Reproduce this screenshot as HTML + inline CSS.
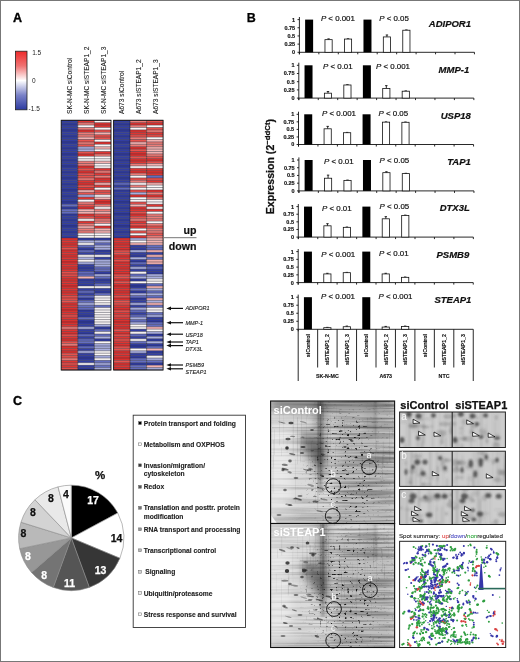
<!DOCTYPE html>
<html><head><meta charset="utf-8"><title>Figure</title>
<style>html,body{margin:0;padding:0;background:#fff;}svg{display:block;}</style></head>
<body><svg width="520" height="662" viewBox="0 0 520 662"><defs><filter id="blur4" x="-5%" y="-5%" width="110%" height="110%"><feGaussianBlur stdDeviation="0.4"/></filter><filter id="blur5" x="-5%" y="-5%" width="110%" height="110%"><feGaussianBlur stdDeviation="0.5"/></filter><filter id="blurBig" x="-20%" y="-20%" width="140%" height="140%"><feGaussianBlur stdDeviation="5"/></filter><filter id="blur7" x="-5%" y="-5%" width="110%" height="110%"><feGaussianBlur stdDeviation="0.7"/></filter><filter id="tex11" x="0" y="0" width="100%" height="100%"><feTurbulence type="fractalNoise" baseFrequency="0.03 0.5" numOctaves="2" seed="4"/><feColorMatrix type="matrix" values="0 0 0 0 0 0 0 0 0 0 0 0 0 0 0 -2.5 0 0 0 1.4"/></filter><filter id="tex23" x="0" y="0" width="100%" height="100%"><feTurbulence type="fractalNoise" baseFrequency="0.03 0.5" numOctaves="2" seed="9"/><feColorMatrix type="matrix" values="0 0 0 0 0 0 0 0 0 0 0 0 0 0 0 -2.5 0 0 0 1.4"/></filter><filter id="blur10" x="-5%" y="-5%" width="110%" height="110%"><feGaussianBlur stdDeviation="1.0"/></filter></defs>
<g><rect x="61.20" y="120.30" width="16.60" height="2.45" fill="#323ea2"/><rect x="77.80" y="120.30" width="16.60" height="2.45" fill="#e03430"/><rect x="94.40" y="120.30" width="16.60" height="2.45" fill="#faf6f6"/><rect x="113.60" y="120.30" width="16.50" height="2.45" fill="#323ea2"/><rect x="130.10" y="120.30" width="16.50" height="2.45" fill="#ec7d78"/><rect x="146.60" y="120.30" width="16.50" height="2.45" fill="#e8524c"/><rect x="61.20" y="122.70" width="16.60" height="2.45" fill="#323ea2"/><rect x="77.80" y="122.70" width="16.60" height="2.45" fill="#ec7d78"/><rect x="94.40" y="122.70" width="16.60" height="2.45" fill="#e03430"/><rect x="113.60" y="122.70" width="16.50" height="2.45" fill="#323ea2"/><rect x="130.10" y="122.70" width="16.50" height="2.45" fill="#e03430"/><rect x="146.60" y="122.70" width="16.50" height="2.45" fill="#e03430"/><rect x="61.20" y="125.10" width="16.60" height="2.45" fill="#323ea2"/><rect x="77.80" y="125.10" width="16.60" height="2.45" fill="#faf6f6"/><rect x="94.40" y="125.10" width="16.60" height="2.45" fill="#e03430"/><rect x="113.60" y="125.10" width="16.50" height="2.45" fill="#323ea2"/><rect x="130.10" y="125.10" width="16.50" height="2.45" fill="#ec7d78"/><rect x="146.60" y="125.10" width="16.50" height="2.45" fill="#faf6f6"/><rect x="61.20" y="127.50" width="16.60" height="2.45" fill="#323ea2"/><rect x="77.80" y="127.50" width="16.60" height="2.45" fill="#ec7d78"/><rect x="94.40" y="127.50" width="16.60" height="2.45" fill="#faf6f6"/><rect x="113.60" y="127.50" width="16.50" height="2.45" fill="#323ea2"/><rect x="130.10" y="127.50" width="16.50" height="2.45" fill="#faf6f6"/><rect x="146.60" y="127.50" width="16.50" height="2.45" fill="#e8524c"/><rect x="61.20" y="129.90" width="16.60" height="2.45" fill="#323ea2"/><rect x="77.80" y="129.90" width="16.60" height="2.45" fill="#e03430"/><rect x="94.40" y="129.90" width="16.60" height="2.45" fill="#e8524c"/><rect x="113.60" y="129.90" width="16.50" height="2.45" fill="#323ea2"/><rect x="130.10" y="129.90" width="16.50" height="2.45" fill="#e03430"/><rect x="146.60" y="129.90" width="16.50" height="2.45" fill="#ec7d78"/><rect x="61.20" y="132.30" width="16.60" height="2.45" fill="#323ea2"/><rect x="77.80" y="132.30" width="16.60" height="2.45" fill="#ec7d78"/><rect x="94.40" y="132.30" width="16.60" height="2.45" fill="#f4b2b0"/><rect x="113.60" y="132.30" width="16.50" height="2.45" fill="#323ea2"/><rect x="130.10" y="132.30" width="16.50" height="2.45" fill="#e03430"/><rect x="146.60" y="132.30" width="16.50" height="2.45" fill="#e03430"/><rect x="61.20" y="134.71" width="16.60" height="2.45" fill="#323ea2"/><rect x="77.80" y="134.71" width="16.60" height="2.45" fill="#ec7d78"/><rect x="94.40" y="134.71" width="16.60" height="2.45" fill="#e8524c"/><rect x="113.60" y="134.71" width="16.50" height="2.45" fill="#323ea2"/><rect x="130.10" y="134.71" width="16.50" height="2.45" fill="#e8524c"/><rect x="146.60" y="134.71" width="16.50" height="2.45" fill="#e8524c"/><rect x="61.20" y="137.11" width="16.60" height="2.45" fill="#323ea2"/><rect x="77.80" y="137.11" width="16.60" height="2.45" fill="#f4b2b0"/><rect x="94.40" y="137.11" width="16.60" height="2.45" fill="#e8524c"/><rect x="113.60" y="137.11" width="16.50" height="2.45" fill="#323ea2"/><rect x="130.10" y="137.11" width="16.50" height="2.45" fill="#ec7d78"/><rect x="146.60" y="137.11" width="16.50" height="2.45" fill="#faf6f6"/><rect x="61.20" y="139.51" width="16.60" height="2.45" fill="#323ea2"/><rect x="77.80" y="139.51" width="16.60" height="2.45" fill="#e8524c"/><rect x="94.40" y="139.51" width="16.60" height="2.45" fill="#faf6f6"/><rect x="113.60" y="139.51" width="16.50" height="2.45" fill="#323ea2"/><rect x="130.10" y="139.51" width="16.50" height="2.45" fill="#e8524c"/><rect x="146.60" y="139.51" width="16.50" height="2.45" fill="#f4b2b0"/><rect x="61.20" y="141.91" width="16.60" height="2.45" fill="#323ea2"/><rect x="77.80" y="141.91" width="16.60" height="2.45" fill="#ec7d78"/><rect x="94.40" y="141.91" width="16.60" height="2.45" fill="#e03430"/><rect x="113.60" y="141.91" width="16.50" height="2.45" fill="#323ea2"/><rect x="130.10" y="141.91" width="16.50" height="2.45" fill="#f4b2b0"/><rect x="146.60" y="141.91" width="16.50" height="2.45" fill="#ec7d78"/><rect x="61.20" y="144.31" width="16.60" height="2.45" fill="#323ea2"/><rect x="77.80" y="144.31" width="16.60" height="2.45" fill="#e8524c"/><rect x="94.40" y="144.31" width="16.60" height="2.45" fill="#faf6f6"/><rect x="113.60" y="144.31" width="16.50" height="2.45" fill="#323ea2"/><rect x="130.10" y="144.31" width="16.50" height="2.45" fill="#ec7d78"/><rect x="146.60" y="144.31" width="16.50" height="2.45" fill="#ec7d78"/><rect x="61.20" y="146.71" width="16.60" height="2.45" fill="#323ea2"/><rect x="77.80" y="146.71" width="16.60" height="2.45" fill="#a8aede"/><rect x="94.40" y="146.71" width="16.60" height="2.45" fill="#f4b2b0"/><rect x="113.60" y="146.71" width="16.50" height="2.45" fill="#323ea2"/><rect x="130.10" y="146.71" width="16.50" height="2.45" fill="#e03430"/><rect x="146.60" y="146.71" width="16.50" height="2.45" fill="#f4b2b0"/><rect x="61.20" y="149.11" width="16.60" height="2.45" fill="#323ea2"/><rect x="77.80" y="149.11" width="16.60" height="2.45" fill="#a8aede"/><rect x="94.40" y="149.11" width="16.60" height="2.45" fill="#faf6f6"/><rect x="113.60" y="149.11" width="16.50" height="2.45" fill="#323ea2"/><rect x="130.10" y="149.11" width="16.50" height="2.45" fill="#e8524c"/><rect x="146.60" y="149.11" width="16.50" height="2.45" fill="#f4b2b0"/><rect x="61.20" y="151.51" width="16.60" height="2.45" fill="#323ea2"/><rect x="77.80" y="151.51" width="16.60" height="2.45" fill="#e8524c"/><rect x="94.40" y="151.51" width="16.60" height="2.45" fill="#e03430"/><rect x="113.60" y="151.51" width="16.50" height="2.45" fill="#323ea2"/><rect x="130.10" y="151.51" width="16.50" height="2.45" fill="#e03430"/><rect x="146.60" y="151.51" width="16.50" height="2.45" fill="#f4b2b0"/><rect x="61.20" y="153.91" width="16.60" height="2.45" fill="#323ea2"/><rect x="77.80" y="153.91" width="16.60" height="2.45" fill="#e03430"/><rect x="94.40" y="153.91" width="16.60" height="2.45" fill="#ec7d78"/><rect x="113.60" y="153.91" width="16.50" height="2.45" fill="#323ea2"/><rect x="130.10" y="153.91" width="16.50" height="2.45" fill="#e03430"/><rect x="146.60" y="153.91" width="16.50" height="2.45" fill="#ec7d78"/><rect x="61.20" y="156.31" width="16.60" height="2.45" fill="#323ea2"/><rect x="77.80" y="156.31" width="16.60" height="2.45" fill="#faf6f6"/><rect x="94.40" y="156.31" width="16.60" height="2.45" fill="#faf6f6"/><rect x="113.60" y="156.31" width="16.50" height="2.45" fill="#323ea2"/><rect x="130.10" y="156.31" width="16.50" height="2.45" fill="#e8524c"/><rect x="146.60" y="156.31" width="16.50" height="2.45" fill="#e8524c"/><rect x="61.20" y="158.72" width="16.60" height="2.45" fill="#323ea2"/><rect x="77.80" y="158.72" width="16.60" height="2.45" fill="#faf6f6"/><rect x="94.40" y="158.72" width="16.60" height="2.45" fill="#faf6f6"/><rect x="113.60" y="158.72" width="16.50" height="2.45" fill="#323ea2"/><rect x="130.10" y="158.72" width="16.50" height="2.45" fill="#e03430"/><rect x="146.60" y="158.72" width="16.50" height="2.45" fill="#e03430"/><rect x="61.20" y="161.12" width="16.60" height="2.45" fill="#323ea2"/><rect x="77.80" y="161.12" width="16.60" height="2.45" fill="#ec7d78"/><rect x="94.40" y="161.12" width="16.60" height="2.45" fill="#f4b2b0"/><rect x="113.60" y="161.12" width="16.50" height="2.45" fill="#323ea2"/><rect x="130.10" y="161.12" width="16.50" height="2.45" fill="#e03430"/><rect x="146.60" y="161.12" width="16.50" height="2.45" fill="#e8524c"/><rect x="61.20" y="163.52" width="16.60" height="2.45" fill="#323ea2"/><rect x="77.80" y="163.52" width="16.60" height="2.45" fill="#ec7d78"/><rect x="94.40" y="163.52" width="16.60" height="2.45" fill="#faf6f6"/><rect x="113.60" y="163.52" width="16.50" height="2.45" fill="#323ea2"/><rect x="130.10" y="163.52" width="16.50" height="2.45" fill="#ec7d78"/><rect x="146.60" y="163.52" width="16.50" height="2.45" fill="#f4b2b0"/><rect x="61.20" y="165.92" width="16.60" height="2.45" fill="#323ea2"/><rect x="77.80" y="165.92" width="16.60" height="2.45" fill="#e03430"/><rect x="94.40" y="165.92" width="16.60" height="2.45" fill="#faf6f6"/><rect x="113.60" y="165.92" width="16.50" height="2.45" fill="#323ea2"/><rect x="130.10" y="165.92" width="16.50" height="2.45" fill="#faf6f6"/><rect x="146.60" y="165.92" width="16.50" height="2.45" fill="#faf6f6"/><rect x="61.20" y="168.32" width="16.60" height="2.45" fill="#323ea2"/><rect x="77.80" y="168.32" width="16.60" height="2.45" fill="#e8524c"/><rect x="94.40" y="168.32" width="16.60" height="2.45" fill="#e03430"/><rect x="113.60" y="168.32" width="16.50" height="2.45" fill="#323ea2"/><rect x="130.10" y="168.32" width="16.50" height="2.45" fill="#e03430"/><rect x="146.60" y="168.32" width="16.50" height="2.45" fill="#e03430"/><rect x="61.20" y="170.72" width="16.60" height="2.45" fill="#323ea2"/><rect x="77.80" y="170.72" width="16.60" height="2.45" fill="#e03430"/><rect x="94.40" y="170.72" width="16.60" height="2.45" fill="#ec7d78"/><rect x="113.60" y="170.72" width="16.50" height="2.45" fill="#323ea2"/><rect x="130.10" y="170.72" width="16.50" height="2.45" fill="#e03430"/><rect x="146.60" y="170.72" width="16.50" height="2.45" fill="#e03430"/><rect x="61.20" y="173.12" width="16.60" height="2.45" fill="#323ea2"/><rect x="77.80" y="173.12" width="16.60" height="2.45" fill="#e8524c"/><rect x="94.40" y="173.12" width="16.60" height="2.45" fill="#e03430"/><rect x="113.60" y="173.12" width="16.50" height="2.45" fill="#323ea2"/><rect x="130.10" y="173.12" width="16.50" height="2.45" fill="#ec7d78"/><rect x="146.60" y="173.12" width="16.50" height="2.45" fill="#e03430"/><rect x="61.20" y="175.52" width="16.60" height="2.45" fill="#323ea2"/><rect x="77.80" y="175.52" width="16.60" height="2.45" fill="#e8524c"/><rect x="94.40" y="175.52" width="16.60" height="2.45" fill="#ec7d78"/><rect x="113.60" y="175.52" width="16.50" height="2.45" fill="#323ea2"/><rect x="130.10" y="175.52" width="16.50" height="2.45" fill="#faf6f6"/><rect x="146.60" y="175.52" width="16.50" height="2.45" fill="#646ec0"/><rect x="61.20" y="177.92" width="16.60" height="2.45" fill="#323ea2"/><rect x="77.80" y="177.92" width="16.60" height="2.45" fill="#ec7d78"/><rect x="94.40" y="177.92" width="16.60" height="2.45" fill="#e03430"/><rect x="113.60" y="177.92" width="16.50" height="2.45" fill="#323ea2"/><rect x="130.10" y="177.92" width="16.50" height="2.45" fill="#e8524c"/><rect x="146.60" y="177.92" width="16.50" height="2.45" fill="#e8524c"/><rect x="61.20" y="180.32" width="16.60" height="2.45" fill="#323ea2"/><rect x="77.80" y="180.32" width="16.60" height="2.45" fill="#e03430"/><rect x="94.40" y="180.32" width="16.60" height="2.45" fill="#e03430"/><rect x="113.60" y="180.32" width="16.50" height="2.45" fill="#323ea2"/><rect x="130.10" y="180.32" width="16.50" height="2.45" fill="#ec7d78"/><rect x="146.60" y="180.32" width="16.50" height="2.45" fill="#e03430"/><rect x="61.20" y="182.72" width="16.60" height="2.45" fill="#323ea2"/><rect x="77.80" y="182.72" width="16.60" height="2.45" fill="#e03430"/><rect x="94.40" y="182.72" width="16.60" height="2.45" fill="#f4b2b0"/><rect x="113.60" y="182.72" width="16.50" height="2.45" fill="#646ec0"/><rect x="130.10" y="182.72" width="16.50" height="2.45" fill="#faf6f6"/><rect x="146.60" y="182.72" width="16.50" height="2.45" fill="#f4b2b0"/><rect x="61.20" y="185.13" width="16.60" height="2.45" fill="#323ea2"/><rect x="77.80" y="185.13" width="16.60" height="2.45" fill="#e8524c"/><rect x="94.40" y="185.13" width="16.60" height="2.45" fill="#e03430"/><rect x="113.60" y="185.13" width="16.50" height="2.45" fill="#323ea2"/><rect x="130.10" y="185.13" width="16.50" height="2.45" fill="#ec7d78"/><rect x="146.60" y="185.13" width="16.50" height="2.45" fill="#faf6f6"/><rect x="61.20" y="187.53" width="16.60" height="2.45" fill="#323ea2"/><rect x="77.80" y="187.53" width="16.60" height="2.45" fill="#e03430"/><rect x="94.40" y="187.53" width="16.60" height="2.45" fill="#faf6f6"/><rect x="113.60" y="187.53" width="16.50" height="2.45" fill="#646ec0"/><rect x="130.10" y="187.53" width="16.50" height="2.45" fill="#faf6f6"/><rect x="146.60" y="187.53" width="16.50" height="2.45" fill="#faf6f6"/><rect x="61.20" y="189.93" width="16.60" height="2.45" fill="#323ea2"/><rect x="77.80" y="189.93" width="16.60" height="2.45" fill="#f4b2b0"/><rect x="94.40" y="189.93" width="16.60" height="2.45" fill="#e8524c"/><rect x="113.60" y="189.93" width="16.50" height="2.45" fill="#323ea2"/><rect x="130.10" y="189.93" width="16.50" height="2.45" fill="#e8524c"/><rect x="146.60" y="189.93" width="16.50" height="2.45" fill="#e03430"/><rect x="61.20" y="192.33" width="16.60" height="2.45" fill="#323ea2"/><rect x="77.80" y="192.33" width="16.60" height="2.45" fill="#e8524c"/><rect x="94.40" y="192.33" width="16.60" height="2.45" fill="#e8524c"/><rect x="113.60" y="192.33" width="16.50" height="2.45" fill="#323ea2"/><rect x="130.10" y="192.33" width="16.50" height="2.45" fill="#a8aede"/><rect x="146.60" y="192.33" width="16.50" height="2.45" fill="#ec7d78"/><rect x="61.20" y="194.73" width="16.60" height="2.45" fill="#323ea2"/><rect x="77.80" y="194.73" width="16.60" height="2.45" fill="#a8aede"/><rect x="94.40" y="194.73" width="16.60" height="2.45" fill="#faf6f6"/><rect x="113.60" y="194.73" width="16.50" height="2.45" fill="#323ea2"/><rect x="130.10" y="194.73" width="16.50" height="2.45" fill="#e03430"/><rect x="146.60" y="194.73" width="16.50" height="2.45" fill="#e03430"/><rect x="61.20" y="197.13" width="16.60" height="2.45" fill="#323ea2"/><rect x="77.80" y="197.13" width="16.60" height="2.45" fill="#e03430"/><rect x="94.40" y="197.13" width="16.60" height="2.45" fill="#f4b2b0"/><rect x="113.60" y="197.13" width="16.50" height="2.45" fill="#323ea2"/><rect x="130.10" y="197.13" width="16.50" height="2.45" fill="#faf6f6"/><rect x="146.60" y="197.13" width="16.50" height="2.45" fill="#ec7d78"/><rect x="61.20" y="199.53" width="16.60" height="2.45" fill="#323ea2"/><rect x="77.80" y="199.53" width="16.60" height="2.45" fill="#faf6f6"/><rect x="94.40" y="199.53" width="16.60" height="2.45" fill="#e03430"/><rect x="113.60" y="199.53" width="16.50" height="2.45" fill="#323ea2"/><rect x="130.10" y="199.53" width="16.50" height="2.45" fill="#faf6f6"/><rect x="146.60" y="199.53" width="16.50" height="2.45" fill="#faf6f6"/><rect x="61.20" y="201.93" width="16.60" height="2.45" fill="#323ea2"/><rect x="77.80" y="201.93" width="16.60" height="2.45" fill="#ec7d78"/><rect x="94.40" y="201.93" width="16.60" height="2.45" fill="#e03430"/><rect x="113.60" y="201.93" width="16.50" height="2.45" fill="#323ea2"/><rect x="130.10" y="201.93" width="16.50" height="2.45" fill="#e8524c"/><rect x="146.60" y="201.93" width="16.50" height="2.45" fill="#faf6f6"/><rect x="61.20" y="204.33" width="16.60" height="2.45" fill="#646ec0"/><rect x="77.80" y="204.33" width="16.60" height="2.45" fill="#e8524c"/><rect x="94.40" y="204.33" width="16.60" height="2.45" fill="#ec7d78"/><rect x="113.60" y="204.33" width="16.50" height="2.45" fill="#323ea2"/><rect x="130.10" y="204.33" width="16.50" height="2.45" fill="#f4b2b0"/><rect x="146.60" y="204.33" width="16.50" height="2.45" fill="#e03430"/><rect x="61.20" y="206.73" width="16.60" height="2.45" fill="#323ea2"/><rect x="77.80" y="206.73" width="16.60" height="2.45" fill="#e03430"/><rect x="94.40" y="206.73" width="16.60" height="2.45" fill="#faf6f6"/><rect x="113.60" y="206.73" width="16.50" height="2.45" fill="#323ea2"/><rect x="130.10" y="206.73" width="16.50" height="2.45" fill="#e03430"/><rect x="146.60" y="206.73" width="16.50" height="2.45" fill="#faf6f6"/><rect x="61.20" y="209.14" width="16.60" height="2.45" fill="#646ec0"/><rect x="77.80" y="209.14" width="16.60" height="2.45" fill="#f4b2b0"/><rect x="94.40" y="209.14" width="16.60" height="2.45" fill="#ec7d78"/><rect x="113.60" y="209.14" width="16.50" height="2.45" fill="#323ea2"/><rect x="130.10" y="209.14" width="16.50" height="2.45" fill="#e03430"/><rect x="146.60" y="209.14" width="16.50" height="2.45" fill="#e03430"/><rect x="61.20" y="211.54" width="16.60" height="2.45" fill="#646ec0"/><rect x="77.80" y="211.54" width="16.60" height="2.45" fill="#f4b2b0"/><rect x="94.40" y="211.54" width="16.60" height="2.45" fill="#f4b2b0"/><rect x="113.60" y="211.54" width="16.50" height="2.45" fill="#323ea2"/><rect x="130.10" y="211.54" width="16.50" height="2.45" fill="#e8524c"/><rect x="146.60" y="211.54" width="16.50" height="2.45" fill="#faf6f6"/><rect x="61.20" y="213.94" width="16.60" height="2.45" fill="#323ea2"/><rect x="77.80" y="213.94" width="16.60" height="2.45" fill="#e03430"/><rect x="94.40" y="213.94" width="16.60" height="2.45" fill="#e8524c"/><rect x="113.60" y="213.94" width="16.50" height="2.45" fill="#323ea2"/><rect x="130.10" y="213.94" width="16.50" height="2.45" fill="#e03430"/><rect x="146.60" y="213.94" width="16.50" height="2.45" fill="#ec7d78"/><rect x="61.20" y="216.34" width="16.60" height="2.45" fill="#323ea2"/><rect x="77.80" y="216.34" width="16.60" height="2.45" fill="#e8524c"/><rect x="94.40" y="216.34" width="16.60" height="2.45" fill="#e03430"/><rect x="113.60" y="216.34" width="16.50" height="2.45" fill="#323ea2"/><rect x="130.10" y="216.34" width="16.50" height="2.45" fill="#e8524c"/><rect x="146.60" y="216.34" width="16.50" height="2.45" fill="#ec7d78"/><rect x="61.20" y="218.74" width="16.60" height="2.45" fill="#323ea2"/><rect x="77.80" y="218.74" width="16.60" height="2.45" fill="#faf6f6"/><rect x="94.40" y="218.74" width="16.60" height="2.45" fill="#ec7d78"/><rect x="113.60" y="218.74" width="16.50" height="2.45" fill="#323ea2"/><rect x="130.10" y="218.74" width="16.50" height="2.45" fill="#ec7d78"/><rect x="146.60" y="218.74" width="16.50" height="2.45" fill="#ec7d78"/><rect x="61.20" y="221.14" width="16.60" height="2.45" fill="#323ea2"/><rect x="77.80" y="221.14" width="16.60" height="2.45" fill="#e03430"/><rect x="94.40" y="221.14" width="16.60" height="2.45" fill="#ec7d78"/><rect x="113.60" y="221.14" width="16.50" height="2.45" fill="#323ea2"/><rect x="130.10" y="221.14" width="16.50" height="2.45" fill="#e03430"/><rect x="146.60" y="221.14" width="16.50" height="2.45" fill="#faf6f6"/><rect x="61.20" y="223.54" width="16.60" height="2.45" fill="#323ea2"/><rect x="77.80" y="223.54" width="16.60" height="2.45" fill="#ec7d78"/><rect x="94.40" y="223.54" width="16.60" height="2.45" fill="#faf6f6"/><rect x="113.60" y="223.54" width="16.50" height="2.45" fill="#323ea2"/><rect x="130.10" y="223.54" width="16.50" height="2.45" fill="#e8524c"/><rect x="146.60" y="223.54" width="16.50" height="2.45" fill="#ec7d78"/><rect x="61.20" y="225.94" width="16.60" height="2.45" fill="#323ea2"/><rect x="77.80" y="225.94" width="16.60" height="2.45" fill="#f4b2b0"/><rect x="94.40" y="225.94" width="16.60" height="2.45" fill="#e03430"/><rect x="113.60" y="225.94" width="16.50" height="2.45" fill="#323ea2"/><rect x="130.10" y="225.94" width="16.50" height="2.45" fill="#e03430"/><rect x="146.60" y="225.94" width="16.50" height="2.45" fill="#e8524c"/><rect x="61.20" y="228.34" width="16.60" height="2.45" fill="#323ea2"/><rect x="77.80" y="228.34" width="16.60" height="2.45" fill="#ec7d78"/><rect x="94.40" y="228.34" width="16.60" height="2.45" fill="#f4b2b0"/><rect x="113.60" y="228.34" width="16.50" height="2.45" fill="#323ea2"/><rect x="130.10" y="228.34" width="16.50" height="2.45" fill="#faf6f6"/><rect x="146.60" y="228.34" width="16.50" height="2.45" fill="#ec7d78"/><rect x="61.20" y="230.74" width="16.60" height="2.45" fill="#323ea2"/><rect x="77.80" y="230.74" width="16.60" height="2.45" fill="#ec7d78"/><rect x="94.40" y="230.74" width="16.60" height="2.45" fill="#f4b2b0"/><rect x="113.60" y="230.74" width="16.50" height="2.45" fill="#323ea2"/><rect x="130.10" y="230.74" width="16.50" height="2.45" fill="#e8524c"/><rect x="146.60" y="230.74" width="16.50" height="2.45" fill="#ec7d78"/><rect x="61.20" y="233.15" width="16.60" height="2.45" fill="#323ea2"/><rect x="77.80" y="233.15" width="16.60" height="2.45" fill="#faf6f6"/><rect x="94.40" y="233.15" width="16.60" height="2.45" fill="#faf6f6"/><rect x="113.60" y="233.15" width="16.50" height="2.45" fill="#323ea2"/><rect x="130.10" y="233.15" width="16.50" height="2.45" fill="#faf6f6"/><rect x="146.60" y="233.15" width="16.50" height="2.45" fill="#e8524c"/><rect x="61.20" y="235.55" width="16.60" height="2.45" fill="#323ea2"/><rect x="77.80" y="235.55" width="16.60" height="2.45" fill="#faf6f6"/><rect x="94.40" y="235.55" width="16.60" height="2.45" fill="#faf6f6"/><rect x="113.60" y="235.55" width="16.50" height="2.45" fill="#323ea2"/><rect x="130.10" y="235.55" width="16.50" height="2.45" fill="#e03430"/><rect x="146.60" y="235.55" width="16.50" height="2.45" fill="#ec7d78"/><rect x="61.20" y="237.95" width="16.60" height="2.45" fill="#e03430"/><rect x="77.80" y="237.95" width="16.60" height="2.45" fill="#323ea2"/><rect x="94.40" y="237.95" width="16.60" height="2.45" fill="#323ea2"/><rect x="113.60" y="237.95" width="16.50" height="2.45" fill="#e03430"/><rect x="130.10" y="237.95" width="16.50" height="2.45" fill="#a8aede"/><rect x="146.60" y="237.95" width="16.50" height="2.45" fill="#f4b2b0"/><rect x="61.20" y="240.35" width="16.60" height="2.45" fill="#e03430"/><rect x="77.80" y="240.35" width="16.60" height="2.45" fill="#a8aede"/><rect x="94.40" y="240.35" width="16.60" height="2.45" fill="#a8aede"/><rect x="113.60" y="240.35" width="16.50" height="2.45" fill="#e03430"/><rect x="130.10" y="240.35" width="16.50" height="2.45" fill="#faf6f6"/><rect x="146.60" y="240.35" width="16.50" height="2.45" fill="#f4b2b0"/><rect x="61.20" y="242.75" width="16.60" height="2.45" fill="#e03430"/><rect x="77.80" y="242.75" width="16.60" height="2.45" fill="#faf6f6"/><rect x="94.40" y="242.75" width="16.60" height="2.45" fill="#646ec0"/><rect x="113.60" y="242.75" width="16.50" height="2.45" fill="#e03430"/><rect x="130.10" y="242.75" width="16.50" height="2.45" fill="#f4b2b0"/><rect x="146.60" y="242.75" width="16.50" height="2.45" fill="#f4b2b0"/><rect x="61.20" y="245.15" width="16.60" height="2.45" fill="#e03430"/><rect x="77.80" y="245.15" width="16.60" height="2.45" fill="#646ec0"/><rect x="94.40" y="245.15" width="16.60" height="2.45" fill="#a8aede"/><rect x="113.60" y="245.15" width="16.50" height="2.45" fill="#e03430"/><rect x="130.10" y="245.15" width="16.50" height="2.45" fill="#323ea2"/><rect x="146.60" y="245.15" width="16.50" height="2.45" fill="#646ec0"/><rect x="61.20" y="247.55" width="16.60" height="2.45" fill="#e8524c"/><rect x="77.80" y="247.55" width="16.60" height="2.45" fill="#323ea2"/><rect x="94.40" y="247.55" width="16.60" height="2.45" fill="#a8aede"/><rect x="113.60" y="247.55" width="16.50" height="2.45" fill="#e03430"/><rect x="130.10" y="247.55" width="16.50" height="2.45" fill="#323ea2"/><rect x="146.60" y="247.55" width="16.50" height="2.45" fill="#646ec0"/><rect x="61.20" y="249.95" width="16.60" height="2.45" fill="#e03430"/><rect x="77.80" y="249.95" width="16.60" height="2.45" fill="#646ec0"/><rect x="94.40" y="249.95" width="16.60" height="2.45" fill="#323ea2"/><rect x="113.60" y="249.95" width="16.50" height="2.45" fill="#e8524c"/><rect x="130.10" y="249.95" width="16.50" height="2.45" fill="#a8aede"/><rect x="146.60" y="249.95" width="16.50" height="2.45" fill="#f4b2b0"/><rect x="61.20" y="252.35" width="16.60" height="2.45" fill="#e03430"/><rect x="77.80" y="252.35" width="16.60" height="2.45" fill="#323ea2"/><rect x="94.40" y="252.35" width="16.60" height="2.45" fill="#323ea2"/><rect x="113.60" y="252.35" width="16.50" height="2.45" fill="#e8524c"/><rect x="130.10" y="252.35" width="16.50" height="2.45" fill="#323ea2"/><rect x="146.60" y="252.35" width="16.50" height="2.45" fill="#323ea2"/><rect x="61.20" y="254.75" width="16.60" height="2.45" fill="#e03430"/><rect x="77.80" y="254.75" width="16.60" height="2.45" fill="#faf6f6"/><rect x="94.40" y="254.75" width="16.60" height="2.45" fill="#faf6f6"/><rect x="113.60" y="254.75" width="16.50" height="2.45" fill="#e03430"/><rect x="130.10" y="254.75" width="16.50" height="2.45" fill="#323ea2"/><rect x="146.60" y="254.75" width="16.50" height="2.45" fill="#f4b2b0"/><rect x="61.20" y="257.15" width="16.60" height="2.45" fill="#e03430"/><rect x="77.80" y="257.15" width="16.60" height="2.45" fill="#a8aede"/><rect x="94.40" y="257.15" width="16.60" height="2.45" fill="#323ea2"/><rect x="113.60" y="257.15" width="16.50" height="2.45" fill="#e03430"/><rect x="130.10" y="257.15" width="16.50" height="2.45" fill="#a8aede"/><rect x="146.60" y="257.15" width="16.50" height="2.45" fill="#646ec0"/><rect x="61.20" y="259.56" width="16.60" height="2.45" fill="#e03430"/><rect x="77.80" y="259.56" width="16.60" height="2.45" fill="#faf6f6"/><rect x="94.40" y="259.56" width="16.60" height="2.45" fill="#a8aede"/><rect x="113.60" y="259.56" width="16.50" height="2.45" fill="#e8524c"/><rect x="130.10" y="259.56" width="16.50" height="2.45" fill="#323ea2"/><rect x="146.60" y="259.56" width="16.50" height="2.45" fill="#f4b2b0"/><rect x="61.20" y="261.96" width="16.60" height="2.45" fill="#e03430"/><rect x="77.80" y="261.96" width="16.60" height="2.45" fill="#a8aede"/><rect x="94.40" y="261.96" width="16.60" height="2.45" fill="#a8aede"/><rect x="113.60" y="261.96" width="16.50" height="2.45" fill="#e03430"/><rect x="130.10" y="261.96" width="16.50" height="2.45" fill="#646ec0"/><rect x="146.60" y="261.96" width="16.50" height="2.45" fill="#f4b2b0"/><rect x="61.20" y="264.36" width="16.60" height="2.45" fill="#e03430"/><rect x="77.80" y="264.36" width="16.60" height="2.45" fill="#323ea2"/><rect x="94.40" y="264.36" width="16.60" height="2.45" fill="#a8aede"/><rect x="113.60" y="264.36" width="16.50" height="2.45" fill="#e03430"/><rect x="130.10" y="264.36" width="16.50" height="2.45" fill="#323ea2"/><rect x="146.60" y="264.36" width="16.50" height="2.45" fill="#323ea2"/><rect x="61.20" y="266.76" width="16.60" height="2.45" fill="#e03430"/><rect x="77.80" y="266.76" width="16.60" height="2.45" fill="#323ea2"/><rect x="94.40" y="266.76" width="16.60" height="2.45" fill="#646ec0"/><rect x="113.60" y="266.76" width="16.50" height="2.45" fill="#e03430"/><rect x="130.10" y="266.76" width="16.50" height="2.45" fill="#a8aede"/><rect x="146.60" y="266.76" width="16.50" height="2.45" fill="#646ec0"/><rect x="61.20" y="269.16" width="16.60" height="2.45" fill="#e03430"/><rect x="77.80" y="269.16" width="16.60" height="2.45" fill="#323ea2"/><rect x="94.40" y="269.16" width="16.60" height="2.45" fill="#646ec0"/><rect x="113.60" y="269.16" width="16.50" height="2.45" fill="#e03430"/><rect x="130.10" y="269.16" width="16.50" height="2.45" fill="#323ea2"/><rect x="146.60" y="269.16" width="16.50" height="2.45" fill="#323ea2"/><rect x="61.20" y="271.56" width="16.60" height="2.45" fill="#e8524c"/><rect x="77.80" y="271.56" width="16.60" height="2.45" fill="#646ec0"/><rect x="94.40" y="271.56" width="16.60" height="2.45" fill="#323ea2"/><rect x="113.60" y="271.56" width="16.50" height="2.45" fill="#e03430"/><rect x="130.10" y="271.56" width="16.50" height="2.45" fill="#faf6f6"/><rect x="146.60" y="271.56" width="16.50" height="2.45" fill="#323ea2"/><rect x="61.20" y="273.96" width="16.60" height="2.45" fill="#e8524c"/><rect x="77.80" y="273.96" width="16.60" height="2.45" fill="#646ec0"/><rect x="94.40" y="273.96" width="16.60" height="2.45" fill="#a8aede"/><rect x="113.60" y="273.96" width="16.50" height="2.45" fill="#e8524c"/><rect x="130.10" y="273.96" width="16.50" height="2.45" fill="#646ec0"/><rect x="146.60" y="273.96" width="16.50" height="2.45" fill="#a8aede"/><rect x="61.20" y="276.36" width="16.60" height="2.45" fill="#e03430"/><rect x="77.80" y="276.36" width="16.60" height="2.45" fill="#f4b2b0"/><rect x="94.40" y="276.36" width="16.60" height="2.45" fill="#646ec0"/><rect x="113.60" y="276.36" width="16.50" height="2.45" fill="#e8524c"/><rect x="130.10" y="276.36" width="16.50" height="2.45" fill="#a8aede"/><rect x="146.60" y="276.36" width="16.50" height="2.45" fill="#a8aede"/><rect x="61.20" y="278.76" width="16.60" height="2.45" fill="#e03430"/><rect x="77.80" y="278.76" width="16.60" height="2.45" fill="#323ea2"/><rect x="94.40" y="278.76" width="16.60" height="2.45" fill="#323ea2"/><rect x="113.60" y="278.76" width="16.50" height="2.45" fill="#e03430"/><rect x="130.10" y="278.76" width="16.50" height="2.45" fill="#323ea2"/><rect x="146.60" y="278.76" width="16.50" height="2.45" fill="#faf6f6"/><rect x="61.20" y="281.16" width="16.60" height="2.45" fill="#e03430"/><rect x="77.80" y="281.16" width="16.60" height="2.45" fill="#323ea2"/><rect x="94.40" y="281.16" width="16.60" height="2.45" fill="#323ea2"/><rect x="113.60" y="281.16" width="16.50" height="2.45" fill="#e8524c"/><rect x="130.10" y="281.16" width="16.50" height="2.45" fill="#faf6f6"/><rect x="146.60" y="281.16" width="16.50" height="2.45" fill="#faf6f6"/><rect x="61.20" y="283.57" width="16.60" height="2.45" fill="#e03430"/><rect x="77.80" y="283.57" width="16.60" height="2.45" fill="#323ea2"/><rect x="94.40" y="283.57" width="16.60" height="2.45" fill="#646ec0"/><rect x="113.60" y="283.57" width="16.50" height="2.45" fill="#e03430"/><rect x="130.10" y="283.57" width="16.50" height="2.45" fill="#323ea2"/><rect x="146.60" y="283.57" width="16.50" height="2.45" fill="#646ec0"/><rect x="61.20" y="285.97" width="16.60" height="2.45" fill="#e03430"/><rect x="77.80" y="285.97" width="16.60" height="2.45" fill="#faf6f6"/><rect x="94.40" y="285.97" width="16.60" height="2.45" fill="#faf6f6"/><rect x="113.60" y="285.97" width="16.50" height="2.45" fill="#e03430"/><rect x="130.10" y="285.97" width="16.50" height="2.45" fill="#323ea2"/><rect x="146.60" y="285.97" width="16.50" height="2.45" fill="#f4b2b0"/><rect x="61.20" y="288.37" width="16.60" height="2.45" fill="#e03430"/><rect x="77.80" y="288.37" width="16.60" height="2.45" fill="#323ea2"/><rect x="94.40" y="288.37" width="16.60" height="2.45" fill="#323ea2"/><rect x="113.60" y="288.37" width="16.50" height="2.45" fill="#e03430"/><rect x="130.10" y="288.37" width="16.50" height="2.45" fill="#646ec0"/><rect x="146.60" y="288.37" width="16.50" height="2.45" fill="#a8aede"/><rect x="61.20" y="290.77" width="16.60" height="2.45" fill="#e03430"/><rect x="77.80" y="290.77" width="16.60" height="2.45" fill="#646ec0"/><rect x="94.40" y="290.77" width="16.60" height="2.45" fill="#323ea2"/><rect x="113.60" y="290.77" width="16.50" height="2.45" fill="#e03430"/><rect x="130.10" y="290.77" width="16.50" height="2.45" fill="#323ea2"/><rect x="146.60" y="290.77" width="16.50" height="2.45" fill="#646ec0"/><rect x="61.20" y="293.17" width="16.60" height="2.45" fill="#e03430"/><rect x="77.80" y="293.17" width="16.60" height="2.45" fill="#323ea2"/><rect x="94.40" y="293.17" width="16.60" height="2.45" fill="#646ec0"/><rect x="113.60" y="293.17" width="16.50" height="2.45" fill="#e03430"/><rect x="130.10" y="293.17" width="16.50" height="2.45" fill="#a8aede"/><rect x="146.60" y="293.17" width="16.50" height="2.45" fill="#a8aede"/><rect x="61.20" y="295.57" width="16.60" height="2.45" fill="#e8524c"/><rect x="77.80" y="295.57" width="16.60" height="2.45" fill="#646ec0"/><rect x="94.40" y="295.57" width="16.60" height="2.45" fill="#faf6f6"/><rect x="113.60" y="295.57" width="16.50" height="2.45" fill="#e8524c"/><rect x="130.10" y="295.57" width="16.50" height="2.45" fill="#646ec0"/><rect x="146.60" y="295.57" width="16.50" height="2.45" fill="#646ec0"/><rect x="61.20" y="297.97" width="16.60" height="2.45" fill="#e8524c"/><rect x="77.80" y="297.97" width="16.60" height="2.45" fill="#323ea2"/><rect x="94.40" y="297.97" width="16.60" height="2.45" fill="#faf6f6"/><rect x="113.60" y="297.97" width="16.50" height="2.45" fill="#e03430"/><rect x="130.10" y="297.97" width="16.50" height="2.45" fill="#323ea2"/><rect x="146.60" y="297.97" width="16.50" height="2.45" fill="#f4b2b0"/><rect x="61.20" y="300.37" width="16.60" height="2.45" fill="#e8524c"/><rect x="77.80" y="300.37" width="16.60" height="2.45" fill="#646ec0"/><rect x="94.40" y="300.37" width="16.60" height="2.45" fill="#faf6f6"/><rect x="113.60" y="300.37" width="16.50" height="2.45" fill="#e8524c"/><rect x="130.10" y="300.37" width="16.50" height="2.45" fill="#323ea2"/><rect x="146.60" y="300.37" width="16.50" height="2.45" fill="#a8aede"/><rect x="61.20" y="302.77" width="16.60" height="2.45" fill="#e03430"/><rect x="77.80" y="302.77" width="16.60" height="2.45" fill="#a8aede"/><rect x="94.40" y="302.77" width="16.60" height="2.45" fill="#faf6f6"/><rect x="113.60" y="302.77" width="16.50" height="2.45" fill="#e8524c"/><rect x="130.10" y="302.77" width="16.50" height="2.45" fill="#a8aede"/><rect x="146.60" y="302.77" width="16.50" height="2.45" fill="#f4b2b0"/><rect x="61.20" y="305.17" width="16.60" height="2.45" fill="#e03430"/><rect x="77.80" y="305.17" width="16.60" height="2.45" fill="#646ec0"/><rect x="94.40" y="305.17" width="16.60" height="2.45" fill="#646ec0"/><rect x="113.60" y="305.17" width="16.50" height="2.45" fill="#e03430"/><rect x="130.10" y="305.17" width="16.50" height="2.45" fill="#323ea2"/><rect x="146.60" y="305.17" width="16.50" height="2.45" fill="#646ec0"/><rect x="61.20" y="307.57" width="16.60" height="2.45" fill="#e03430"/><rect x="77.80" y="307.57" width="16.60" height="2.45" fill="#646ec0"/><rect x="94.40" y="307.57" width="16.60" height="2.45" fill="#faf6f6"/><rect x="113.60" y="307.57" width="16.50" height="2.45" fill="#e03430"/><rect x="130.10" y="307.57" width="16.50" height="2.45" fill="#a8aede"/><rect x="146.60" y="307.57" width="16.50" height="2.45" fill="#faf6f6"/><rect x="61.20" y="309.98" width="16.60" height="2.45" fill="#e03430"/><rect x="77.80" y="309.98" width="16.60" height="2.45" fill="#323ea2"/><rect x="94.40" y="309.98" width="16.60" height="2.45" fill="#faf6f6"/><rect x="113.60" y="309.98" width="16.50" height="2.45" fill="#e8524c"/><rect x="130.10" y="309.98" width="16.50" height="2.45" fill="#646ec0"/><rect x="146.60" y="309.98" width="16.50" height="2.45" fill="#faf6f6"/><rect x="61.20" y="312.38" width="16.60" height="2.45" fill="#e03430"/><rect x="77.80" y="312.38" width="16.60" height="2.45" fill="#323ea2"/><rect x="94.40" y="312.38" width="16.60" height="2.45" fill="#faf6f6"/><rect x="113.60" y="312.38" width="16.50" height="2.45" fill="#e03430"/><rect x="130.10" y="312.38" width="16.50" height="2.45" fill="#323ea2"/><rect x="146.60" y="312.38" width="16.50" height="2.45" fill="#646ec0"/><rect x="61.20" y="314.78" width="16.60" height="2.45" fill="#e8524c"/><rect x="77.80" y="314.78" width="16.60" height="2.45" fill="#323ea2"/><rect x="94.40" y="314.78" width="16.60" height="2.45" fill="#faf6f6"/><rect x="113.60" y="314.78" width="16.50" height="2.45" fill="#e8524c"/><rect x="130.10" y="314.78" width="16.50" height="2.45" fill="#646ec0"/><rect x="146.60" y="314.78" width="16.50" height="2.45" fill="#a8aede"/><rect x="61.20" y="317.18" width="16.60" height="2.45" fill="#e03430"/><rect x="77.80" y="317.18" width="16.60" height="2.45" fill="#646ec0"/><rect x="94.40" y="317.18" width="16.60" height="2.45" fill="#faf6f6"/><rect x="113.60" y="317.18" width="16.50" height="2.45" fill="#e03430"/><rect x="130.10" y="317.18" width="16.50" height="2.45" fill="#a8aede"/><rect x="146.60" y="317.18" width="16.50" height="2.45" fill="#323ea2"/><rect x="61.20" y="319.58" width="16.60" height="2.45" fill="#e03430"/><rect x="77.80" y="319.58" width="16.60" height="2.45" fill="#323ea2"/><rect x="94.40" y="319.58" width="16.60" height="2.45" fill="#faf6f6"/><rect x="113.60" y="319.58" width="16.50" height="2.45" fill="#e03430"/><rect x="130.10" y="319.58" width="16.50" height="2.45" fill="#646ec0"/><rect x="146.60" y="319.58" width="16.50" height="2.45" fill="#323ea2"/><rect x="61.20" y="321.98" width="16.60" height="2.45" fill="#e03430"/><rect x="77.80" y="321.98" width="16.60" height="2.45" fill="#323ea2"/><rect x="94.40" y="321.98" width="16.60" height="2.45" fill="#faf6f6"/><rect x="113.60" y="321.98" width="16.50" height="2.45" fill="#e03430"/><rect x="130.10" y="321.98" width="16.50" height="2.45" fill="#a8aede"/><rect x="146.60" y="321.98" width="16.50" height="2.45" fill="#646ec0"/><rect x="61.20" y="324.38" width="16.60" height="2.45" fill="#e03430"/><rect x="77.80" y="324.38" width="16.60" height="2.45" fill="#323ea2"/><rect x="94.40" y="324.38" width="16.60" height="2.45" fill="#a8aede"/><rect x="113.60" y="324.38" width="16.50" height="2.45" fill="#e03430"/><rect x="130.10" y="324.38" width="16.50" height="2.45" fill="#faf6f6"/><rect x="146.60" y="324.38" width="16.50" height="2.45" fill="#646ec0"/><rect x="61.20" y="326.78" width="16.60" height="2.45" fill="#ec7d78"/><rect x="77.80" y="326.78" width="16.60" height="2.45" fill="#a8aede"/><rect x="94.40" y="326.78" width="16.60" height="2.45" fill="#323ea2"/><rect x="113.60" y="326.78" width="16.50" height="2.45" fill="#e03430"/><rect x="130.10" y="326.78" width="16.50" height="2.45" fill="#faf6f6"/><rect x="146.60" y="326.78" width="16.50" height="2.45" fill="#f4b2b0"/><rect x="61.20" y="329.18" width="16.60" height="2.45" fill="#e03430"/><rect x="77.80" y="329.18" width="16.60" height="2.45" fill="#323ea2"/><rect x="94.40" y="329.18" width="16.60" height="2.45" fill="#646ec0"/><rect x="113.60" y="329.18" width="16.50" height="2.45" fill="#e8524c"/><rect x="130.10" y="329.18" width="16.50" height="2.45" fill="#323ea2"/><rect x="146.60" y="329.18" width="16.50" height="2.45" fill="#faf6f6"/><rect x="61.20" y="331.58" width="16.60" height="2.45" fill="#e03430"/><rect x="77.80" y="331.58" width="16.60" height="2.45" fill="#323ea2"/><rect x="94.40" y="331.58" width="16.60" height="2.45" fill="#faf6f6"/><rect x="113.60" y="331.58" width="16.50" height="2.45" fill="#e03430"/><rect x="130.10" y="331.58" width="16.50" height="2.45" fill="#faf6f6"/><rect x="146.60" y="331.58" width="16.50" height="2.45" fill="#a8aede"/><rect x="61.20" y="333.99" width="16.60" height="2.45" fill="#e8524c"/><rect x="77.80" y="333.99" width="16.60" height="2.45" fill="#646ec0"/><rect x="94.40" y="333.99" width="16.60" height="2.45" fill="#646ec0"/><rect x="113.60" y="333.99" width="16.50" height="2.45" fill="#e8524c"/><rect x="130.10" y="333.99" width="16.50" height="2.45" fill="#646ec0"/><rect x="146.60" y="333.99" width="16.50" height="2.45" fill="#323ea2"/><rect x="61.20" y="336.39" width="16.60" height="2.45" fill="#e03430"/><rect x="77.80" y="336.39" width="16.60" height="2.45" fill="#323ea2"/><rect x="94.40" y="336.39" width="16.60" height="2.45" fill="#a8aede"/><rect x="113.60" y="336.39" width="16.50" height="2.45" fill="#e03430"/><rect x="130.10" y="336.39" width="16.50" height="2.45" fill="#323ea2"/><rect x="146.60" y="336.39" width="16.50" height="2.45" fill="#a8aede"/><rect x="61.20" y="338.79" width="16.60" height="2.45" fill="#e03430"/><rect x="77.80" y="338.79" width="16.60" height="2.45" fill="#646ec0"/><rect x="94.40" y="338.79" width="16.60" height="2.45" fill="#323ea2"/><rect x="113.60" y="338.79" width="16.50" height="2.45" fill="#e8524c"/><rect x="130.10" y="338.79" width="16.50" height="2.45" fill="#faf6f6"/><rect x="146.60" y="338.79" width="16.50" height="2.45" fill="#323ea2"/><rect x="61.20" y="341.19" width="16.60" height="2.45" fill="#e8524c"/><rect x="77.80" y="341.19" width="16.60" height="2.45" fill="#646ec0"/><rect x="94.40" y="341.19" width="16.60" height="2.45" fill="#faf6f6"/><rect x="113.60" y="341.19" width="16.50" height="2.45" fill="#e03430"/><rect x="130.10" y="341.19" width="16.50" height="2.45" fill="#646ec0"/><rect x="146.60" y="341.19" width="16.50" height="2.45" fill="#a8aede"/><rect x="61.20" y="343.59" width="16.60" height="2.45" fill="#ec7d78"/><rect x="77.80" y="343.59" width="16.60" height="2.45" fill="#323ea2"/><rect x="94.40" y="343.59" width="16.60" height="2.45" fill="#a8aede"/><rect x="113.60" y="343.59" width="16.50" height="2.45" fill="#e03430"/><rect x="130.10" y="343.59" width="16.50" height="2.45" fill="#323ea2"/><rect x="146.60" y="343.59" width="16.50" height="2.45" fill="#323ea2"/><rect x="61.20" y="345.99" width="16.60" height="2.45" fill="#e03430"/><rect x="77.80" y="345.99" width="16.60" height="2.45" fill="#646ec0"/><rect x="94.40" y="345.99" width="16.60" height="2.45" fill="#a8aede"/><rect x="113.60" y="345.99" width="16.50" height="2.45" fill="#e8524c"/><rect x="130.10" y="345.99" width="16.50" height="2.45" fill="#323ea2"/><rect x="146.60" y="345.99" width="16.50" height="2.45" fill="#646ec0"/><rect x="61.20" y="348.39" width="16.60" height="2.45" fill="#e03430"/><rect x="77.80" y="348.39" width="16.60" height="2.45" fill="#323ea2"/><rect x="94.40" y="348.39" width="16.60" height="2.45" fill="#a8aede"/><rect x="113.60" y="348.39" width="16.50" height="2.45" fill="#e8524c"/><rect x="130.10" y="348.39" width="16.50" height="2.45" fill="#faf6f6"/><rect x="146.60" y="348.39" width="16.50" height="2.45" fill="#f4b2b0"/><rect x="61.20" y="350.79" width="16.60" height="2.45" fill="#e03430"/><rect x="77.80" y="350.79" width="16.60" height="2.45" fill="#a8aede"/><rect x="94.40" y="350.79" width="16.60" height="2.45" fill="#faf6f6"/><rect x="113.60" y="350.79" width="16.50" height="2.45" fill="#e03430"/><rect x="130.10" y="350.79" width="16.50" height="2.45" fill="#a8aede"/><rect x="146.60" y="350.79" width="16.50" height="2.45" fill="#323ea2"/><rect x="61.20" y="353.19" width="16.60" height="2.45" fill="#e8524c"/><rect x="77.80" y="353.19" width="16.60" height="2.45" fill="#323ea2"/><rect x="94.40" y="353.19" width="16.60" height="2.45" fill="#faf6f6"/><rect x="113.60" y="353.19" width="16.50" height="2.45" fill="#e03430"/><rect x="130.10" y="353.19" width="16.50" height="2.45" fill="#323ea2"/><rect x="146.60" y="353.19" width="16.50" height="2.45" fill="#323ea2"/><rect x="61.20" y="355.59" width="16.60" height="2.45" fill="#e8524c"/><rect x="77.80" y="355.59" width="16.60" height="2.45" fill="#323ea2"/><rect x="94.40" y="355.59" width="16.60" height="2.45" fill="#a8aede"/><rect x="113.60" y="355.59" width="16.50" height="2.45" fill="#e03430"/><rect x="130.10" y="355.59" width="16.50" height="2.45" fill="#323ea2"/><rect x="146.60" y="355.59" width="16.50" height="2.45" fill="#faf6f6"/><rect x="61.20" y="358.00" width="16.60" height="2.45" fill="#ec7d78"/><rect x="77.80" y="358.00" width="16.60" height="2.45" fill="#323ea2"/><rect x="94.40" y="358.00" width="16.60" height="2.45" fill="#faf6f6"/><rect x="113.60" y="358.00" width="16.50" height="2.45" fill="#e03430"/><rect x="130.10" y="358.00" width="16.50" height="2.45" fill="#646ec0"/><rect x="146.60" y="358.00" width="16.50" height="2.45" fill="#a8aede"/><rect x="61.20" y="360.40" width="16.60" height="2.45" fill="#e03430"/><rect x="77.80" y="360.40" width="16.60" height="2.45" fill="#323ea2"/><rect x="94.40" y="360.40" width="16.60" height="2.45" fill="#646ec0"/><rect x="113.60" y="360.40" width="16.50" height="2.45" fill="#e8524c"/><rect x="130.10" y="360.40" width="16.50" height="2.45" fill="#646ec0"/><rect x="146.60" y="360.40" width="16.50" height="2.45" fill="#646ec0"/><rect x="61.20" y="362.80" width="16.60" height="2.45" fill="#e8524c"/><rect x="77.80" y="362.80" width="16.60" height="2.45" fill="#faf6f6"/><rect x="94.40" y="362.80" width="16.60" height="2.45" fill="#a8aede"/><rect x="113.60" y="362.80" width="16.50" height="2.45" fill="#e03430"/><rect x="130.10" y="362.80" width="16.50" height="2.45" fill="#323ea2"/><rect x="146.60" y="362.80" width="16.50" height="2.45" fill="#323ea2"/><rect x="61.20" y="365.20" width="16.60" height="2.45" fill="#e03430"/><rect x="77.80" y="365.20" width="16.60" height="2.45" fill="#323ea2"/><rect x="94.40" y="365.20" width="16.60" height="2.45" fill="#646ec0"/><rect x="113.60" y="365.20" width="16.50" height="2.45" fill="#e03430"/><rect x="130.10" y="365.20" width="16.50" height="2.45" fill="#646ec0"/><rect x="146.60" y="365.20" width="16.50" height="2.45" fill="#f4b2b0"/><rect x="61.20" y="367.60" width="16.60" height="2.45" fill="#e8524c"/><rect x="77.80" y="367.60" width="16.60" height="2.45" fill="#323ea2"/><rect x="94.40" y="367.60" width="16.60" height="2.45" fill="#a8aede"/><rect x="113.60" y="367.60" width="16.50" height="2.45" fill="#e03430"/><rect x="130.10" y="367.60" width="16.50" height="2.45" fill="#646ec0"/><rect x="146.60" y="367.60" width="16.50" height="2.45" fill="#a8aede"/><path d="M61.2 120.30H111M113.6 120.30H163.1M61.2 122.70H111M113.6 122.70H163.1M61.2 125.10H111M113.6 125.10H163.1M61.2 127.50H111M113.6 127.50H163.1M61.2 129.90H111M113.6 129.90H163.1M61.2 132.30H111M113.6 132.30H163.1M61.2 134.71H111M113.6 134.71H163.1M61.2 137.11H111M113.6 137.11H163.1M61.2 139.51H111M113.6 139.51H163.1M61.2 141.91H111M113.6 141.91H163.1M61.2 144.31H111M113.6 144.31H163.1M61.2 146.71H111M113.6 146.71H163.1M61.2 149.11H111M113.6 149.11H163.1M61.2 151.51H111M113.6 151.51H163.1M61.2 153.91H111M113.6 153.91H163.1M61.2 156.31H111M113.6 156.31H163.1M61.2 158.72H111M113.6 158.72H163.1M61.2 161.12H111M113.6 161.12H163.1M61.2 163.52H111M113.6 163.52H163.1M61.2 165.92H111M113.6 165.92H163.1M61.2 168.32H111M113.6 168.32H163.1M61.2 170.72H111M113.6 170.72H163.1M61.2 173.12H111M113.6 173.12H163.1M61.2 175.52H111M113.6 175.52H163.1M61.2 177.92H111M113.6 177.92H163.1M61.2 180.32H111M113.6 180.32H163.1M61.2 182.72H111M113.6 182.72H163.1M61.2 185.13H111M113.6 185.13H163.1M61.2 187.53H111M113.6 187.53H163.1M61.2 189.93H111M113.6 189.93H163.1M61.2 192.33H111M113.6 192.33H163.1M61.2 194.73H111M113.6 194.73H163.1M61.2 197.13H111M113.6 197.13H163.1M61.2 199.53H111M113.6 199.53H163.1M61.2 201.93H111M113.6 201.93H163.1M61.2 204.33H111M113.6 204.33H163.1M61.2 206.73H111M113.6 206.73H163.1M61.2 209.14H111M113.6 209.14H163.1M61.2 211.54H111M113.6 211.54H163.1M61.2 213.94H111M113.6 213.94H163.1M61.2 216.34H111M113.6 216.34H163.1M61.2 218.74H111M113.6 218.74H163.1M61.2 221.14H111M113.6 221.14H163.1M61.2 223.54H111M113.6 223.54H163.1M61.2 225.94H111M113.6 225.94H163.1M61.2 228.34H111M113.6 228.34H163.1M61.2 230.74H111M113.6 230.74H163.1M61.2 233.15H111M113.6 233.15H163.1M61.2 235.55H111M113.6 235.55H163.1M61.2 237.95H111M113.6 237.95H163.1M61.2 240.35H111M113.6 240.35H163.1M61.2 242.75H111M113.6 242.75H163.1M61.2 245.15H111M113.6 245.15H163.1M61.2 247.55H111M113.6 247.55H163.1M61.2 249.95H111M113.6 249.95H163.1M61.2 252.35H111M113.6 252.35H163.1M61.2 254.75H111M113.6 254.75H163.1M61.2 257.15H111M113.6 257.15H163.1M61.2 259.56H111M113.6 259.56H163.1M61.2 261.96H111M113.6 261.96H163.1M61.2 264.36H111M113.6 264.36H163.1M61.2 266.76H111M113.6 266.76H163.1M61.2 269.16H111M113.6 269.16H163.1M61.2 271.56H111M113.6 271.56H163.1M61.2 273.96H111M113.6 273.96H163.1M61.2 276.36H111M113.6 276.36H163.1M61.2 278.76H111M113.6 278.76H163.1M61.2 281.16H111M113.6 281.16H163.1M61.2 283.57H111M113.6 283.57H163.1M61.2 285.97H111M113.6 285.97H163.1M61.2 288.37H111M113.6 288.37H163.1M61.2 290.77H111M113.6 290.77H163.1M61.2 293.17H111M113.6 293.17H163.1M61.2 295.57H111M113.6 295.57H163.1M61.2 297.97H111M113.6 297.97H163.1M61.2 300.37H111M113.6 300.37H163.1M61.2 302.77H111M113.6 302.77H163.1M61.2 305.17H111M113.6 305.17H163.1M61.2 307.57H111M113.6 307.57H163.1M61.2 309.98H111M113.6 309.98H163.1M61.2 312.38H111M113.6 312.38H163.1M61.2 314.78H111M113.6 314.78H163.1M61.2 317.18H111M113.6 317.18H163.1M61.2 319.58H111M113.6 319.58H163.1M61.2 321.98H111M113.6 321.98H163.1M61.2 324.38H111M113.6 324.38H163.1M61.2 326.78H111M113.6 326.78H163.1M61.2 329.18H111M113.6 329.18H163.1M61.2 331.58H111M113.6 331.58H163.1M61.2 333.99H111M113.6 333.99H163.1M61.2 336.39H111M113.6 336.39H163.1M61.2 338.79H111M113.6 338.79H163.1M61.2 341.19H111M113.6 341.19H163.1M61.2 343.59H111M113.6 343.59H163.1M61.2 345.99H111M113.6 345.99H163.1M61.2 348.39H111M113.6 348.39H163.1M61.2 350.79H111M113.6 350.79H163.1M61.2 353.19H111M113.6 353.19H163.1M61.2 355.59H111M113.6 355.59H163.1M61.2 358.00H111M113.6 358.00H163.1M61.2 360.40H111M113.6 360.40H163.1M61.2 362.80H111M113.6 362.80H163.1M61.2 365.20H111M113.6 365.20H163.1M61.2 367.60H111M113.6 367.60H163.1M61.2 370.00H111M113.6 370.00H163.1" stroke="#1c1c2c" stroke-opacity="0.8" stroke-width="0.55" fill="none"/><path d="M77.80 120.3V370.0M94.40 120.3V370.0M130.10 120.3V370.0M146.60 120.3V370.0" stroke="#111" stroke-opacity="0.7" stroke-width="0.6" fill="none"/><rect x="61.2" y="120.3" width="49.8" height="249.70" fill="none" stroke="#111" stroke-width="0.9"/><rect x="113.6" y="120.3" width="49.5" height="249.70" fill="none" stroke="#111" stroke-width="0.9"/></g>
<defs><linearGradient id="lg" x1="0" y1="0" x2="0" y2="1">
<stop offset="0" stop-color="#ee2a2a"/><stop offset="0.25" stop-color="#f07272"/><stop offset="0.5" stop-color="#ffffff"/>
<stop offset="0.75" stop-color="#7a82c8"/><stop offset="1" stop-color="#2c3aa0"/></linearGradient></defs>
<rect x="15.4" y="51.2" width="11.6" height="58.6" fill="url(#lg)" stroke="#222" stroke-width="0.8"/>
<g font-family="'Liberation Sans', Arial, Helvetica, sans-serif" font-size="6.5" fill="#222"><text x="32.2" y="55">1.5</text><text x="32" y="83.4">0</text><text x="28.6" y="110.6">-1.5</text></g>
<g font-family="'Liberation Sans', Arial, Helvetica, sans-serif" font-size="6.6" fill="#222" stroke="#222" stroke-width="0.1"><text transform="translate(72.1,114) rotate(-90)">SK-N-MC siControl</text><text transform="translate(88.8,114) rotate(-90)">SK-N-MC siSTEAP1_2</text><text transform="translate(106.3,114) rotate(-90)">SK-N-MC siSTEAP1_3</text><text transform="translate(124.1,114) rotate(-90)">A673 siControl</text><text transform="translate(140.8,114) rotate(-90)">A673 siSTEAP1_2</text><text transform="translate(158.0,114) rotate(-90)">A673 siSTEAP1_3</text></g>
<path d="M163.5 237.7H196.5" stroke="#777" stroke-width="1"/>
<g font-family="'Liberation Sans', Arial, Helvetica, sans-serif" font-weight="bold" font-size="10.6" fill="#111" stroke="#111" stroke-width="0.2"><text x="196.5" y="233.6" text-anchor="end">up</text><text x="196.5" y="250" text-anchor="end">down</text></g>
<g><path d="M170 308.4H183" stroke="#111" stroke-width="1.2"/><path d="M166.4 308.4L171 306.59999999999997L171 310.2Z" fill="#111"/><path d="M170 322.7H183" stroke="#111" stroke-width="1.2"/><path d="M166.4 322.7L171 320.9L171 324.5Z" fill="#111"/><path d="M170 334.2H183" stroke="#111" stroke-width="1.2"/><path d="M166.4 334.2L171 332.4L171 336.0Z" fill="#111"/><path d="M170 342.0H183" stroke="#111" stroke-width="1.2"/><path d="M166.4 342.0L171 340.2L171 343.8Z" fill="#111"/><path d="M170 345.6H183" stroke="#111" stroke-width="1.2"/><path d="M166.4 345.6L171 343.8L171 347.40000000000003Z" fill="#111"/><path d="M170 365.0H183" stroke="#111" stroke-width="1.2"/><path d="M166.4 365.0L171 363.2L171 366.8Z" fill="#111"/><path d="M170 368.8H183" stroke="#111" stroke-width="1.2"/><path d="M166.4 368.8L171 367.0L171 370.6Z" fill="#111"/></g>
<g font-family="'Liberation Sans', Arial, Helvetica, sans-serif" font-style="italic" font-size="5.5" fill="#222" stroke="#222" stroke-width="0.12"><text x="185.4" y="309.9">ADIPOR1</text><text x="185.4" y="325.0">MMP-1</text><text x="185.4" y="336.5">USP18</text><text x="185.4" y="344.4">TAP1</text><text x="185.4" y="350.6">DTX3L</text><text x="185.4" y="367.4">PSMB9</text><text x="185.4" y="373.6">STEAP1</text></g>
<text x="13.1" y="22.3" font-family="'Liberation Sans', Arial, Helvetica, sans-serif" font-weight="bold" font-size="12.5" fill="#000" stroke="#000" stroke-width="0.35">A</text>
<path d="M299.4 17.00V54.30M297.5 52.30H299.4M297.5 44.12H299.4M297.5 35.95H299.4M297.5 27.77H299.4M297.5 19.60H299.4M299.4 52.3H474.44999999999993M299.40 52.3V54.30M318.85 52.3V54.30M338.30 52.3V54.30M357.75 52.3V54.30M377.20 52.3V54.30M396.65 52.3V54.30M416.10 52.3V54.30M435.55 52.3V54.30M455.00 52.3V54.30M474.45 52.3V54.30M328.57 39.65V38.89M327.38 38.89H329.77M346.82 38.76H349.22M386.92 36.93V34.97M385.72 34.97H388.12M405.18 29.93H407.57M298.8 62.70V100.10M296.90000000000003 98.10H298.8M296.90000000000003 89.90H298.8M296.90000000000003 81.70H298.8M296.90000000000003 73.50H298.8M296.90000000000003 65.30H298.8M298.8 98.1H473.85M298.80 98.1V100.10M318.25 98.1V100.10M337.70 98.1V100.10M357.15 98.1V100.10M376.60 98.1V100.10M396.05 98.1V100.10M415.50 98.1V100.10M434.95 98.1V100.10M454.40 98.1V100.10M473.85 98.1V100.10M327.98 93.18V91.54M326.78 91.54H329.18M346.23 84.68H348.62M386.32 88.59V85.64M385.12 85.64H387.52M404.57 90.91H406.97M298.5 111.70V146.50M296.6 144.50H298.5M296.6 136.95H298.5M296.6 129.40H298.5M296.6 121.85H298.5M296.6 114.30H298.5M298.5 144.5H473.54999999999995M298.50 144.5V146.50M317.95 144.5V146.50M337.40 144.5V146.50M356.85 144.5V146.50M376.30 144.5V146.50M395.75 144.5V146.50M415.20 144.5V146.50M434.65 144.5V146.50M454.10 144.5V146.50M473.55 144.5V146.50M327.68 128.80V126.38M326.48 126.38H328.88M345.93 132.42H348.32M384.82 121.85H387.22M404.28 122.00H406.68M298.9 157.40V192.90M297.0 190.90H298.9M297.0 183.18H298.9M297.0 175.45H298.9M297.0 167.72H298.9M297.0 160.00H298.9M298.9 190.9H473.94999999999993M298.90 190.9V192.90M318.35 190.9V192.90M337.80 190.9V192.90M357.25 190.9V192.90M376.70 190.9V192.90M396.15 190.9V192.90M415.60 190.9V192.90M435.05 190.9V192.90M454.50 190.9V192.90M473.95 190.9V192.90M328.07 178.23V175.14M326.88 175.14H329.27M346.32 180.09H348.72M386.42 172.67V171.74M385.22 171.74H387.62M404.68 173.30H407.07M298.3 204.00V239.10M296.40000000000003 237.10H298.3M296.40000000000003 229.47H298.3M296.40000000000003 221.85H298.3M296.40000000000003 214.22H298.3M296.40000000000003 206.60H298.3M298.3 237.1H473.35M298.30 237.1V239.10M317.75 237.1V239.10M337.20 237.1V239.10M356.65 237.1V239.10M376.10 237.1V239.10M395.55 237.1V239.10M415.00 237.1V239.10M434.45 237.1V239.10M453.90 237.1V239.10M473.35 237.1V239.10M327.48 225.81V223.68M326.28 223.68H328.68M345.73 227.04H348.12M385.82 218.80V216.66M384.62 216.66H387.02M404.07 215.14H406.47M298.2 249.00V284.60M296.3 282.60H298.2M296.3 274.85H298.2M296.3 267.10H298.2M296.3 259.35H298.2M296.3 251.60H298.2M298.2 282.6H473.25M298.20 282.6V284.60M317.65 282.6V284.60M337.10 282.6V284.60M356.55 282.6V284.60M376.00 282.6V284.60M395.45 282.6V284.60M414.90 282.6V284.60M434.35 282.6V284.60M453.80 282.6V284.60M473.25 282.6V284.60M327.38 273.92V273.30M326.18 273.30H328.57M345.62 272.38H348.02M385.72 273.92V273.30M384.52 273.30H386.92M403.97 277.03H406.37M298.2 294.60V331.30M296.3 329.30H298.2M296.3 321.27H298.2M296.3 313.25H298.2M296.3 305.23H298.2M296.3 297.20H298.2M298.2 329.3H473.25M327.38 327.69V327.37M326.18 327.37H328.57M346.82 326.73V326.09M345.62 326.09H348.02M385.72 327.05V326.41M384.52 326.41H386.92M405.17 326.41V326.09M403.97 326.09H406.37M298.20 329.3V381.0M317.65 329.3V367.5M337.10 329.3V367.5M356.55 329.3V381.0M376.00 329.3V367.5M395.45 329.3V367.5M414.90 329.3V381.0M434.35 329.3V367.5M453.80 329.3V367.5M473.25 329.3V381.0" stroke="#111" stroke-width="0.9" fill="none"/>
<rect x="305.12" y="19.60" width="8.0" height="32.70" fill="#000"/>
<rect x="363.47" y="19.60" width="8.0" height="32.70" fill="#000"/>
<rect x="324.97" y="39.65" width="7.20" height="12.65" fill="#fff" stroke="#111" stroke-width="0.8"/>
<rect x="344.42" y="39.06" width="7.20" height="13.24" fill="#fff" stroke="#111" stroke-width="0.8"/>
<rect x="383.32" y="36.93" width="7.20" height="15.37" fill="#fff" stroke="#111" stroke-width="0.8"/>
<rect x="402.77" y="30.23" width="7.20" height="22.07" fill="#fff" stroke="#111" stroke-width="0.8"/>
<rect x="304.53" y="65.30" width="8.0" height="32.80" fill="#000"/>
<rect x="362.88" y="65.30" width="8.0" height="32.80" fill="#000"/>
<rect x="324.38" y="93.18" width="7.20" height="4.92" fill="#fff" stroke="#111" stroke-width="0.8"/>
<rect x="343.82" y="84.98" width="7.20" height="13.12" fill="#fff" stroke="#111" stroke-width="0.8"/>
<rect x="382.72" y="88.59" width="7.20" height="9.51" fill="#fff" stroke="#111" stroke-width="0.8"/>
<rect x="402.17" y="91.21" width="7.20" height="6.89" fill="#fff" stroke="#111" stroke-width="0.8"/>
<rect x="304.23" y="114.30" width="8.0" height="30.20" fill="#000"/>
<rect x="362.57" y="114.30" width="8.0" height="30.20" fill="#000"/>
<rect x="324.07" y="128.80" width="7.20" height="15.70" fill="#fff" stroke="#111" stroke-width="0.8"/>
<rect x="343.52" y="132.72" width="7.20" height="11.78" fill="#fff" stroke="#111" stroke-width="0.8"/>
<rect x="382.42" y="122.15" width="7.20" height="22.35" fill="#fff" stroke="#111" stroke-width="0.8"/>
<rect x="401.88" y="122.30" width="7.20" height="22.20" fill="#fff" stroke="#111" stroke-width="0.8"/>
<rect x="304.62" y="160.00" width="8.0" height="30.90" fill="#000"/>
<rect x="362.97" y="160.00" width="8.0" height="30.90" fill="#000"/>
<rect x="324.47" y="178.23" width="7.20" height="12.67" fill="#fff" stroke="#111" stroke-width="0.8"/>
<rect x="343.92" y="180.39" width="7.20" height="10.51" fill="#fff" stroke="#111" stroke-width="0.8"/>
<rect x="382.82" y="172.67" width="7.20" height="18.23" fill="#fff" stroke="#111" stroke-width="0.8"/>
<rect x="402.27" y="173.60" width="7.20" height="17.30" fill="#fff" stroke="#111" stroke-width="0.8"/>
<rect x="304.03" y="206.60" width="8.0" height="30.50" fill="#000"/>
<rect x="362.38" y="206.60" width="8.0" height="30.50" fill="#000"/>
<rect x="323.88" y="225.81" width="7.20" height="11.29" fill="#fff" stroke="#111" stroke-width="0.8"/>
<rect x="343.32" y="227.34" width="7.20" height="9.76" fill="#fff" stroke="#111" stroke-width="0.8"/>
<rect x="382.22" y="218.80" width="7.20" height="18.30" fill="#fff" stroke="#111" stroke-width="0.8"/>
<rect x="401.67" y="215.44" width="7.20" height="21.65" fill="#fff" stroke="#111" stroke-width="0.8"/>
<rect x="303.93" y="251.60" width="8.0" height="31.00" fill="#000"/>
<rect x="362.27" y="251.60" width="8.0" height="31.00" fill="#000"/>
<rect x="323.77" y="273.92" width="7.20" height="8.68" fill="#fff" stroke="#111" stroke-width="0.8"/>
<rect x="343.22" y="272.68" width="7.20" height="9.92" fill="#fff" stroke="#111" stroke-width="0.8"/>
<rect x="382.12" y="273.92" width="7.20" height="8.68" fill="#fff" stroke="#111" stroke-width="0.8"/>
<rect x="401.57" y="277.33" width="7.20" height="5.27" fill="#fff" stroke="#111" stroke-width="0.8"/>
<rect x="303.93" y="297.20" width="8.0" height="32.10" fill="#000"/>
<rect x="362.27" y="297.20" width="8.0" height="32.10" fill="#000"/>
<rect x="323.77" y="327.69" width="7.20" height="1.61" fill="#fff" stroke="#111" stroke-width="0.8"/>
<rect x="343.22" y="326.73" width="7.20" height="2.57" fill="#fff" stroke="#111" stroke-width="0.8"/>
<rect x="382.12" y="327.05" width="7.20" height="2.25" fill="#fff" stroke="#111" stroke-width="0.8"/>
<rect x="401.57" y="326.41" width="7.20" height="2.89" fill="#fff" stroke="#111" stroke-width="0.8"/>
<g font-family="'Liberation Sans', Arial, Helvetica, sans-serif" fill="#111"><text x="295.1" y="54.20" text-anchor="end" font-weight="bold" font-size="5.5" stroke="#111" stroke-width="0.15">0</text><text x="295.1" y="46.02" text-anchor="end" font-weight="bold" font-size="5.5" stroke="#111" stroke-width="0.15">0.25</text><text x="295.1" y="37.85" text-anchor="end" font-weight="bold" font-size="5.5" stroke="#111" stroke-width="0.15">0.5</text><text x="295.1" y="29.67" text-anchor="end" font-weight="bold" font-size="5.5" stroke="#111" stroke-width="0.15">0.75</text><text x="295.1" y="21.50" text-anchor="end" font-weight="bold" font-size="5.5" stroke="#111" stroke-width="0.15">1</text><text x="320.9" y="21.3" font-size="7.9" stroke="#111" stroke-width="0.2"><tspan font-style="italic">P</tspan> < 0.001</text><text x="379.2" y="21.3" font-size="7.9" stroke="#111" stroke-width="0.2"><tspan font-style="italic">P</tspan> < 0.05</text><text x="471.0" y="27.20" text-anchor="end" font-weight="bold" font-style="italic" font-size="9.5" stroke="#111" stroke-width="0.2">ADIPOR1</text><text x="294.5" y="100.00" text-anchor="end" font-weight="bold" font-size="5.5" stroke="#111" stroke-width="0.15">0</text><text x="294.5" y="91.80" text-anchor="end" font-weight="bold" font-size="5.5" stroke="#111" stroke-width="0.15">0.25</text><text x="294.5" y="83.60" text-anchor="end" font-weight="bold" font-size="5.5" stroke="#111" stroke-width="0.15">0.5</text><text x="294.5" y="75.40" text-anchor="end" font-weight="bold" font-size="5.5" stroke="#111" stroke-width="0.15">0.75</text><text x="294.5" y="67.20" text-anchor="end" font-weight="bold" font-size="5.5" stroke="#111" stroke-width="0.15">1</text><text x="323.0" y="69.3" font-size="7.9" stroke="#111" stroke-width="0.2"><tspan font-style="italic">P</tspan> < 0.01</text><text x="376.0" y="69.3" font-size="7.9" stroke="#111" stroke-width="0.2"><tspan font-style="italic">P</tspan> < 0.001</text><text x="469.2" y="72.90" text-anchor="end" font-weight="bold" font-style="italic" font-size="9.5" stroke="#111" stroke-width="0.2">MMP-1</text><text x="294.2" y="146.40" text-anchor="end" font-weight="bold" font-size="5.5" stroke="#111" stroke-width="0.15">0</text><text x="294.2" y="138.85" text-anchor="end" font-weight="bold" font-size="5.5" stroke="#111" stroke-width="0.15">0.25</text><text x="294.2" y="131.30" text-anchor="end" font-weight="bold" font-size="5.5" stroke="#111" stroke-width="0.15">0.5</text><text x="294.2" y="123.75" text-anchor="end" font-weight="bold" font-size="5.5" stroke="#111" stroke-width="0.15">0.75</text><text x="294.2" y="116.20" text-anchor="end" font-weight="bold" font-size="5.5" stroke="#111" stroke-width="0.15">1</text><text x="322.0" y="116.3" font-size="7.9" stroke="#111" stroke-width="0.2"><tspan font-style="italic">P</tspan> < 0.001</text><text x="378.5" y="116.3" font-size="7.9" stroke="#111" stroke-width="0.2"><tspan font-style="italic">P</tspan> < 0.05</text><text x="470.8" y="118.60" text-anchor="end" font-weight="bold" font-style="italic" font-size="9.5" stroke="#111" stroke-width="0.2">USP18</text><text x="294.6" y="192.80" text-anchor="end" font-weight="bold" font-size="5.5" stroke="#111" stroke-width="0.15">0</text><text x="294.6" y="185.08" text-anchor="end" font-weight="bold" font-size="5.5" stroke="#111" stroke-width="0.15">0.25</text><text x="294.6" y="177.35" text-anchor="end" font-weight="bold" font-size="5.5" stroke="#111" stroke-width="0.15">0.5</text><text x="294.6" y="169.62" text-anchor="end" font-weight="bold" font-size="5.5" stroke="#111" stroke-width="0.15">0.75</text><text x="294.6" y="161.90" text-anchor="end" font-weight="bold" font-size="5.5" stroke="#111" stroke-width="0.15">1</text><text x="324.0" y="164.3" font-size="7.9" stroke="#111" stroke-width="0.2"><tspan font-style="italic">P</tspan> < 0.01</text><text x="379.6" y="163.2" font-size="7.9" stroke="#111" stroke-width="0.2"><tspan font-style="italic">P</tspan> < 0.05</text><text x="470.8" y="165.30" text-anchor="end" font-weight="bold" font-style="italic" font-size="9.5" stroke="#111" stroke-width="0.2">TAP1</text><text x="294.0" y="239.00" text-anchor="end" font-weight="bold" font-size="5.5" stroke="#111" stroke-width="0.15">0</text><text x="294.0" y="231.38" text-anchor="end" font-weight="bold" font-size="5.5" stroke="#111" stroke-width="0.15">0.25</text><text x="294.0" y="223.75" text-anchor="end" font-weight="bold" font-size="5.5" stroke="#111" stroke-width="0.15">0.5</text><text x="294.0" y="216.12" text-anchor="end" font-weight="bold" font-size="5.5" stroke="#111" stroke-width="0.15">0.75</text><text x="294.0" y="208.50" text-anchor="end" font-weight="bold" font-size="5.5" stroke="#111" stroke-width="0.15">1</text><text x="322.0" y="210.5" font-size="7.9" stroke="#111" stroke-width="0.2"><tspan font-style="italic">P</tspan> < 0.01</text><text x="379.6" y="208.6" font-size="7.9" stroke="#111" stroke-width="0.2"><tspan font-style="italic">P</tspan> < 0.05</text><text x="469.8" y="211.40" text-anchor="end" font-weight="bold" font-style="italic" font-size="9.5" stroke="#111" stroke-width="0.2">DTX3L</text><text x="293.9" y="284.50" text-anchor="end" font-weight="bold" font-size="5.5" stroke="#111" stroke-width="0.15">0</text><text x="293.9" y="276.75" text-anchor="end" font-weight="bold" font-size="5.5" stroke="#111" stroke-width="0.15">0.25</text><text x="293.9" y="269.00" text-anchor="end" font-weight="bold" font-size="5.5" stroke="#111" stroke-width="0.15">0.5</text><text x="293.9" y="261.25" text-anchor="end" font-weight="bold" font-size="5.5" stroke="#111" stroke-width="0.15">0.75</text><text x="293.9" y="253.50" text-anchor="end" font-weight="bold" font-size="5.5" stroke="#111" stroke-width="0.15">1</text><text x="321.2" y="257.1" font-size="7.9" stroke="#111" stroke-width="0.2"><tspan font-style="italic">P</tspan> < 0.001</text><text x="379.0" y="256.2" font-size="7.9" stroke="#111" stroke-width="0.2"><tspan font-style="italic">P</tspan> < 0.01</text><text x="469.2" y="258.00" text-anchor="end" font-weight="bold" font-style="italic" font-size="9.5" stroke="#111" stroke-width="0.2">PSMB9</text><text x="293.9" y="331.20" text-anchor="end" font-weight="bold" font-size="5.5" stroke="#111" stroke-width="0.15">0</text><text x="293.9" y="323.17" text-anchor="end" font-weight="bold" font-size="5.5" stroke="#111" stroke-width="0.15">0.25</text><text x="293.9" y="315.15" text-anchor="end" font-weight="bold" font-size="5.5" stroke="#111" stroke-width="0.15">0.5</text><text x="293.9" y="307.12" text-anchor="end" font-weight="bold" font-size="5.5" stroke="#111" stroke-width="0.15">0.75</text><text x="293.9" y="299.10" text-anchor="end" font-weight="bold" font-size="5.5" stroke="#111" stroke-width="0.15">1</text><text x="321.0" y="299.3" font-size="7.9" stroke="#111" stroke-width="0.2"><tspan font-style="italic">P</tspan> < 0.001</text><text x="378.5" y="299.3" font-size="7.9" stroke="#111" stroke-width="0.2"><tspan font-style="italic">P</tspan> < 0.001</text><text x="471.4" y="303.40" text-anchor="end" font-weight="bold" font-style="italic" font-size="9.5" stroke="#111" stroke-width="0.2">STEAP1</text><text transform="translate(309.82,334) rotate(-90)" text-anchor="end" font-weight="bold" font-size="5.3" stroke="#111" stroke-width="0.12">siControl</text><text transform="translate(329.27,334) rotate(-90)" text-anchor="end" font-weight="bold" font-size="5.3" stroke="#111" stroke-width="0.12">siSTEAP1_2</text><text transform="translate(348.72,334) rotate(-90)" text-anchor="end" font-weight="bold" font-size="5.3" stroke="#111" stroke-width="0.12">siSTEAP1_3</text><text transform="translate(368.17,334) rotate(-90)" text-anchor="end" font-weight="bold" font-size="5.3" stroke="#111" stroke-width="0.12">siControl</text><text transform="translate(387.62,334) rotate(-90)" text-anchor="end" font-weight="bold" font-size="5.3" stroke="#111" stroke-width="0.12">siSTEAP1_2</text><text transform="translate(407.07,334) rotate(-90)" text-anchor="end" font-weight="bold" font-size="5.3" stroke="#111" stroke-width="0.12">siSTEAP1_3</text><text transform="translate(426.52,334) rotate(-90)" text-anchor="end" font-weight="bold" font-size="5.3" stroke="#111" stroke-width="0.12">siControl</text><text transform="translate(445.97,334) rotate(-90)" text-anchor="end" font-weight="bold" font-size="5.3" stroke="#111" stroke-width="0.12">siSTEAP1_2</text><text transform="translate(465.42,334) rotate(-90)" text-anchor="end" font-weight="bold" font-size="5.3" stroke="#111" stroke-width="0.12">siSTEAP1_3</text><text x="327.38" y="378.3" text-anchor="middle" font-weight="bold" font-size="5.3" stroke="#111" stroke-width="0.12">SK-N-MC</text><text x="385.72" y="378.3" text-anchor="middle" font-weight="bold" font-size="5.3" stroke="#111" stroke-width="0.12">A673</text><text x="444.07" y="378.3" text-anchor="middle" font-weight="bold" font-size="5.3" stroke="#111" stroke-width="0.12">NTC</text></g>
<text transform="translate(274.3,214.2) rotate(-90)" font-family="'Liberation Sans', Arial, Helvetica, sans-serif" font-weight="bold" font-size="10.6" fill="#111" stroke="#111" stroke-width="0.25">Expression (2<tspan font-size="7.8" dy="-4.2">−ddCt</tspan><tspan dy="4.2">)</tspan></text>
<text x="246.7" y="22.3" font-family="'Liberation Sans', Arial, Helvetica, sans-serif" font-weight="bold" font-size="12.5" fill="#000" stroke="#000" stroke-width="0.25">B</text>
<path d="M71.3 537.9L71.30 485.20A52.7 52.7 0 0 1 117.75 513.01Z" fill="#000000" stroke="#8a8a8a" stroke-width="0.6"/>
<path d="M71.3 537.9L117.75 513.01A52.7 52.7 0 0 1 119.91 558.26Z" fill="#ffffff" stroke="#8a8a8a" stroke-width="0.6"/>
<path d="M71.3 537.9L119.91 558.26A52.7 52.7 0 0 1 89.32 587.42Z" fill="#363636" stroke="#8a8a8a" stroke-width="0.6"/>
<path d="M71.3 537.9L89.32 587.42A52.7 52.7 0 0 1 53.28 587.42Z" fill="#555555" stroke="#8a8a8a" stroke-width="0.6"/>
<path d="M71.3 537.9L53.28 587.42A52.7 52.7 0 0 1 31.47 572.41Z" fill="#747474" stroke="#8a8a8a" stroke-width="0.6"/>
<path d="M71.3 537.9L31.47 572.41A52.7 52.7 0 0 1 19.72 548.69Z" fill="#979797" stroke="#8a8a8a" stroke-width="0.6"/>
<path d="M71.3 537.9L19.72 548.69A52.7 52.7 0 0 1 20.98 522.25Z" fill="#b9b9b9" stroke="#8a8a8a" stroke-width="0.6"/>
<path d="M71.3 537.9L20.98 522.25A52.7 52.7 0 0 1 34.93 499.76Z" fill="#d3d3d3" stroke="#8a8a8a" stroke-width="0.6"/>
<path d="M71.3 537.9L34.93 499.76A52.7 52.7 0 0 1 58.06 486.89Z" fill="#e9e9e9" stroke="#8a8a8a" stroke-width="0.6"/>
<path d="M71.3 537.9L58.06 486.89A52.7 52.7 0 0 1 71.30 485.20Z" fill="#fbfbfb" stroke="#8a8a8a" stroke-width="0.6"/>
<g font-family="'Liberation Sans', Arial, Helvetica, sans-serif" font-weight="bold" font-size="10.5" text-anchor="middle" stroke-width="0.25"><text x="93.0" y="503.8" fill="#fff" stroke="#fff">17</text><text x="116.6" y="541.6" fill="#111" stroke="#111">14</text><text x="100.5" y="573.8" fill="#fff" stroke="#fff">13</text><text x="69.5" y="586.8" fill="#fff" stroke="#fff">11</text><text x="44.2" y="578.5" fill="#fff" stroke="#fff">8</text><text x="28.0" y="560.0" fill="#fff" stroke="#fff">8</text><text x="23.4" y="536.5" fill="#111" stroke="#111">8</text><text x="33.0" y="515.8" fill="#111" stroke="#111">8</text><text x="51.0" y="501.8" fill="#111" stroke="#111">8</text><text x="65.8" y="497.8" fill="#111" stroke="#111">4</text></g>
<text x="100.2" y="479.4" font-family="'Liberation Sans', Arial, Helvetica, sans-serif" font-weight="bold" font-size="11.5" text-anchor="middle" fill="#111" stroke="#111" stroke-width="0.25">%</text>
<text x="13.1" y="404.5" font-family="'Liberation Sans', Arial, Helvetica, sans-serif" font-weight="bold" font-size="12.5" fill="#000" stroke="#000" stroke-width="0.35">C</text>
<rect x="133.2" y="415.2" width="112.3" height="212.3" fill="#fff" stroke="#333" stroke-width="0.9"/>
<rect x="138.6" y="421.7" width="2.8" height="2.8" fill="#000" stroke="#666" stroke-width="0.5"/>
<rect x="138.6" y="442.9" width="2.8" height="2.8" fill="#fff" stroke="#666" stroke-width="0.5"/>
<rect x="138.6" y="463.9" width="2.8" height="2.8" fill="#363636" stroke="#666" stroke-width="0.5"/>
<rect x="138.6" y="485.4" width="2.8" height="2.8" fill="#555" stroke="#666" stroke-width="0.5"/>
<rect x="138.6" y="506.4" width="2.8" height="2.8" fill="#747474" stroke="#666" stroke-width="0.5"/>
<rect x="138.6" y="527.9" width="2.8" height="2.8" fill="#979797" stroke="#666" stroke-width="0.5"/>
<rect x="138.6" y="548.9" width="2.8" height="2.8" fill="#b9b9b9" stroke="#666" stroke-width="0.5"/>
<rect x="138.6" y="570.4" width="2.8" height="2.8" fill="#d3d3d3" stroke="#666" stroke-width="0.5"/>
<rect x="138.6" y="591.7" width="2.8" height="2.8" fill="#e9e9e9" stroke="#666" stroke-width="0.5"/>
<rect x="138.6" y="612.9" width="2.8" height="2.8" fill="#fbfbfb" stroke="#666" stroke-width="0.5"/>
<g font-family="'Liberation Sans', Arial, Helvetica, sans-serif" font-weight="bold" font-size="6.7" fill="#222" stroke="#222" stroke-width="0.12"><text x="143.7" y="425.7">Protein transport and folding</text><text x="143.7" y="446.9">Metabolism and OXPHOS</text><text x="143.7" y="467.9">Invasion/migration/</text><text x="143.7" y="476.2">cytoskeleton</text><text x="143.7" y="489.4">Redox</text><text x="143.7" y="510.4">Translation and posttr. protein</text><text x="143.7" y="518.7">modification</text><text x="143.7" y="531.9">RNA transport and processing</text><text x="143.7" y="552.9">Transcriptional control</text><text x="145.2" y="574.4">Signaling</text><text x="143.7" y="595.7">Ubiquitin/proteasome</text><text x="143.7" y="616.9">Stress response and survival</text></g>
<filter id="spg11" x="0" y="0" width="100%" height="100%"><feTurbulence type="fractalNoise" baseFrequency="0.36 0.46" numOctaves="1" seed="11"/><feColorMatrix type="matrix" values="0 0 0 0 0  0 0 0 0 0  0 0 0 0 0  10 0 0 0 -6.35"/><feGaussianBlur stdDeviation="0.4"/></filter>
<filter id="stg11" x="0" y="0" width="100%" height="100%"><feTurbulence type="fractalNoise" baseFrequency="0.012 0.45" numOctaves="2" seed="12"/><feColorMatrix type="matrix" values="0 0 0 0 0  0 0 0 0 0  0 0 0 0 0  -3 0 0 0 1.75"/></filter>
<clipPath id="cg11"><rect x="270.6" y="401.0" width="124.0" height="122.5"/></clipPath>
<g clip-path="url(#cg11)">
<rect x="270.6" y="401.0" width="124.0" height="122.5" fill="#dadada"/>
<g filter="url(#blurBig)"><rect x="270.6" y="397.0" width="124.0" height="14" fill="#000" opacity="0.35"/><rect x="315.2" y="401.0" width="11" height="76.0" fill="#000" opacity="0.3"/><ellipse cx="314.2" cy="452.4" rx="9" ry="16" fill="#000" opacity="0.2" transform="rotate(-35 314.2 452.4)"/><rect x="335.1" y="413.2" width="59.5" height="104.1" fill="#000" opacity="0.12"/><rect x="367.3" y="401.0" width="5" height="36.8" fill="#000" opacity="0.15"/><rect x="270.6" y="514.5" width="124.0" height="12" fill="#000" opacity="0.13"/><rect x="266.6" y="425.5" width="24.8" height="85.8" fill="#fff" opacity="0.4"/><ellipse cx="312" cy="447" rx="8" ry="20" fill="#000" opacity="0.3" transform="rotate(-30 312 447)"/></g>
<g filter="url(#blur7)"><rect x="272" y="427" width="120" height="1.3" fill="#222" opacity="0.18"/><rect x="360" y="452" width="35" height="1.3" fill="#222" opacity="0.3"/><rect x="355" y="458" width="40" height="1.3" fill="#222" opacity="0.25"/><rect x="365" y="473" width="30" height="1.3" fill="#222" opacity="0.25"/><rect x="350" y="503" width="45" height="1.3" fill="#222" opacity="0.2"/><rect x="300" y="437" width="60" height="1.3" fill="#222" opacity="0.15"/></g>
<g filter="url(#blur10)"><rect x="318.2" y="401.0" width="4.5" height="91.9" fill="#000" opacity="0.22"/><rect x="373.5" y="401.0" width="3.5" height="34.3" fill="#000" opacity="0.12"/></g>
<rect x="320.4" y="401.0" width="0.6" height="83.3" fill="#111" opacity="0.12"/><rect x="320.5" y="401.0" width="0.6" height="80.1" fill="#111" opacity="0.10"/><rect x="318.5" y="401.0" width="0.6" height="80.4" fill="#111" opacity="0.10"/><rect x="322.8" y="401.0" width="0.6" height="54.8" fill="#111" opacity="0.07"/><rect x="317.8" y="401.0" width="0.6" height="98.6" fill="#111" opacity="0.11"/><rect x="317.5" y="401.0" width="0.6" height="109.2" fill="#111" opacity="0.13"/>
<linearGradient id="mg11g" x1="0" y1="0" x2="1" y2="0"><stop offset="0" stop-color="#fff" stop-opacity="0.2"/><stop offset="0.3" stop-color="#fff" stop-opacity="0.55"/><stop offset="0.6" stop-color="#fff" stop-opacity="1"/></linearGradient>
<mask id="mg11"><rect x="270.6" y="401.0" width="124.0" height="122.5" fill="url(#mg11g)"/></mask>
<rect x="270.6" y="401.0" width="124.0" height="122.5" filter="url(#stg11)" opacity="0.32" mask="url(#mg11)"/>
<mask id="dg11"><g filter="url(#blurBig)"><rect x="315.2" y="401.0" width="79.4" height="122.5" fill="#fff" opacity="0.16"/><ellipse cx="347.5" cy="474.5" rx="27.3" ry="49.0" fill="#fff"/><ellipse cx="345.0" cy="431.6" rx="24.8" ry="14.7" fill="#fff" opacity="0.8"/><ellipse cx="315.2" cy="474.5" rx="9.9" ry="30.6" fill="#fff" opacity="0.5"/></g></mask>
<rect x="270.6" y="401.0" width="124.0" height="122.5" filter="url(#spg11)" opacity="0.85" mask="url(#dg11)"/>
<g filter="url(#blur4)"><rect x="351.7" y="438.7" width="0.5" height="14.3" fill="#222" opacity="0.04"/><rect x="336.1" y="404.6" width="0.5" height="15.6" fill="#222" opacity="0.06"/><rect x="274.3" y="429.4" width="0.5" height="25.6" fill="#222" opacity="0.12"/><rect x="335.0" y="440.2" width="0.5" height="28.0" fill="#222" opacity="0.11"/><rect x="327.3" y="418.0" width="0.5" height="47.9" fill="#222" opacity="0.14"/><rect x="374.8" y="444.4" width="0.5" height="20.6" fill="#222" opacity="0.06"/><rect x="306.4" y="405.3" width="0.5" height="38.7" fill="#222" opacity="0.08"/><rect x="375.6" y="424.7" width="0.5" height="46.3" fill="#222" opacity="0.12"/><rect x="270.7" y="413.8" width="0.5" height="44.4" fill="#222" opacity="0.09"/><rect x="392.2" y="425.3" width="0.5" height="10.9" fill="#222" opacity="0.10"/><rect x="367.1" y="417.5" width="0.5" height="11.5" fill="#222" opacity="0.07"/><rect x="390.1" y="447.4" width="0.5" height="12.7" fill="#222" opacity="0.06"/><rect x="283.1" y="404.7" width="0.5" height="39.9" fill="#222" opacity="0.06"/><rect x="340.0" y="428.4" width="0.5" height="15.6" fill="#222" opacity="0.11"/><rect x="286.8" y="440.4" width="0.5" height="12.7" fill="#222" opacity="0.08"/><rect x="297.0" y="417.5" width="0.5" height="46.8" fill="#222" opacity="0.12"/><rect x="308.3" y="455.2" width="0.5" height="16.4" fill="#222" opacity="0.08"/><rect x="376.5" y="440.3" width="0.5" height="12.0" fill="#222" opacity="0.14"/><rect x="297.0" y="416.8" width="0.5" height="38.9" fill="#222" opacity="0.07"/><rect x="307.3" y="405.5" width="0.5" height="11.6" fill="#222" opacity="0.10"/><rect x="300.7" y="437.8" width="0.5" height="22.9" fill="#222" opacity="0.09"/><rect x="389.5" y="430.6" width="0.5" height="31.0" fill="#222" opacity="0.13"/><rect x="293.3" y="410.4" width="0.5" height="44.3" fill="#222" opacity="0.12"/><rect x="301.5" y="412.6" width="0.5" height="37.6" fill="#222" opacity="0.13"/><rect x="295.0" y="459.2" width="0.5" height="43.3" fill="#222" opacity="0.10"/><rect x="322.9" y="407.4" width="0.5" height="9.5" fill="#222" opacity="0.14"/><rect x="300.2" y="444.2" width="0.5" height="18.3" fill="#222" opacity="0.12"/><rect x="344.6" y="419.0" width="0.5" height="15.0" fill="#222" opacity="0.11"/><rect x="279.1" y="415.0" width="0.5" height="30.4" fill="#222" opacity="0.13"/><rect x="346.8" y="418.2" width="0.5" height="44.7" fill="#222" opacity="0.06"/><rect x="272.7" y="417.5" width="0.5" height="25.8" fill="#222" opacity="0.05"/><rect x="292.5" y="423.6" width="0.5" height="30.9" fill="#222" opacity="0.05"/><rect x="315.5" y="455.6" width="0.5" height="47.2" fill="#222" opacity="0.11"/><rect x="356.3" y="436.8" width="0.5" height="13.6" fill="#222" opacity="0.04"/><rect x="272.8" y="456.8" width="0.5" height="36.0" fill="#222" opacity="0.14"/><rect x="273.2" y="440.0" width="0.5" height="27.3" fill="#222" opacity="0.11"/><rect x="310.1" y="462.2" width="0.5" height="11.0" fill="#222" opacity="0.09"/><rect x="362.0" y="456.1" width="0.5" height="37.5" fill="#222" opacity="0.11"/><rect x="369.0" y="457.0" width="0.5" height="22.1" fill="#222" opacity="0.11"/><rect x="382.3" y="454.4" width="0.5" height="24.7" fill="#222" opacity="0.12"/><rect x="377.7" y="436.1" width="0.5" height="33.0" fill="#222" opacity="0.08"/><rect x="342.9" y="438.3" width="0.5" height="11.2" fill="#222" opacity="0.10"/><rect x="393.8" y="454.9" width="0.5" height="37.1" fill="#222" opacity="0.08"/><rect x="361.7" y="436.6" width="0.5" height="25.6" fill="#222" opacity="0.12"/><rect x="281.0" y="447.0" width="0.5" height="9.2" fill="#222" opacity="0.10"/><rect x="330.2" y="415.1" width="0.5" height="35.9" fill="#222" opacity="0.09"/><rect x="346.8" y="457.4" width="0.5" height="18.2" fill="#222" opacity="0.04"/><rect x="307.9" y="442.5" width="0.5" height="16.1" fill="#222" opacity="0.06"/><rect x="382.9" y="441.4" width="0.5" height="25.7" fill="#222" opacity="0.13"/><rect x="311.1" y="441.8" width="0.5" height="15.9" fill="#222" opacity="0.08"/></g>
<g filter="url(#blur7)"><ellipse cx="320.0" cy="511.2" rx="3.7" ry="0.8" fill="#1a1a1a" opacity="0.41" transform="rotate(12 320.0 511.2)"/><ellipse cx="285.1" cy="469.2" rx="3.6" ry="1.0" fill="#1a1a1a" opacity="0.63" transform="rotate(14 285.1 469.2)"/><ellipse cx="292.5" cy="436.4" rx="2.7" ry="0.7" fill="#1a1a1a" opacity="0.44" transform="rotate(4 292.5 436.4)"/><ellipse cx="310.6" cy="469.0" rx="2.4" ry="1.0" fill="#1a1a1a" opacity="0.46" transform="rotate(20 310.6 469.0)"/><ellipse cx="281.9" cy="422.5" rx="3.7" ry="0.6" fill="#1a1a1a" opacity="0.50" transform="rotate(14 281.9 422.5)"/><ellipse cx="294.1" cy="498.9" rx="1.6" ry="0.7" fill="#1a1a1a" opacity="0.31" transform="rotate(9 294.1 498.9)"/><ellipse cx="321.2" cy="443.2" rx="1.9" ry="0.6" fill="#1a1a1a" opacity="0.46" transform="rotate(13 321.2 443.2)"/><ellipse cx="310.8" cy="485.2" rx="3.5" ry="1.1" fill="#1a1a1a" opacity="0.37" transform="rotate(14 310.8 485.2)"/><ellipse cx="302.8" cy="437.3" rx="1.6" ry="0.8" fill="#1a1a1a" opacity="0.36" transform="rotate(14 302.8 437.3)"/><ellipse cx="292.2" cy="454.1" rx="3.3" ry="0.9" fill="#1a1a1a" opacity="0.56" transform="rotate(12 292.2 454.1)"/><ellipse cx="298.5" cy="498.9" rx="3.8" ry="0.6" fill="#1a1a1a" opacity="0.55" transform="rotate(19 298.5 498.9)"/><ellipse cx="284.8" cy="464.9" rx="3.1" ry="1.1" fill="#1a1a1a" opacity="0.50" transform="rotate(8 284.8 464.9)"/><ellipse cx="323.8" cy="499.4" rx="3.9" ry="0.8" fill="#1a1a1a" opacity="0.37" transform="rotate(13 323.8 499.4)"/><ellipse cx="315.6" cy="501.6" rx="3.1" ry="1.0" fill="#1a1a1a" opacity="0.61" transform="rotate(4 315.6 501.6)"/><ellipse cx="329.1" cy="517.6" rx="2.9" ry="1.0" fill="#1a1a1a" opacity="0.62" transform="rotate(6 329.1 517.6)"/><ellipse cx="322.6" cy="454.4" rx="1.8" ry="0.8" fill="#1a1a1a" opacity="0.57" transform="rotate(11 322.6 454.4)"/><ellipse cx="303.4" cy="422.2" rx="3.5" ry="0.6" fill="#1a1a1a" opacity="0.36" transform="rotate(16 303.4 422.2)"/><ellipse cx="295.5" cy="498.5" rx="1.9" ry="0.7" fill="#1a1a1a" opacity="0.55" transform="rotate(10 295.5 498.5)"/><ellipse cx="321.8" cy="488.6" rx="3.9" ry="0.8" fill="#1a1a1a" opacity="0.33" transform="rotate(19 321.8 488.6)"/><ellipse cx="289.6" cy="472.3" rx="2.3" ry="1.0" fill="#1a1a1a" opacity="0.48" transform="rotate(13 289.6 472.3)"/><ellipse cx="322.0" cy="475.6" rx="2.3" ry="0.8" fill="#1a1a1a" opacity="0.62" transform="rotate(17 322.0 475.6)"/><ellipse cx="288.9" cy="504.8" rx="3.9" ry="0.9" fill="#1a1a1a" opacity="0.37" transform="rotate(11 288.9 504.8)"/><ellipse cx="305.9" cy="469.9" rx="3.1" ry="0.6" fill="#1a1a1a" opacity="0.48" transform="rotate(19 305.9 469.9)"/><ellipse cx="298.9" cy="499.8" rx="3.0" ry="0.8" fill="#1a1a1a" opacity="0.32" transform="rotate(14 298.9 499.8)"/><ellipse cx="291" cy="423" rx="2.6" ry="1.3" fill="#141414" opacity="0.7"/><ellipse cx="312" cy="430" rx="1.8" ry="1.0" fill="#141414" opacity="0.6"/><ellipse cx="288" cy="439" rx="2.6" ry="1.3" fill="#141414" opacity="0.65"/><ellipse cx="287" cy="448" rx="1.8" ry="1.8" fill="#141414" opacity="0.8"/><ellipse cx="303" cy="447" rx="2.6" ry="1.1" fill="#141414" opacity="0.7"/><ellipse cx="302" cy="453" rx="2.2" ry="1.0" fill="#141414" opacity="0.6"/><ellipse cx="290" cy="461" rx="1.8" ry="1.4" fill="#141414" opacity="0.6"/><ellipse cx="283" cy="470" rx="1.6" ry="1.2" fill="#141414" opacity="0.6"/><ellipse cx="296" cy="478" rx="2.4" ry="1.0" fill="#141414" opacity="0.55"/><ellipse cx="285" cy="490" rx="1.8" ry="1.2" fill="#141414" opacity="0.55"/><ellipse cx="300" cy="496" rx="2.5" ry="1.0" fill="#141414" opacity="0.5"/><ellipse cx="290" cy="505" rx="2.0" ry="1.0" fill="#141414" opacity="0.5"/><ellipse cx="279" cy="515" rx="2.5" ry="1.0" fill="#141414" opacity="0.5"/><ellipse cx="309" cy="470" rx="2.2" ry="1.0" fill="#141414" opacity="0.5"/><ellipse cx="341" cy="431" rx="1.6" ry="1.0" fill="#141414" opacity="0.6"/><ellipse cx="352" cy="441" rx="1.5" ry="1.0" fill="#141414" opacity="0.6"/><ellipse cx="345" cy="447" rx="1.5" ry="1.0" fill="#141414" opacity="0.65"/></g>
<path d="M270.6 514.5L277.1 523.5L270.6 523.5Z" fill="#f4f4f4"/>
</g>
<rect x="270.6" y="401.0" width="124.0" height="122.5" fill="none" stroke="#111" stroke-width="1.1"/>
<text x="273.6" y="413.6" font-family="'Liberation Sans', Arial, Helvetica, sans-serif" font-weight="bold" font-size="11" fill="#fff">siControl</text>
<circle cx="369.0" cy="467.3" r="7.4" fill="none" stroke="#111" stroke-width="0.9"/>
<text x="369.0" y="457.8" text-anchor="middle" font-family="'Liberation Sans', Arial, Helvetica, sans-serif" font-size="9" fill="#fff">a</text>
<circle cx="333.2" cy="486.1" r="7.4" fill="none" stroke="#111" stroke-width="0.9"/>
<text x="333.2" y="476.6" text-anchor="middle" font-family="'Liberation Sans', Arial, Helvetica, sans-serif" font-size="9" fill="#fff">b</text>
<circle cx="332.7" cy="516.0" r="7.4" fill="none" stroke="#111" stroke-width="0.9"/>
<text x="332.7" y="506.5" text-anchor="middle" font-family="'Liberation Sans', Arial, Helvetica, sans-serif" font-size="9" fill="#fff">c</text>
<filter id="spg23" x="0" y="0" width="100%" height="100%"><feTurbulence type="fractalNoise" baseFrequency="0.36 0.46" numOctaves="1" seed="23"/><feColorMatrix type="matrix" values="0 0 0 0 0  0 0 0 0 0  0 0 0 0 0  10 0 0 0 -6.35"/><feGaussianBlur stdDeviation="0.4"/></filter>
<filter id="stg23" x="0" y="0" width="100%" height="100%"><feTurbulence type="fractalNoise" baseFrequency="0.012 0.45" numOctaves="2" seed="24"/><feColorMatrix type="matrix" values="0 0 0 0 0  0 0 0 0 0  0 0 0 0 0  -3 0 0 0 1.75"/></filter>
<clipPath id="cg23"><rect x="270.6" y="523.5" width="124.0" height="124.0"/></clipPath>
<g clip-path="url(#cg23)">
<rect x="270.6" y="523.5" width="124.0" height="124.0" fill="#dadada"/>
<g filter="url(#blurBig)"><rect x="270.6" y="519.5" width="124.0" height="14" fill="#000" opacity="0.0"/><rect x="317.7" y="523.5" width="11" height="76.9" fill="#000" opacity="0.3"/><ellipse cx="316.7" cy="575.6" rx="9" ry="16" fill="#000" opacity="0.2" transform="rotate(-35 316.7 575.6)"/><rect x="335.1" y="535.9" width="59.5" height="105.4" fill="#000" opacity="0.12"/><rect x="367.3" y="523.5" width="5" height="37.2" fill="#000" opacity="0.15"/><rect x="270.6" y="638.5" width="124.0" height="12" fill="#000" opacity="0.13"/><rect x="266.6" y="548.3" width="24.8" height="86.8" fill="#fff" opacity="0.4"/><ellipse cx="314" cy="578" rx="8" ry="20" fill="#000" opacity="0.3" transform="rotate(-30 314 578)"/></g>
<g filter="url(#blur7)"><rect x="340" y="556" width="55" height="1.3" fill="#222" opacity="0.22"/><rect x="360" y="592" width="35" height="1.3" fill="#222" opacity="0.28"/><rect x="355" y="598" width="40" height="1.3" fill="#222" opacity="0.22"/><rect x="345" y="620" width="50" height="1.3" fill="#222" opacity="0.2"/><rect x="300" y="560" width="40" height="1.3" fill="#222" opacity="0.15"/></g>
<g filter="url(#blur10)"><rect x="320.7" y="523.5" width="4.5" height="93.0" fill="#000" opacity="0.22"/><rect x="373.5" y="523.5" width="3.5" height="34.7" fill="#000" opacity="0.12"/></g>
<rect x="326.2" y="523.5" width="0.6" height="108.4" fill="#111" opacity="0.12"/><rect x="320.3" y="523.5" width="0.6" height="86.3" fill="#111" opacity="0.08"/><rect x="323.4" y="523.5" width="0.6" height="57.7" fill="#111" opacity="0.07"/><rect x="322.8" y="523.5" width="0.6" height="63.3" fill="#111" opacity="0.09"/><rect x="319.9" y="523.5" width="0.6" height="54.9" fill="#111" opacity="0.11"/><rect x="322.6" y="523.5" width="0.6" height="81.4" fill="#111" opacity="0.11"/>
<linearGradient id="mg23g" x1="0" y1="0" x2="1" y2="0"><stop offset="0" stop-color="#fff" stop-opacity="0.2"/><stop offset="0.3" stop-color="#fff" stop-opacity="0.55"/><stop offset="0.6" stop-color="#fff" stop-opacity="1"/></linearGradient>
<mask id="mg23"><rect x="270.6" y="523.5" width="124.0" height="124.0" fill="url(#mg23g)"/></mask>
<rect x="270.6" y="523.5" width="124.0" height="124.0" filter="url(#stg23)" opacity="0.32" mask="url(#mg23)"/>
<mask id="dg23"><g filter="url(#blurBig)"><rect x="315.2" y="523.5" width="79.4" height="124.0" fill="#fff" opacity="0.16"/><ellipse cx="347.5" cy="597.9" rx="27.3" ry="49.6" fill="#fff"/><ellipse cx="345.0" cy="554.5" rx="24.8" ry="14.9" fill="#fff" opacity="0.8"/><ellipse cx="315.2" cy="597.9" rx="9.9" ry="31.0" fill="#fff" opacity="0.5"/></g></mask>
<rect x="270.6" y="523.5" width="124.0" height="124.0" filter="url(#spg23)" opacity="0.85" mask="url(#dg23)"/>
<g filter="url(#blur4)"><rect x="315.1" y="527.1" width="0.5" height="39.3" fill="#222" opacity="0.10"/><rect x="352.2" y="562.0" width="0.5" height="46.8" fill="#222" opacity="0.08"/><rect x="364.8" y="546.4" width="0.5" height="30.9" fill="#222" opacity="0.11"/><rect x="309.6" y="528.8" width="0.5" height="27.0" fill="#222" opacity="0.11"/><rect x="343.8" y="551.2" width="0.5" height="33.7" fill="#222" opacity="0.06"/><rect x="292.7" y="543.6" width="0.5" height="40.6" fill="#222" opacity="0.06"/><rect x="284.8" y="529.6" width="0.5" height="9.6" fill="#222" opacity="0.07"/><rect x="341.6" y="574.4" width="0.5" height="21.2" fill="#222" opacity="0.08"/><rect x="306.4" y="542.4" width="0.5" height="39.1" fill="#222" opacity="0.09"/><rect x="302.6" y="530.1" width="0.5" height="39.4" fill="#222" opacity="0.11"/><rect x="373.3" y="538.3" width="0.5" height="29.8" fill="#222" opacity="0.13"/><rect x="344.1" y="582.1" width="0.5" height="14.7" fill="#222" opacity="0.14"/><rect x="277.5" y="549.3" width="0.5" height="8.9" fill="#222" opacity="0.12"/><rect x="355.8" y="583.9" width="0.5" height="40.2" fill="#222" opacity="0.13"/><rect x="337.4" y="584.8" width="0.5" height="38.0" fill="#222" opacity="0.07"/><rect x="391.4" y="546.9" width="0.5" height="15.7" fill="#222" opacity="0.05"/><rect x="328.4" y="535.7" width="0.5" height="45.3" fill="#222" opacity="0.14"/><rect x="297.4" y="529.9" width="0.5" height="29.2" fill="#222" opacity="0.06"/><rect x="338.0" y="573.9" width="0.5" height="18.1" fill="#222" opacity="0.08"/><rect x="382.3" y="551.1" width="0.5" height="21.7" fill="#222" opacity="0.13"/><rect x="371.5" y="579.0" width="0.5" height="35.5" fill="#222" opacity="0.08"/><rect x="356.5" y="574.9" width="0.5" height="33.6" fill="#222" opacity="0.06"/><rect x="307.2" y="548.9" width="0.5" height="38.9" fill="#222" opacity="0.10"/><rect x="338.8" y="574.7" width="0.5" height="12.3" fill="#222" opacity="0.10"/><rect x="311.8" y="558.2" width="0.5" height="41.4" fill="#222" opacity="0.06"/><rect x="388.6" y="528.4" width="0.5" height="30.5" fill="#222" opacity="0.09"/><rect x="299.7" y="558.3" width="0.5" height="26.8" fill="#222" opacity="0.08"/><rect x="359.7" y="523.7" width="0.5" height="23.1" fill="#222" opacity="0.12"/><rect x="288.2" y="577.3" width="0.5" height="16.1" fill="#222" opacity="0.11"/><rect x="292.1" y="551.4" width="0.5" height="24.9" fill="#222" opacity="0.05"/><rect x="357.4" y="553.3" width="0.5" height="35.6" fill="#222" opacity="0.09"/><rect x="339.5" y="556.1" width="0.5" height="19.9" fill="#222" opacity="0.13"/><rect x="281.3" y="577.9" width="0.5" height="42.5" fill="#222" opacity="0.09"/><rect x="366.9" y="565.2" width="0.5" height="32.2" fill="#222" opacity="0.07"/><rect x="310.2" y="545.2" width="0.5" height="20.1" fill="#222" opacity="0.14"/><rect x="312.9" y="547.5" width="0.5" height="24.8" fill="#222" opacity="0.12"/><rect x="329.8" y="557.8" width="0.5" height="18.2" fill="#222" opacity="0.07"/><rect x="281.6" y="537.0" width="0.5" height="18.6" fill="#222" opacity="0.13"/><rect x="332.9" y="530.3" width="0.5" height="26.5" fill="#222" opacity="0.05"/><rect x="340.8" y="550.9" width="0.5" height="42.3" fill="#222" opacity="0.07"/><rect x="376.1" y="538.9" width="0.5" height="47.3" fill="#222" opacity="0.10"/><rect x="275.9" y="573.5" width="0.5" height="19.0" fill="#222" opacity="0.08"/><rect x="288.8" y="575.4" width="0.5" height="11.6" fill="#222" opacity="0.11"/><rect x="319.7" y="565.6" width="0.5" height="19.7" fill="#222" opacity="0.05"/><rect x="384.1" y="564.1" width="0.5" height="14.8" fill="#222" opacity="0.14"/><rect x="383.7" y="534.8" width="0.5" height="8.8" fill="#222" opacity="0.10"/><rect x="287.9" y="568.9" width="0.5" height="26.8" fill="#222" opacity="0.11"/><rect x="341.3" y="571.3" width="0.5" height="40.9" fill="#222" opacity="0.10"/><rect x="343.9" y="543.8" width="0.5" height="13.4" fill="#222" opacity="0.05"/><rect x="376.9" y="536.3" width="0.5" height="25.1" fill="#222" opacity="0.07"/></g>
<g filter="url(#blur7)"><ellipse cx="310.3" cy="596.3" rx="3.7" ry="0.8" fill="#1a1a1a" opacity="0.53" transform="rotate(7 310.3 596.3)"/><ellipse cx="316.8" cy="636.2" rx="2.3" ry="1.0" fill="#1a1a1a" opacity="0.64" transform="rotate(20 316.8 636.2)"/><ellipse cx="284.8" cy="580.7" rx="3.5" ry="1.0" fill="#1a1a1a" opacity="0.44" transform="rotate(1 284.8 580.7)"/><ellipse cx="315.8" cy="619.2" rx="2.9" ry="0.7" fill="#1a1a1a" opacity="0.32" transform="rotate(8 315.8 619.2)"/><ellipse cx="294.5" cy="585.6" rx="3.6" ry="0.9" fill="#1a1a1a" opacity="0.39" transform="rotate(8 294.5 585.6)"/><ellipse cx="294.5" cy="610.3" rx="2.7" ry="0.7" fill="#1a1a1a" opacity="0.50" transform="rotate(16 294.5 610.3)"/><ellipse cx="328.4" cy="596.6" rx="3.1" ry="0.8" fill="#1a1a1a" opacity="0.62" transform="rotate(12 328.4 596.6)"/><ellipse cx="329.1" cy="609.3" rx="2.6" ry="0.6" fill="#1a1a1a" opacity="0.44" transform="rotate(17 329.1 609.3)"/><ellipse cx="298.0" cy="547.9" rx="1.7" ry="0.8" fill="#1a1a1a" opacity="0.56" transform="rotate(19 298.0 547.9)"/><ellipse cx="315.0" cy="610.1" rx="2.3" ry="0.7" fill="#1a1a1a" opacity="0.32" transform="rotate(12 315.0 610.1)"/><ellipse cx="308.7" cy="594.4" rx="2.9" ry="0.7" fill="#1a1a1a" opacity="0.47" transform="rotate(1 308.7 594.4)"/><ellipse cx="285.6" cy="607.3" rx="2.3" ry="0.9" fill="#1a1a1a" opacity="0.51" transform="rotate(15 285.6 607.3)"/><ellipse cx="305.7" cy="562.2" rx="2.4" ry="1.1" fill="#1a1a1a" opacity="0.40" transform="rotate(5 305.7 562.2)"/><ellipse cx="303.7" cy="597.6" rx="3.5" ry="0.7" fill="#1a1a1a" opacity="0.31" transform="rotate(19 303.7 597.6)"/><ellipse cx="319.2" cy="600.0" rx="3.8" ry="0.7" fill="#1a1a1a" opacity="0.63" transform="rotate(14 319.2 600.0)"/><ellipse cx="312.8" cy="553.5" rx="3.8" ry="1.1" fill="#1a1a1a" opacity="0.59" transform="rotate(2 312.8 553.5)"/><ellipse cx="282.2" cy="550.4" rx="3.5" ry="1.0" fill="#1a1a1a" opacity="0.52" transform="rotate(19 282.2 550.4)"/><ellipse cx="304.7" cy="569.8" rx="3.0" ry="1.1" fill="#1a1a1a" opacity="0.61" transform="rotate(13 304.7 569.8)"/><ellipse cx="288.3" cy="616.8" rx="3.4" ry="0.6" fill="#1a1a1a" opacity="0.36" transform="rotate(16 288.3 616.8)"/><ellipse cx="289.4" cy="548.3" rx="3.2" ry="0.7" fill="#1a1a1a" opacity="0.30" transform="rotate(20 289.4 548.3)"/><ellipse cx="320.2" cy="619.3" rx="3.0" ry="0.9" fill="#1a1a1a" opacity="0.52" transform="rotate(16 320.2 619.3)"/><ellipse cx="285.3" cy="623.1" rx="2.4" ry="0.9" fill="#1a1a1a" opacity="0.62" transform="rotate(10 285.3 623.1)"/><ellipse cx="299.6" cy="628.9" rx="1.8" ry="0.8" fill="#1a1a1a" opacity="0.51" transform="rotate(13 299.6 628.9)"/><ellipse cx="321.4" cy="563.2" rx="3.5" ry="1.0" fill="#1a1a1a" opacity="0.35" transform="rotate(3 321.4 563.2)"/><ellipse cx="307.5" cy="543" rx="1.8" ry="1.6" fill="#141414" opacity="0.7"/><ellipse cx="292" cy="547.5" rx="1.8" ry="1.2" fill="#141414" opacity="0.6"/><ellipse cx="313" cy="555" rx="1.8" ry="1.5" fill="#141414" opacity="0.65"/><ellipse cx="287.5" cy="563" rx="2.2" ry="1.8" fill="#141414" opacity="0.75"/><ellipse cx="287" cy="571" rx="2.2" ry="2.0" fill="#141414" opacity="0.8"/><ellipse cx="304" cy="571" rx="2.2" ry="1.4" fill="#141414" opacity="0.7"/><ellipse cx="302" cy="577" rx="1.8" ry="1.2" fill="#141414" opacity="0.6"/><ellipse cx="290" cy="584" rx="1.8" ry="1.2" fill="#141414" opacity="0.55"/><ellipse cx="296" cy="595" rx="2.4" ry="1.0" fill="#141414" opacity="0.55"/><ellipse cx="284" cy="606" rx="1.8" ry="1.2" fill="#141414" opacity="0.55"/><ellipse cx="300" cy="615" rx="2.5" ry="1.0" fill="#141414" opacity="0.5"/><ellipse cx="291" cy="626" rx="2.0" ry="1.0" fill="#141414" opacity="0.5"/><ellipse cx="283" cy="636" rx="2.5" ry="1.0" fill="#141414" opacity="0.5"/><ellipse cx="310" cy="600" rx="2.2" ry="1.0" fill="#141414" opacity="0.5"/></g>
</g>
<rect x="270.6" y="523.5" width="124.0" height="124.0" fill="none" stroke="#111" stroke-width="1.1"/>
<text x="273.6" y="536.1" font-family="'Liberation Sans', Arial, Helvetica, sans-serif" font-weight="bold" font-size="11" fill="#fff">siSTEAP1</text>
<circle cx="369.9" cy="590.2" r="7.4" fill="none" stroke="#111" stroke-width="0.9"/>
<text x="369.9" y="580.7" text-anchor="middle" font-family="'Liberation Sans', Arial, Helvetica, sans-serif" font-size="9" fill="#fff">a</text>
<circle cx="334.0" cy="609.0" r="7.4" fill="none" stroke="#111" stroke-width="0.9"/>
<text x="334.0" y="599.5" text-anchor="middle" font-family="'Liberation Sans', Arial, Helvetica, sans-serif" font-size="9" fill="#fff">b</text>
<circle cx="333.2" cy="640.6" r="7.4" fill="none" stroke="#111" stroke-width="0.9"/>
<text x="333.2" y="631.1" text-anchor="middle" font-family="'Liberation Sans', Arial, Helvetica, sans-serif" font-size="9" fill="#fff">c</text>
<clipPath id="cza0"><rect x="399.6" y="412.0" width="52.6" height="35.5"/></clipPath>
<g clip-path="url(#cza0)"><rect x="399.6" y="412.0" width="52.6" height="35.5" fill="#cdcdcd"/>
<g filter="url(#blur10)"><ellipse cx="420.8" cy="419.1" rx="2.2" ry="1.6" fill="#444" opacity="0.23"/><ellipse cx="412.8" cy="425.6" rx="4.2" ry="2.3" fill="#444" opacity="0.27"/><ellipse cx="425.3" cy="427.0" rx="4.0" ry="1.5" fill="#444" opacity="0.26"/><ellipse cx="419.3" cy="425.8" rx="4.2" ry="1.4" fill="#444" opacity="0.21"/><ellipse cx="444.3" cy="424.0" rx="5.3" ry="2.3" fill="#444" opacity="0.23"/><ellipse cx="424.3" cy="426.3" rx="2.6" ry="1.0" fill="#444" opacity="0.12"/><ellipse cx="451.7" cy="431.0" rx="3.3" ry="3.3" fill="#444" opacity="0.20"/><ellipse cx="451.0" cy="424.7" rx="2.4" ry="3.3" fill="#444" opacity="0.11"/><ellipse cx="441.3" cy="433.1" rx="5.4" ry="3.4" fill="#444" opacity="0.21"/><ellipse cx="401.5" cy="412.8" rx="3.4" ry="3.0" fill="#444" opacity="0.10"/><ellipse cx="422.0" cy="415.1" rx="2.7" ry="1.0" fill="#444" opacity="0.15"/><ellipse cx="427.1" cy="419.1" rx="4.6" ry="1.1" fill="#444" opacity="0.12"/><ellipse cx="413.1" cy="426.3" rx="4.6" ry="1.9" fill="#444" opacity="0.22"/><ellipse cx="448.1" cy="416.6" rx="5.0" ry="2.5" fill="#444" opacity="0.23"/><ellipse cx="431.6" cy="426.5" rx="1.9" ry="1.4" fill="#444" opacity="0.11"/><ellipse cx="408.9" cy="417.2" rx="2.3" ry="2.4" fill="#444" opacity="0.23"/><ellipse cx="441.6" cy="442.0" rx="2.0" ry="3.1" fill="#444" opacity="0.12"/><ellipse cx="403.4" cy="422.2" rx="3.8" ry="1.1" fill="#444" opacity="0.12"/><rect x="420.6" y="441.2" width="1.6" height="16.3" fill="#555" opacity="0.12"/><rect x="404.5" y="443.2" width="2.4" height="22.4" fill="#555" opacity="0.13"/><rect x="423.0" y="423.1" width="2.0" height="21.1" fill="#555" opacity="0.12"/><rect x="445.6" y="437.6" width="1.3" height="24.2" fill="#555" opacity="0.16"/><rect x="412.7" y="422.5" width="2.1" height="9.6" fill="#555" opacity="0.13"/><rect x="450.3" y="421.1" width="1.8" height="26.1" fill="#555" opacity="0.18"/><rect x="441.1" y="430.9" width="2.4" height="13.1" fill="#555" opacity="0.19"/><rect x="421.1" y="435.4" width="1.9" height="13.6" fill="#555" opacity="0.16"/><rect x="431.4" y="412.0" width="2.5" height="35.5" fill="#555" opacity="0.13"/><rect x="422.7" y="412.0" width="1.6" height="35.5" fill="#555" opacity="0.15"/><rect x="417.8" y="412.0" width="2.0" height="35.5" fill="#555" opacity="0.13"/><rect x="450.3" y="412.0" width="1.3" height="35.5" fill="#555" opacity="0.13"/><rect x="408.6" y="412.0" width="2.0" height="35.5" fill="#555" opacity="0.13"/><rect x="438.7" y="412.0" width="2.3" height="35.5" fill="#555" opacity="0.08"/><rect x="444.9" y="412.0" width="1.5" height="35.5" fill="#555" opacity="0.10"/><rect x="405.5" y="412.0" width="1.8" height="35.5" fill="#555" opacity="0.06"/><rect x="415.9" y="412.0" width="2.0" height="35.5" fill="#555" opacity="0.13"/><rect x="408.4" y="412.0" width="2.2" height="35.5" fill="#555" opacity="0.10"/><ellipse cx="408.8" cy="414.3" rx="3" ry="2.5" fill="#2a2a2a" opacity="0.7"/><ellipse cx="418.5" cy="416" rx="3" ry="2.5" fill="#2a2a2a" opacity="0.7"/><ellipse cx="433.5" cy="415.4" rx="2.5" ry="2.2" fill="#2a2a2a" opacity="0.7"/><ellipse cx="402" cy="440" rx="2.5" ry="3" fill="#2a2a2a" opacity="0.7"/><ellipse cx="418" cy="438" rx="2" ry="2" fill="#2a2a2a" opacity="0.7"/></g>
<path d="M413.1 419.2L419.9 423.0L413.1 423.5Z" fill="#fff" stroke="#111" stroke-width="0.8" stroke-linejoin="round"/>
<path d="M418.5 431.2L425.3 435.0L418.5 435.5Z" fill="#fff" stroke="#111" stroke-width="0.8" stroke-linejoin="round"/>
<path d="M434 432.0L440.8 435.8L434 436.3Z" fill="#fff" stroke="#111" stroke-width="0.8" stroke-linejoin="round"/>
</g>
<clipPath id="cza1"><rect x="452.2" y="412.0" width="53.2" height="35.5"/></clipPath>
<g clip-path="url(#cza1)"><rect x="452.2" y="412.0" width="53.2" height="35.5" fill="#cdcdcd"/>
<g filter="url(#blur10)"><ellipse cx="463.1" cy="438.6" rx="4.5" ry="2.2" fill="#444" opacity="0.19"/><ellipse cx="485.2" cy="434.4" rx="4.6" ry="2.9" fill="#444" opacity="0.12"/><ellipse cx="453.3" cy="415.7" rx="2.7" ry="2.5" fill="#444" opacity="0.27"/><ellipse cx="474.4" cy="425.1" rx="3.7" ry="3.4" fill="#444" opacity="0.20"/><ellipse cx="467.9" cy="438.9" rx="5.5" ry="3.0" fill="#444" opacity="0.16"/><ellipse cx="461.4" cy="428.4" rx="2.0" ry="1.3" fill="#444" opacity="0.17"/><ellipse cx="497.4" cy="436.9" rx="3.2" ry="3.4" fill="#444" opacity="0.12"/><ellipse cx="465.5" cy="421.7" rx="3.8" ry="3.2" fill="#444" opacity="0.16"/><ellipse cx="496.2" cy="445.3" rx="3.4" ry="3.2" fill="#444" opacity="0.26"/><ellipse cx="477.5" cy="418.0" rx="1.8" ry="1.6" fill="#444" opacity="0.17"/><ellipse cx="453.0" cy="423.7" rx="3.5" ry="1.8" fill="#444" opacity="0.23"/><ellipse cx="482.5" cy="430.9" rx="4.0" ry="2.5" fill="#444" opacity="0.16"/><ellipse cx="461.0" cy="432.9" rx="1.7" ry="1.1" fill="#444" opacity="0.15"/><ellipse cx="464.4" cy="438.8" rx="2.1" ry="2.1" fill="#444" opacity="0.22"/><ellipse cx="474.4" cy="440.6" rx="2.0" ry="1.4" fill="#444" opacity="0.14"/><ellipse cx="471.6" cy="431.9" rx="2.3" ry="2.4" fill="#444" opacity="0.22"/><ellipse cx="486.9" cy="440.9" rx="1.8" ry="2.7" fill="#444" opacity="0.22"/><ellipse cx="496.1" cy="417.3" rx="1.8" ry="2.9" fill="#444" opacity="0.21"/><rect x="461.1" y="442.9" width="2.1" height="20.3" fill="#555" opacity="0.17"/><rect x="484.7" y="424.1" width="1.1" height="14.8" fill="#555" opacity="0.16"/><rect x="462.2" y="418.4" width="1.2" height="17.9" fill="#555" opacity="0.20"/><rect x="491.1" y="412.4" width="1.6" height="21.6" fill="#555" opacity="0.09"/><rect x="494.5" y="420.4" width="1.7" height="23.9" fill="#555" opacity="0.18"/><rect x="456.5" y="441.0" width="2.3" height="24.8" fill="#555" opacity="0.17"/><rect x="472.0" y="423.1" width="1.1" height="15.9" fill="#555" opacity="0.12"/><rect x="460.6" y="445.5" width="2.3" height="24.2" fill="#555" opacity="0.12"/><rect x="458.8" y="412.0" width="1.6" height="35.5" fill="#555" opacity="0.07"/><rect x="471.0" y="412.0" width="1.9" height="35.5" fill="#555" opacity="0.09"/><rect x="470.0" y="412.0" width="1.5" height="35.5" fill="#555" opacity="0.14"/><rect x="454.0" y="412.0" width="2.2" height="35.5" fill="#555" opacity="0.12"/><rect x="481.4" y="412.0" width="2.0" height="35.5" fill="#555" opacity="0.06"/><rect x="498.1" y="412.0" width="1.4" height="35.5" fill="#555" opacity="0.10"/><rect x="479.5" y="412.0" width="2.4" height="35.5" fill="#555" opacity="0.08"/><rect x="480.1" y="412.0" width="2.5" height="35.5" fill="#555" opacity="0.08"/><rect x="486.7" y="412.0" width="1.2" height="35.5" fill="#555" opacity="0.12"/><rect x="475.3" y="412.0" width="1.8" height="35.5" fill="#555" opacity="0.06"/><ellipse cx="460.8" cy="414.3" rx="3" ry="2.5" fill="#2a2a2a" opacity="0.7"/><ellipse cx="472.6" cy="416" rx="3" ry="2.5" fill="#2a2a2a" opacity="0.7"/><ellipse cx="485.5" cy="415.4" rx="2.5" ry="2.2" fill="#2a2a2a" opacity="0.7"/><ellipse cx="477" cy="424" rx="2.2" ry="2" fill="#2a2a2a" opacity="0.7"/><ellipse cx="455" cy="440" rx="2.5" ry="3" fill="#2a2a2a" opacity="0.7"/><ellipse cx="481" cy="437" rx="2.5" ry="1.8" fill="#2a2a2a" opacity="0.7"/><ellipse cx="497" cy="438" rx="3" ry="1.5" fill="#2a2a2a" opacity="0.7"/></g>
<path d="M466.7 419.9L473.5 423.7L466.7 424.2Z" fill="#fff" stroke="#111" stroke-width="0.8" stroke-linejoin="round"/>
<path d="M472.6 432.0L479.4 435.8L472.6 436.3Z" fill="#fff" stroke="#111" stroke-width="0.8" stroke-linejoin="round"/>
<path d="M488.2 433.0L495.0 436.8L488.2 437.3Z" fill="#fff" stroke="#111" stroke-width="0.8" stroke-linejoin="round"/>
</g>
<rect x="399.6" y="412.0" width="105.8" height="35.5" fill="none" stroke="#222" stroke-width="1"/>
<path d="M452.2 412.0V447.5" stroke="#111" stroke-width="1"/>
<text x="401.20000000000005" y="420.2" font-family="'Liberation Sans', Arial, Helvetica, sans-serif" font-size="10" fill="#fff" fill-opacity="0.85">a</text>
<clipPath id="czb0"><rect x="399.6" y="451.2" width="52.6" height="35.2"/></clipPath>
<g clip-path="url(#czb0)"><rect x="399.6" y="451.2" width="52.6" height="35.2" fill="#cdcdcd"/>
<g filter="url(#blur10)"><ellipse cx="410.2" cy="482.9" rx="2.2" ry="1.8" fill="#444" opacity="0.28"/><ellipse cx="413.0" cy="471.6" rx="3.2" ry="1.0" fill="#444" opacity="0.21"/><ellipse cx="426.1" cy="484.2" rx="5.4" ry="1.2" fill="#444" opacity="0.20"/><ellipse cx="417.6" cy="455.8" rx="5.2" ry="1.2" fill="#444" opacity="0.18"/><ellipse cx="411.8" cy="471.4" rx="2.3" ry="3.1" fill="#444" opacity="0.17"/><ellipse cx="410.2" cy="479.4" rx="2.0" ry="2.8" fill="#444" opacity="0.13"/><ellipse cx="443.8" cy="460.2" rx="4.1" ry="2.7" fill="#444" opacity="0.18"/><ellipse cx="445.4" cy="470.3" rx="2.4" ry="2.3" fill="#444" opacity="0.22"/><ellipse cx="421.7" cy="469.7" rx="1.8" ry="1.6" fill="#444" opacity="0.23"/><ellipse cx="417.2" cy="457.9" rx="4.7" ry="1.1" fill="#444" opacity="0.09"/><ellipse cx="402.9" cy="457.9" rx="1.7" ry="1.7" fill="#444" opacity="0.13"/><ellipse cx="448.2" cy="460.2" rx="3.8" ry="1.7" fill="#444" opacity="0.23"/><ellipse cx="405.6" cy="463.3" rx="2.1" ry="1.8" fill="#444" opacity="0.13"/><ellipse cx="423.4" cy="484.4" rx="1.6" ry="1.6" fill="#444" opacity="0.20"/><ellipse cx="443.5" cy="464.6" rx="2.9" ry="1.8" fill="#444" opacity="0.16"/><ellipse cx="427.9" cy="478.6" rx="1.6" ry="1.4" fill="#444" opacity="0.12"/><ellipse cx="432.3" cy="478.0" rx="1.8" ry="1.0" fill="#444" opacity="0.10"/><ellipse cx="422.5" cy="475.6" rx="5.4" ry="1.9" fill="#444" opacity="0.16"/><rect x="445.7" y="478.2" width="2.4" height="13.3" fill="#555" opacity="0.17"/><rect x="442.1" y="460.8" width="1.4" height="26.6" fill="#555" opacity="0.11"/><rect x="416.8" y="454.8" width="2.3" height="20.4" fill="#555" opacity="0.11"/><rect x="422.9" y="466.9" width="1.0" height="22.9" fill="#555" opacity="0.09"/><rect x="419.8" y="477.2" width="1.4" height="23.3" fill="#555" opacity="0.19"/><rect x="436.6" y="466.2" width="2.4" height="14.4" fill="#555" opacity="0.20"/><rect x="431.4" y="470.0" width="2.3" height="10.1" fill="#555" opacity="0.11"/><rect x="440.4" y="453.6" width="2.4" height="17.1" fill="#555" opacity="0.14"/><rect x="452.0" y="451.2" width="1.1" height="35.2" fill="#555" opacity="0.06"/><rect x="429.2" y="451.2" width="2.0" height="35.2" fill="#555" opacity="0.15"/><rect x="409.7" y="451.2" width="2.3" height="35.2" fill="#555" opacity="0.13"/><rect x="430.0" y="451.2" width="1.0" height="35.2" fill="#555" opacity="0.14"/><rect x="411.1" y="451.2" width="2.0" height="35.2" fill="#555" opacity="0.16"/><rect x="400.3" y="451.2" width="1.6" height="35.2" fill="#555" opacity="0.15"/><rect x="414.7" y="451.2" width="2.3" height="35.2" fill="#555" opacity="0.14"/><rect x="435.9" y="451.2" width="2.5" height="35.2" fill="#555" opacity="0.13"/><rect x="405.1" y="451.2" width="2.3" height="35.2" fill="#555" opacity="0.14"/><rect x="419.9" y="451.2" width="1.1" height="35.2" fill="#555" opacity="0.09"/><ellipse cx="417.3" cy="462.1" rx="3" ry="2.6" fill="#2a2a2a" opacity="0.7"/><ellipse cx="425" cy="462" rx="2.6" ry="2.6" fill="#2a2a2a" opacity="0.7"/><ellipse cx="423" cy="473.3" rx="2.6" ry="2.4" fill="#2a2a2a" opacity="0.7"/><ellipse cx="413" cy="467" rx="2" ry="2.5" fill="#2a2a2a" opacity="0.7"/><ellipse cx="406" cy="472" rx="1.5" ry="3" fill="#2a2a2a" opacity="0.7"/><ellipse cx="440" cy="458" rx="2" ry="2" fill="#2a2a2a" opacity="0.7"/><ellipse cx="445" cy="468" rx="1.8" ry="2" fill="#2a2a2a" opacity="0.7"/></g>
<path d="M432.3 471.4L439.1 475.2L432.3 475.7Z" fill="#fff" stroke="#111" stroke-width="0.8" stroke-linejoin="round"/>
</g>
<clipPath id="czb1"><rect x="452.2" y="451.2" width="53.2" height="35.2"/></clipPath>
<g clip-path="url(#czb1)"><rect x="452.2" y="451.2" width="53.2" height="35.2" fill="#cdcdcd"/>
<g filter="url(#blur10)"><ellipse cx="480.2" cy="460.0" rx="5.4" ry="1.4" fill="#444" opacity="0.13"/><ellipse cx="458.8" cy="477.5" rx="4.8" ry="1.6" fill="#444" opacity="0.16"/><ellipse cx="499.5" cy="472.2" rx="2.4" ry="3.5" fill="#444" opacity="0.23"/><ellipse cx="468.5" cy="467.0" rx="3.5" ry="2.6" fill="#444" opacity="0.17"/><ellipse cx="460.1" cy="462.8" rx="2.0" ry="2.3" fill="#444" opacity="0.20"/><ellipse cx="484.2" cy="453.7" rx="3.7" ry="3.0" fill="#444" opacity="0.19"/><ellipse cx="470.2" cy="478.8" rx="3.1" ry="3.0" fill="#444" opacity="0.08"/><ellipse cx="456.9" cy="467.3" rx="1.8" ry="1.5" fill="#444" opacity="0.27"/><ellipse cx="493.5" cy="461.7" rx="2.0" ry="2.8" fill="#444" opacity="0.22"/><ellipse cx="461.4" cy="470.7" rx="4.1" ry="1.2" fill="#444" opacity="0.10"/><ellipse cx="453.5" cy="480.7" rx="2.7" ry="1.8" fill="#444" opacity="0.09"/><ellipse cx="486.7" cy="460.0" rx="3.7" ry="1.9" fill="#444" opacity="0.15"/><ellipse cx="454.5" cy="462.6" rx="5.2" ry="3.4" fill="#444" opacity="0.26"/><ellipse cx="497.5" cy="479.7" rx="4.0" ry="2.5" fill="#444" opacity="0.22"/><ellipse cx="503.3" cy="472.5" rx="3.7" ry="2.8" fill="#444" opacity="0.25"/><ellipse cx="480.6" cy="451.9" rx="3.9" ry="1.9" fill="#444" opacity="0.11"/><ellipse cx="454.6" cy="470.0" rx="5.3" ry="2.4" fill="#444" opacity="0.25"/><ellipse cx="461.4" cy="462.8" rx="5.3" ry="2.7" fill="#444" opacity="0.23"/><rect x="467.9" y="474.7" width="1.5" height="12.0" fill="#555" opacity="0.10"/><rect x="461.5" y="454.5" width="1.6" height="25.4" fill="#555" opacity="0.15"/><rect x="472.0" y="473.8" width="2.4" height="13.2" fill="#555" opacity="0.19"/><rect x="504.4" y="463.6" width="1.1" height="21.6" fill="#555" opacity="0.19"/><rect x="471.8" y="462.2" width="1.4" height="10.5" fill="#555" opacity="0.16"/><rect x="467.6" y="484.1" width="1.6" height="10.6" fill="#555" opacity="0.16"/><rect x="504.4" y="455.8" width="2.5" height="21.2" fill="#555" opacity="0.17"/><rect x="502.5" y="470.5" width="1.8" height="10.8" fill="#555" opacity="0.13"/><rect x="481.6" y="451.2" width="1.4" height="35.2" fill="#555" opacity="0.10"/><rect x="472.6" y="451.2" width="2.3" height="35.2" fill="#555" opacity="0.09"/><rect x="499.9" y="451.2" width="1.3" height="35.2" fill="#555" opacity="0.13"/><rect x="478.8" y="451.2" width="1.5" height="35.2" fill="#555" opacity="0.14"/><rect x="504.8" y="451.2" width="1.2" height="35.2" fill="#555" opacity="0.14"/><rect x="455.9" y="451.2" width="1.5" height="35.2" fill="#555" opacity="0.16"/><rect x="503.5" y="451.2" width="2.4" height="35.2" fill="#555" opacity="0.10"/><rect x="491.6" y="451.2" width="2.5" height="35.2" fill="#555" opacity="0.07"/><rect x="496.3" y="451.2" width="2.1" height="35.2" fill="#555" opacity="0.15"/><rect x="476.2" y="451.2" width="2.0" height="35.2" fill="#555" opacity="0.14"/><ellipse cx="470.7" cy="463.6" rx="2.2" ry="4" fill="#2a2a2a" opacity="0.7"/><ellipse cx="480.7" cy="462.5" rx="2.2" ry="4.5" fill="#2a2a2a" opacity="0.7"/><ellipse cx="475.3" cy="474" rx="2" ry="3.5" fill="#2a2a2a" opacity="0.7"/><ellipse cx="486.3" cy="457" rx="1.8" ry="2.5" fill="#2a2a2a" opacity="0.7"/><ellipse cx="462" cy="470" rx="1.5" ry="3" fill="#2a2a2a" opacity="0.7"/><ellipse cx="497" cy="460" rx="1.8" ry="2.5" fill="#2a2a2a" opacity="0.7"/></g>
<path d="M486.3 473.8L493.1 477.6L486.3 478.1Z" fill="#fff" stroke="#111" stroke-width="0.8" stroke-linejoin="round"/>
</g>
<rect x="399.6" y="451.2" width="105.8" height="35.2" fill="none" stroke="#222" stroke-width="1"/>
<path d="M452.2 451.2V486.4" stroke="#111" stroke-width="1"/>
<text x="401.20000000000005" y="459.4" font-family="'Liberation Sans', Arial, Helvetica, sans-serif" font-size="10" fill="#fff" fill-opacity="0.85">b</text>
<clipPath id="czc0"><rect x="399.6" y="489.6" width="52.6" height="34.9"/></clipPath>
<g clip-path="url(#czc0)"><rect x="399.6" y="489.6" width="52.6" height="34.9" fill="#cdcdcd"/>
<g filter="url(#blur10)"><ellipse cx="425.7" cy="514.7" rx="2.4" ry="1.1" fill="#444" opacity="0.12"/><ellipse cx="451.4" cy="504.7" rx="5.1" ry="3.4" fill="#444" opacity="0.26"/><ellipse cx="428.5" cy="499.7" rx="3.9" ry="2.9" fill="#444" opacity="0.22"/><ellipse cx="401.3" cy="491.6" rx="1.6" ry="1.6" fill="#444" opacity="0.16"/><ellipse cx="419.1" cy="516.1" rx="4.6" ry="1.7" fill="#444" opacity="0.15"/><ellipse cx="446.5" cy="513.7" rx="1.6" ry="1.8" fill="#444" opacity="0.24"/><ellipse cx="427.8" cy="496.6" rx="3.2" ry="2.7" fill="#444" opacity="0.12"/><ellipse cx="413.0" cy="518.9" rx="3.1" ry="2.0" fill="#444" opacity="0.28"/><ellipse cx="450.0" cy="500.2" rx="1.5" ry="1.4" fill="#444" opacity="0.28"/><ellipse cx="436.5" cy="497.7" rx="5.1" ry="3.2" fill="#444" opacity="0.22"/><ellipse cx="400.5" cy="508.0" rx="2.4" ry="1.6" fill="#444" opacity="0.16"/><ellipse cx="420.7" cy="520.5" rx="3.0" ry="1.4" fill="#444" opacity="0.11"/><ellipse cx="424.0" cy="499.3" rx="4.9" ry="2.6" fill="#444" opacity="0.23"/><ellipse cx="408.9" cy="509.4" rx="4.3" ry="1.1" fill="#444" opacity="0.16"/><ellipse cx="434.7" cy="495.0" rx="5.3" ry="1.5" fill="#444" opacity="0.10"/><ellipse cx="435.8" cy="524.0" rx="4.6" ry="2.3" fill="#444" opacity="0.15"/><ellipse cx="410.9" cy="491.8" rx="2.4" ry="2.6" fill="#444" opacity="0.13"/><ellipse cx="451.6" cy="495.1" rx="2.5" ry="2.0" fill="#444" opacity="0.27"/><rect x="417.5" y="496.0" width="2.1" height="9.7" fill="#555" opacity="0.14"/><rect x="410.9" y="523.7" width="1.7" height="18.1" fill="#555" opacity="0.19"/><rect x="433.9" y="524.2" width="1.6" height="25.4" fill="#555" opacity="0.13"/><rect x="414.2" y="523.1" width="1.9" height="10.9" fill="#555" opacity="0.15"/><rect x="436.0" y="494.3" width="1.7" height="16.9" fill="#555" opacity="0.10"/><rect x="435.7" y="506.6" width="1.9" height="18.7" fill="#555" opacity="0.15"/><rect x="440.6" y="506.5" width="2.4" height="26.0" fill="#555" opacity="0.13"/><rect x="406.0" y="506.7" width="1.6" height="25.8" fill="#555" opacity="0.12"/><rect x="402.7" y="489.6" width="1.3" height="34.9" fill="#555" opacity="0.15"/><rect x="406.0" y="489.6" width="2.4" height="34.9" fill="#555" opacity="0.10"/><rect x="428.1" y="489.6" width="2.1" height="34.9" fill="#555" opacity="0.15"/><rect x="405.5" y="489.6" width="1.9" height="34.9" fill="#555" opacity="0.08"/><rect x="449.8" y="489.6" width="2.2" height="34.9" fill="#555" opacity="0.09"/><rect x="417.8" y="489.6" width="2.5" height="34.9" fill="#555" opacity="0.16"/><rect x="439.9" y="489.6" width="1.1" height="34.9" fill="#555" opacity="0.08"/><rect x="431.3" y="489.6" width="1.3" height="34.9" fill="#555" opacity="0.11"/><rect x="399.9" y="489.6" width="1.7" height="34.9" fill="#555" opacity="0.11"/><rect x="443.2" y="489.6" width="1.5" height="34.9" fill="#555" opacity="0.15"/><ellipse cx="413" cy="496.2" rx="3.5" ry="3" fill="#2a2a2a" opacity="0.7"/><ellipse cx="411.5" cy="501" rx="3" ry="2.2" fill="#2a2a2a" opacity="0.7"/><ellipse cx="437.5" cy="495.8" rx="3" ry="2.5" fill="#2a2a2a" opacity="0.7"/><ellipse cx="444.7" cy="496.2" rx="3" ry="2.5" fill="#2a2a2a" opacity="0.7"/><ellipse cx="429.2" cy="514.9" rx="3.2" ry="2.4" fill="#2a2a2a" opacity="0.7"/><ellipse cx="425" cy="497" rx="2" ry="1.5" fill="#2a2a2a" opacity="0.7"/><ellipse cx="421" cy="521" rx="2" ry="1.5" fill="#2a2a2a" opacity="0.7"/></g>
<path d="M414.6 506.2L421.4 510.0L414.6 510.5Z" fill="#fff" stroke="#111" stroke-width="0.8" stroke-linejoin="round"/>
<path d="M411.5 511.2L418.3 515.0L411.5 515.5Z" fill="#fff" stroke="#111" stroke-width="0.8" stroke-linejoin="round"/>
<path d="M413.0 517.1L419.8 520.9L413.0 521.4Z" fill="#fff" stroke="#111" stroke-width="0.8" stroke-linejoin="round"/>
</g>
<clipPath id="czc1"><rect x="452.2" y="489.6" width="53.2" height="34.9"/></clipPath>
<g clip-path="url(#czc1)"><rect x="452.2" y="489.6" width="53.2" height="34.9" fill="#cdcdcd"/>
<g filter="url(#blur10)"><ellipse cx="465.2" cy="490.2" rx="3.3" ry="1.4" fill="#444" opacity="0.27"/><ellipse cx="495.9" cy="522.3" rx="2.4" ry="3.2" fill="#444" opacity="0.26"/><ellipse cx="467.2" cy="518.0" rx="3.0" ry="1.5" fill="#444" opacity="0.22"/><ellipse cx="470.0" cy="500.1" rx="4.1" ry="2.6" fill="#444" opacity="0.08"/><ellipse cx="453.7" cy="508.3" rx="1.9" ry="1.3" fill="#444" opacity="0.27"/><ellipse cx="502.8" cy="514.4" rx="5.2" ry="2.7" fill="#444" opacity="0.27"/><ellipse cx="452.4" cy="502.6" rx="3.0" ry="1.8" fill="#444" opacity="0.13"/><ellipse cx="469.2" cy="515.6" rx="5.3" ry="3.3" fill="#444" opacity="0.16"/><ellipse cx="484.3" cy="497.7" rx="2.7" ry="3.3" fill="#444" opacity="0.19"/><ellipse cx="456.9" cy="506.4" rx="4.7" ry="2.7" fill="#444" opacity="0.10"/><ellipse cx="472.9" cy="500.8" rx="2.4" ry="1.6" fill="#444" opacity="0.25"/><ellipse cx="481.6" cy="517.6" rx="3.1" ry="3.1" fill="#444" opacity="0.08"/><ellipse cx="470.3" cy="496.3" rx="2.6" ry="2.8" fill="#444" opacity="0.12"/><ellipse cx="498.9" cy="509.8" rx="5.0" ry="1.1" fill="#444" opacity="0.09"/><ellipse cx="454.0" cy="524.0" rx="3.4" ry="1.1" fill="#444" opacity="0.14"/><ellipse cx="471.0" cy="498.6" rx="2.8" ry="1.6" fill="#444" opacity="0.13"/><ellipse cx="475.2" cy="493.5" rx="3.9" ry="3.0" fill="#444" opacity="0.12"/><ellipse cx="486.1" cy="513.5" rx="2.8" ry="2.0" fill="#444" opacity="0.11"/><rect x="485.0" y="523.7" width="2.2" height="12.3" fill="#555" opacity="0.13"/><rect x="479.3" y="499.4" width="2.4" height="25.6" fill="#555" opacity="0.13"/><rect x="464.3" y="515.9" width="1.8" height="22.3" fill="#555" opacity="0.18"/><rect x="503.9" y="517.0" width="1.3" height="19.1" fill="#555" opacity="0.17"/><rect x="461.5" y="524.1" width="1.4" height="25.0" fill="#555" opacity="0.08"/><rect x="456.8" y="490.1" width="1.1" height="9.5" fill="#555" opacity="0.09"/><rect x="490.7" y="521.7" width="2.2" height="24.4" fill="#555" opacity="0.17"/><rect x="461.5" y="503.1" width="1.1" height="11.6" fill="#555" opacity="0.10"/><rect x="476.8" y="489.6" width="2.4" height="34.9" fill="#555" opacity="0.10"/><rect x="488.9" y="489.6" width="2.0" height="34.9" fill="#555" opacity="0.09"/><rect x="454.5" y="489.6" width="1.3" height="34.9" fill="#555" opacity="0.08"/><rect x="479.6" y="489.6" width="1.5" height="34.9" fill="#555" opacity="0.13"/><rect x="484.8" y="489.6" width="1.2" height="34.9" fill="#555" opacity="0.15"/><rect x="474.3" y="489.6" width="1.3" height="34.9" fill="#555" opacity="0.06"/><rect x="477.8" y="489.6" width="1.2" height="34.9" fill="#555" opacity="0.14"/><rect x="462.9" y="489.6" width="1.3" height="34.9" fill="#555" opacity="0.10"/><rect x="456.3" y="489.6" width="2.4" height="34.9" fill="#555" opacity="0.15"/><rect x="456.5" y="489.6" width="1.4" height="34.9" fill="#555" opacity="0.14"/><ellipse cx="464.5" cy="496.2" rx="3.5" ry="3" fill="#2a2a2a" opacity="0.7"/><ellipse cx="462.4" cy="501" rx="3" ry="2.2" fill="#2a2a2a" opacity="0.7"/><ellipse cx="488.3" cy="495.4" rx="3" ry="2.5" fill="#2a2a2a" opacity="0.7"/><ellipse cx="498.7" cy="496.2" rx="3" ry="2.5" fill="#2a2a2a" opacity="0.7"/><ellipse cx="480" cy="514" rx="3.2" ry="2.4" fill="#2a2a2a" opacity="0.7"/><ellipse cx="472.8" cy="510.3" rx="2.2" ry="1.8" fill="#2a2a2a" opacity="0.7"/><ellipse cx="473.8" cy="519.6" rx="2.5" ry="2" fill="#2a2a2a" opacity="0.7"/></g>
<path d="M464.5 506.2L471.3 510.0L464.5 510.5Z" fill="#fff" stroke="#111" stroke-width="0.8" stroke-linejoin="round"/>
<path d="M461.3 511.5L468.1 515.3L461.3 515.8Z" fill="#fff" stroke="#111" stroke-width="0.8" stroke-linejoin="round"/>
<path d="M462.8 517.1L469.6 520.9L462.8 521.4Z" fill="#fff" stroke="#111" stroke-width="0.8" stroke-linejoin="round"/>
</g>
<rect x="399.6" y="489.6" width="105.8" height="34.9" fill="none" stroke="#222" stroke-width="1"/>
<path d="M452.2 489.6V524.5" stroke="#111" stroke-width="1"/>
<text x="401.20000000000005" y="497.8" font-family="'Liberation Sans', Arial, Helvetica, sans-serif" font-size="10" fill="#fff" fill-opacity="0.85">c</text>
<g font-family="'Liberation Sans', Arial, Helvetica, sans-serif" font-weight="bold" font-size="11" fill="#111" stroke="#111" stroke-width="0.25"><text x="400.3" y="409.4">siControl</text><text x="455.3" y="409.4">siSTEAP1</text></g>
<rect x="399.6" y="541.3" width="106.09999999999997" height="106.20000000000005" fill="#fff" stroke="#222" stroke-width="1"/>
<g><circle cx="467.5" cy="634.5" r="0.8" fill="#2f9e40"/><circle cx="430.3" cy="635.8" r="0.7" fill="#3535a8"/><circle cx="429.4" cy="637.0" r="1.1" fill="#3535a8"/><circle cx="434.8" cy="564.1" r="0.8" fill="#2f9e40"/><circle cx="435.1" cy="565.2" r="0.7" fill="#2f9e40"/><circle cx="434.6" cy="626.7" r="0.7" fill="#2f9e40"/><circle cx="433.7" cy="627.0" r="0.7" fill="#2f9e40"/><circle cx="438.2" cy="596.8" r="1.2" fill="#3535a8"/><circle cx="437.4" cy="598.1" r="1.0" fill="#3535a8"/><circle cx="436.3" cy="598.8" r="1.2" fill="#3535a8"/><circle cx="457.1" cy="575.3" r="0.9" fill="#3535a8"/><circle cx="458.6" cy="575.8" r="1.0" fill="#3535a8"/><circle cx="437.1" cy="569.0" r="0.8" fill="#3535a8"/><circle cx="440.4" cy="550.1" r="0.9" fill="#3535a8"/><circle cx="438.4" cy="550.1" r="0.8" fill="#3535a8"/><circle cx="443.2" cy="558.8" r="0.9" fill="#2f9e40"/><circle cx="441.0" cy="559.1" r="1.0" fill="#2f9e40"/><circle cx="440.7" cy="559.6" r="0.9" fill="#2f9e40"/><circle cx="438.5" cy="559.5" r="0.8" fill="#2f9e40"/><circle cx="429.1" cy="642.6" r="1.0" fill="#2f9e40"/><circle cx="429.8" cy="644.5" r="0.9" fill="#2f9e40"/><circle cx="437.8" cy="608.4" r="1.2" fill="#2f9e40"/><circle cx="438.6" cy="610.0" r="1.0" fill="#2f9e40"/><circle cx="450.2" cy="614.1" r="1.2" fill="#2f9e40"/><circle cx="451.5" cy="615.7" r="0.8" fill="#2f9e40"/><circle cx="452.5" cy="614.8" r="0.8" fill="#2f9e40"/><circle cx="454.2" cy="615.6" r="1.1" fill="#2f9e40"/><circle cx="450.7" cy="599.1" r="1.2" fill="#3535a8"/><circle cx="440.3" cy="547.8" r="0.9" fill="#3535a8"/><circle cx="440.1" cy="549.7" r="1.0" fill="#3535a8"/><circle cx="439.2" cy="550.8" r="0.7" fill="#3535a8"/><circle cx="440.7" cy="592.3" r="1.2" fill="#3535a8"/><circle cx="440.6" cy="630.0" r="0.8" fill="#2f9e40"/><circle cx="440.5" cy="631.0" r="0.8" fill="#2f9e40"/><circle cx="438.8" cy="632.2" r="1.0" fill="#2f9e40"/><circle cx="429.9" cy="637.7" r="0.9" fill="#3535a8"/><circle cx="431.5" cy="639.1" r="1.2" fill="#3535a8"/><circle cx="490.3" cy="633.6" r="0.7" fill="#3535a8"/><circle cx="491.3" cy="635.6" r="1.1" fill="#3535a8"/><circle cx="492.7" cy="636.3" r="1.0" fill="#3535a8"/><circle cx="422.2" cy="586.8" r="0.9" fill="#2f9e40"/><circle cx="420.6" cy="588.0" r="1.2" fill="#2f9e40"/><circle cx="419.4" cy="590.0" r="0.8" fill="#2f9e40"/><circle cx="419.9" cy="591.1" r="1.0" fill="#2f9e40"/><circle cx="468.0" cy="591.6" r="0.9" fill="#3535a8"/><circle cx="466.5" cy="592.8" r="1.1" fill="#3535a8"/><circle cx="465.8" cy="594.3" r="0.7" fill="#3535a8"/><circle cx="465.3" cy="595.2" r="0.9" fill="#3535a8"/><circle cx="415.6" cy="556.5" r="0.9" fill="#2f9e40"/><circle cx="416.5" cy="557.3" r="1.1" fill="#2f9e40"/><circle cx="468.8" cy="618.9" r="0.9" fill="#2f9e40"/><circle cx="469.9" cy="620.0" r="0.9" fill="#2f9e40"/><circle cx="471.8" cy="619.9" r="0.7" fill="#2f9e40"/><circle cx="472.8" cy="620.4" r="1.0" fill="#2f9e40"/><circle cx="453.2" cy="636.2" r="1.0" fill="#2f9e40"/><circle cx="454.4" cy="636.8" r="0.9" fill="#2f9e40"/><circle cx="426.1" cy="632.1" r="1.2" fill="#2f9e40"/><circle cx="439.8" cy="628.5" r="0.9" fill="#2f9e40"/><circle cx="439.2" cy="629.8" r="1.2" fill="#2f9e40"/><circle cx="438.4" cy="630.5" r="1.2" fill="#2f9e40"/><circle cx="437.6" cy="631.9" r="0.7" fill="#2f9e40"/><circle cx="406.8" cy="563.0" r="1.2" fill="#3535a8"/><circle cx="404.5" cy="563.0" r="0.9" fill="#3535a8"/><circle cx="403.6" cy="563.7" r="0.7" fill="#3535a8"/><circle cx="440.4" cy="582.3" r="1.1" fill="#3535a8"/><circle cx="442.0" cy="584.2" r="0.9" fill="#3535a8"/><circle cx="442.2" cy="584.7" r="0.7" fill="#3535a8"/><circle cx="418.8" cy="623.1" r="1.0" fill="#2f9e40"/><circle cx="419.0" cy="623.6" r="1.2" fill="#2f9e40"/><circle cx="473.5" cy="612.7" r="1.1" fill="#3535a8"/><circle cx="475.3" cy="612.6" r="0.9" fill="#3535a8"/><circle cx="476.3" cy="613.1" r="0.7" fill="#3535a8"/><circle cx="477.8" cy="613.0" r="0.7" fill="#3535a8"/><circle cx="457.6" cy="644.2" r="0.7" fill="#2f9e40"/><circle cx="449.8" cy="613.1" r="0.8" fill="#2f9e40"/><circle cx="420.6" cy="595.1" r="1.2" fill="#2f9e40"/><circle cx="422.1" cy="595.8" r="1.1" fill="#2f9e40"/><circle cx="423.1" cy="595.7" r="0.9" fill="#2f9e40"/><circle cx="444.6" cy="620.5" r="1.2" fill="#3535a8"/><circle cx="446.3" cy="621.3" r="0.9" fill="#3535a8"/><circle cx="448.0" cy="621.1" r="0.9" fill="#3535a8"/><circle cx="415.8" cy="598.5" r="0.8" fill="#2f9e40"/><circle cx="414.5" cy="598.3" r="1.2" fill="#2f9e40"/><circle cx="440.2" cy="621.2" r="1.1" fill="#3535a8"/><circle cx="438.6" cy="620.8" r="1.1" fill="#3535a8"/><circle cx="440.8" cy="557.5" r="1.1" fill="#3535a8"/><circle cx="441.8" cy="558.4" r="0.7" fill="#3535a8"/><circle cx="443.2" cy="559.8" r="1.2" fill="#3535a8"/><circle cx="445.5" cy="580.4" r="1.0" fill="#d84040"/><circle cx="445.4" cy="582.6" r="0.9" fill="#d84040"/><circle cx="433.3" cy="635.8" r="1.0" fill="#2f9e40"/><circle cx="435.2" cy="637.9" r="0.9" fill="#2f9e40"/><circle cx="407.6" cy="642.5" r="0.8" fill="#2f9e40"/><circle cx="408.1" cy="644.3" r="0.9" fill="#2f9e40"/><circle cx="408.0" cy="645.0" r="0.9" fill="#2f9e40"/><circle cx="416.9" cy="627.3" r="1.2" fill="#d84040"/><circle cx="449.1" cy="597.7" r="0.8" fill="#3535a8"/><circle cx="441.0" cy="575.9" r="0.9" fill="#3535a8"/><circle cx="442.2" cy="577.0" r="1.2" fill="#3535a8"/><circle cx="442.5" cy="578.8" r="0.7" fill="#3535a8"/><circle cx="442.3" cy="580.8" r="0.7" fill="#3535a8"/><circle cx="479.4" cy="565.9" r="0.8" fill="#d84040"/><circle cx="478.5" cy="565.8" r="1.1" fill="#d84040"/><circle cx="476.9" cy="566.1" r="1.2" fill="#d84040"/><circle cx="476.0" cy="567.3" r="1.1" fill="#d84040"/><circle cx="457.5" cy="583.4" r="0.9" fill="#3535a8"/><circle cx="458.8" cy="584.9" r="1.0" fill="#3535a8"/><circle cx="424.3" cy="575.1" r="0.8" fill="#2f9e40"/><circle cx="422.2" cy="575.0" r="1.0" fill="#2f9e40"/><circle cx="424.9" cy="592.1" r="0.8" fill="#3535a8"/><circle cx="463.0" cy="562.6" r="0.9" fill="#3535a8"/><circle cx="462.8" cy="563.2" r="0.8" fill="#3535a8"/><circle cx="462.0" cy="564.9" r="1.2" fill="#3535a8"/><circle cx="425.4" cy="613.9" r="0.9" fill="#2f9e40"/><circle cx="426.5" cy="615.1" r="1.0" fill="#2f9e40"/><circle cx="420.4" cy="634.4" r="0.8" fill="#2f9e40"/><circle cx="434.6" cy="561.9" r="0.9" fill="#2f9e40"/><circle cx="434.3" cy="563.0" r="0.9" fill="#2f9e40"/><circle cx="475.1" cy="573.8" r="0.8" fill="#3535a8"/><circle cx="474.8" cy="575.3" r="1.1" fill="#3535a8"/><circle cx="460.4" cy="575.1" r="0.8" fill="#2f9e40"/><circle cx="458.3" cy="587.8" r="1.1" fill="#2f9e40"/><circle cx="457.3" cy="588.3" r="0.9" fill="#2f9e40"/><circle cx="441.4" cy="596.1" r="1.2" fill="#3535a8"/><circle cx="438.8" cy="595.8" r="0.9" fill="#3535a8"/><circle cx="438.2" cy="596.4" r="1.1" fill="#3535a8"/><circle cx="435.6" cy="596.4" r="1.2" fill="#3535a8"/><circle cx="424.5" cy="586.3" r="1.2" fill="#2f9e40"/><circle cx="422.9" cy="586.5" r="0.7" fill="#2f9e40"/><circle cx="421.7" cy="587.7" r="1.2" fill="#2f9e40"/><circle cx="420.6" cy="588.9" r="0.9" fill="#2f9e40"/><circle cx="429.7" cy="591.2" r="1.1" fill="#2f9e40"/><circle cx="431.5" cy="592.0" r="0.7" fill="#2f9e40"/><circle cx="435.1" cy="590.3" r="0.7" fill="#d84040"/><circle cx="415.7" cy="610.0" r="0.9" fill="#3535a8"/><circle cx="432.9" cy="635.6" r="1.1" fill="#2f9e40"/><circle cx="431.9" cy="636.1" r="1.1" fill="#2f9e40"/><circle cx="407.8" cy="594.3" r="0.7" fill="#3535a8"/><circle cx="429.7" cy="602.4" r="1.0" fill="#3535a8"/><circle cx="431.0" cy="604.2" r="1.0" fill="#3535a8"/><circle cx="439.8" cy="585.2" r="1.1" fill="#d84040"/><circle cx="442.1" cy="585.8" r="0.9" fill="#d84040"/><circle cx="437.0" cy="625.5" r="0.9" fill="#3535a8"/><circle cx="437.9" cy="626.3" r="0.8" fill="#3535a8"/><circle cx="439.8" cy="626.8" r="1.2" fill="#3535a8"/><circle cx="419.7" cy="558.2" r="1.0" fill="#2f9e40"/><circle cx="469.9" cy="609.2" r="1.2" fill="#2f9e40"/><circle cx="470.6" cy="610.9" r="1.1" fill="#2f9e40"/><circle cx="471.0" cy="612.4" r="0.9" fill="#2f9e40"/><circle cx="470.8" cy="613.0" r="1.1" fill="#2f9e40"/><circle cx="413.8" cy="619.8" r="0.9" fill="#3535a8"/><circle cx="416.3" cy="620.1" r="0.8" fill="#3535a8"/><circle cx="417.9" cy="619.8" r="0.7" fill="#3535a8"/><circle cx="438.2" cy="553.1" r="0.8" fill="#3535a8"/><circle cx="436.3" cy="553.5" r="0.9" fill="#3535a8"/><circle cx="453.1" cy="639.3" r="0.7" fill="#3535a8"/><circle cx="454.2" cy="640.7" r="1.2" fill="#3535a8"/><circle cx="455.5" cy="641.7" r="1.0" fill="#3535a8"/><circle cx="436.4" cy="554.1" r="0.8" fill="#2f9e40"/><circle cx="436.7" cy="621.3" r="0.9" fill="#2f9e40"/><circle cx="434.8" cy="621.5" r="0.8" fill="#2f9e40"/><circle cx="433.7" cy="623.0" r="1.1" fill="#2f9e40"/><circle cx="492.8" cy="594.9" r="1.0" fill="#3535a8"/><circle cx="411.2" cy="583.0" r="1.0" fill="#3535a8"/><circle cx="447.2" cy="570.8" r="0.7" fill="#2f9e40"/><circle cx="446.6" cy="572.8" r="0.8" fill="#2f9e40"/><circle cx="490.7" cy="616.1" r="1.1" fill="#3535a8"/><circle cx="489.3" cy="616.0" r="0.7" fill="#3535a8"/><circle cx="487.8" cy="616.6" r="0.9" fill="#3535a8"/><circle cx="486.7" cy="617.4" r="1.0" fill="#3535a8"/><circle cx="448.4" cy="639.7" r="0.9" fill="#2f9e40"/><circle cx="448.9" cy="640.0" r="0.7" fill="#2f9e40"/><circle cx="427.5" cy="580.5" r="1.0" fill="#2f9e40"/><circle cx="430.4" cy="578.2" r="0.8" fill="#3535a8"/><circle cx="431.5" cy="580.1" r="0.7" fill="#3535a8"/><circle cx="431.3" cy="580.7" r="1.2" fill="#3535a8"/><circle cx="431.7" cy="582.3" r="1.1" fill="#3535a8"/><circle cx="449.3" cy="581.9" r="1.0" fill="#d84040"/><circle cx="447.5" cy="581.5" r="0.7" fill="#d84040"/><circle cx="443.8" cy="630.5" r="1.0" fill="#2f9e40"/><circle cx="445.3" cy="631.9" r="1.1" fill="#2f9e40"/><circle cx="440.3" cy="603.8" r="0.7" fill="#2f9e40"/><circle cx="445.6" cy="590.5" r="0.8" fill="#3535a8"/><circle cx="447.1" cy="591.8" r="1.1" fill="#3535a8"/><circle cx="447.4" cy="592.0" r="1.0" fill="#3535a8"/><circle cx="448.4" cy="592.5" r="1.2" fill="#3535a8"/><circle cx="423.2" cy="610.0" r="1.2" fill="#2f9e40"/><circle cx="421.8" cy="610.1" r="0.7" fill="#2f9e40"/><circle cx="420.3" cy="610.0" r="1.2" fill="#2f9e40"/><circle cx="441.4" cy="621.9" r="0.9" fill="#2f9e40"/><circle cx="443.5" cy="622.5" r="1.1" fill="#2f9e40"/><circle cx="447.2" cy="563.9" r="1.2" fill="#3535a8"/><circle cx="439.4" cy="554.2" r="1.1" fill="#3535a8"/><circle cx="441.2" cy="554.2" r="1.1" fill="#3535a8"/><circle cx="441.2" cy="555.3" r="1.2" fill="#3535a8"/><circle cx="439.5" cy="642.9" r="1.2" fill="#2f9e40"/><circle cx="437.6" cy="643.5" r="0.8" fill="#2f9e40"/><circle cx="436.2" cy="644.6" r="1.1" fill="#2f9e40"/><circle cx="426.1" cy="574.1" r="0.8" fill="#d84040"/><circle cx="425.7" cy="575.5" r="0.8" fill="#d84040"/><circle cx="437.7" cy="620.6" r="1.1" fill="#2f9e40"/><circle cx="424.8" cy="574.2" r="1.0" fill="#2f9e40"/><circle cx="424.3" cy="576.4" r="0.9" fill="#2f9e40"/><circle cx="418.4" cy="606.6" r="0.7" fill="#2f9e40"/><circle cx="417.4" cy="607.3" r="1.1" fill="#2f9e40"/><circle cx="415.1" cy="608.4" r="0.7" fill="#2f9e40"/><circle cx="425.3" cy="572.9" r="1.0" fill="#2f9e40"/><circle cx="425.7" cy="574.1" r="0.8" fill="#2f9e40"/><circle cx="425.3" cy="575.0" r="0.7" fill="#2f9e40"/><circle cx="409.1" cy="577.0" r="1.1" fill="#2f9e40"/><circle cx="493.6" cy="551.2" r="0.7" fill="#3535a8"/><circle cx="493.8" cy="552.8" r="1.0" fill="#3535a8"/><circle cx="487.1" cy="562.2" r="1.2" fill="#3535a8"/><circle cx="437.1" cy="607.7" r="1.1" fill="#2f9e40"/><circle cx="436.6" cy="608.8" r="0.8" fill="#2f9e40"/><circle cx="436.3" cy="610.6" r="0.9" fill="#2f9e40"/><circle cx="428.0" cy="606.5" r="0.8" fill="#2f9e40"/><circle cx="427.9" cy="608.2" r="1.2" fill="#2f9e40"/><circle cx="428.5" cy="609.3" r="0.7" fill="#2f9e40"/><circle cx="458.6" cy="554.4" r="0.8" fill="#3535a8"/><circle cx="455.2" cy="548.9" r="1.1" fill="#2f9e40"/><circle cx="454.1" cy="549.6" r="1.1" fill="#2f9e40"/><circle cx="444.1" cy="621.6" r="0.9" fill="#2f9e40"/><circle cx="444.8" cy="623.3" r="1.1" fill="#2f9e40"/><circle cx="445.9" cy="623.3" r="0.8" fill="#2f9e40"/><circle cx="446.9" cy="625.1" r="0.9" fill="#2f9e40"/><circle cx="470.8" cy="545.4" r="0.9" fill="#2f9e40"/><circle cx="470.3" cy="544.4" r="1.0" fill="#2f9e40"/><circle cx="468.3" cy="545.7" r="0.8" fill="#2f9e40"/><circle cx="432.0" cy="559.2" r="0.8" fill="#3535a8"/><circle cx="441.3" cy="609.4" r="1.1" fill="#2f9e40"/><circle cx="442.2" cy="609.3" r="1.2" fill="#2f9e40"/><circle cx="465.3" cy="613.0" r="1.0" fill="#3535a8"/><circle cx="497.0" cy="643.4" r="0.8" fill="#d84040"/><circle cx="498.0" cy="644.5" r="1.0" fill="#d84040"/><circle cx="416.2" cy="588.9" r="1.0" fill="#3535a8"/><circle cx="422.4" cy="616.3" r="0.8" fill="#2f9e40"/><circle cx="422.7" cy="616.7" r="1.1" fill="#2f9e40"/><circle cx="423.9" cy="618.9" r="0.7" fill="#2f9e40"/><circle cx="442.3" cy="641.4" r="1.0" fill="#2f9e40"/><circle cx="436.3" cy="612.6" r="1.1" fill="#2f9e40"/><circle cx="435.1" cy="614.0" r="1.0" fill="#2f9e40"/><circle cx="424.8" cy="593.7" r="1.0" fill="#2f9e40"/><circle cx="424.2" cy="594.9" r="1.1" fill="#2f9e40"/><circle cx="423.1" cy="595.8" r="0.7" fill="#2f9e40"/><circle cx="421.5" cy="596.8" r="1.0" fill="#2f9e40"/><circle cx="404.4" cy="611.8" r="1.1" fill="#2f9e40"/><circle cx="403.3" cy="613.4" r="1.2" fill="#2f9e40"/><circle cx="468.7" cy="600.6" r="1.0" fill="#2f9e40"/><circle cx="469.2" cy="602.9" r="0.8" fill="#2f9e40"/><circle cx="469.8" cy="602.7" r="0.7" fill="#2f9e40"/><circle cx="469.9" cy="604.4" r="0.8" fill="#2f9e40"/><circle cx="443.8" cy="566.6" r="1.2" fill="#3535a8"/><circle cx="442.7" cy="567.1" r="0.8" fill="#3535a8"/><circle cx="465.2" cy="591.6" r="0.7" fill="#2f9e40"/><circle cx="466.5" cy="593.6" r="1.2" fill="#2f9e40"/><circle cx="425.1" cy="577.0" r="1.2" fill="#3535a8"/><circle cx="423.9" cy="577.7" r="1.1" fill="#3535a8"/><circle cx="423.7" cy="579.6" r="0.9" fill="#3535a8"/><circle cx="423.4" cy="580.5" r="0.7" fill="#3535a8"/><circle cx="426.5" cy="586.6" r="1.1" fill="#3535a8"/><circle cx="425.2" cy="586.6" r="0.7" fill="#3535a8"/><circle cx="424.3" cy="586.7" r="0.9" fill="#3535a8"/><circle cx="423.2" cy="586.7" r="0.9" fill="#3535a8"/><circle cx="426.0" cy="576.0" r="1.0" fill="#3535a8"/><circle cx="425.1" cy="576.3" r="1.2" fill="#3535a8"/><circle cx="422.8" cy="577.3" r="0.9" fill="#3535a8"/><circle cx="422.2" cy="577.8" r="0.8" fill="#3535a8"/><circle cx="454.6" cy="631.9" r="1.2" fill="#2f9e40"/><circle cx="454.0" cy="632.5" r="1.1" fill="#2f9e40"/><circle cx="453.4" cy="634.8" r="1.2" fill="#2f9e40"/><circle cx="451.1" cy="635.4" r="0.8" fill="#2f9e40"/><circle cx="493.8" cy="612.2" r="0.9" fill="#3535a8"/><circle cx="493.9" cy="613.6" r="1.2" fill="#3535a8"/><circle cx="424.8" cy="562.5" r="1.1" fill="#2f9e40"/><circle cx="474.6" cy="587.4" r="0.8" fill="#3535a8"/><circle cx="433.6" cy="577.3" r="0.9" fill="#2f9e40"/><circle cx="432.5" cy="577.6" r="0.7" fill="#2f9e40"/><circle cx="430.6" cy="578.6" r="1.1" fill="#2f9e40"/><circle cx="429.6" cy="578.8" r="0.9" fill="#2f9e40"/><circle cx="454.4" cy="614.8" r="1.2" fill="#2f9e40"/><circle cx="471.0" cy="632.4" r="0.8" fill="#2f9e40"/><circle cx="470.5" cy="634.5" r="0.9" fill="#2f9e40"/><circle cx="418.6" cy="605.2" r="0.8" fill="#2f9e40"/><circle cx="419.8" cy="606.3" r="0.9" fill="#2f9e40"/><circle cx="419.1" cy="607.6" r="0.8" fill="#2f9e40"/><circle cx="420.3" cy="609.3" r="1.0" fill="#2f9e40"/><circle cx="462.6" cy="642.2" r="1.0" fill="#2f9e40"/><circle cx="460.8" cy="642.9" r="0.8" fill="#2f9e40"/><circle cx="460.2" cy="641.4" r="1.1" fill="#2f9e40"/><circle cx="457.9" cy="642.3" r="1.2" fill="#2f9e40"/><circle cx="462.2" cy="568.4" r="1.1" fill="#3535a8"/><circle cx="429.2" cy="544.1" r="1.0" fill="#2f9e40"/><circle cx="429.4" cy="546.0" r="0.7" fill="#2f9e40"/><circle cx="486.9" cy="545.7" r="0.7" fill="#2f9e40"/><circle cx="486.7" cy="547.8" r="1.1" fill="#2f9e40"/><circle cx="435.9" cy="579.2" r="1.1" fill="#2f9e40"/><circle cx="447.1" cy="558.5" r="0.7" fill="#2f9e40"/><circle cx="453.0" cy="620.2" r="1.2" fill="#3535a8"/><circle cx="453.1" cy="621.4" r="0.9" fill="#3535a8"/><circle cx="434.8" cy="557.0" r="0.9" fill="#d84040"/><circle cx="435.0" cy="559.0" r="0.7" fill="#d84040"/><circle cx="458.3" cy="611.6" r="1.1" fill="#2f9e40"/><circle cx="440.4" cy="556.7" r="1.0" fill="#2f9e40"/><circle cx="440.1" cy="557.0" r="0.8" fill="#2f9e40"/><circle cx="441.3" cy="558.4" r="0.7" fill="#2f9e40"/><circle cx="461.9" cy="607.2" r="1.0" fill="#2f9e40"/><circle cx="459.6" cy="607.6" r="0.7" fill="#2f9e40"/><circle cx="459.1" cy="607.4" r="0.9" fill="#2f9e40"/><circle cx="457.7" cy="608.1" r="1.2" fill="#2f9e40"/><circle cx="438.8" cy="627.6" r="1.1" fill="#2f9e40"/><circle cx="441.1" cy="629.2" r="1.2" fill="#2f9e40"/><circle cx="440.1" cy="629.3" r="1.1" fill="#2f9e40"/><circle cx="443.5" cy="630.4" r="1.2" fill="#2f9e40"/><circle cx="438.9" cy="549.6" r="0.8" fill="#2f9e40"/><circle cx="437.7" cy="550.6" r="1.0" fill="#2f9e40"/><circle cx="435.6" cy="549.9" r="1.0" fill="#2f9e40"/><circle cx="434.4" cy="550.1" r="0.9" fill="#2f9e40"/><circle cx="425.2" cy="554.8" r="1.0" fill="#2f9e40"/><circle cx="425.1" cy="556.5" r="0.9" fill="#2f9e40"/><circle cx="422.4" cy="557.7" r="1.0" fill="#2f9e40"/><circle cx="502.0" cy="639.5" r="0.7" fill="#d84040"/><circle cx="503.0" cy="641.1" r="0.7" fill="#d84040"/><circle cx="503.8" cy="641.9" r="0.8" fill="#d84040"/><circle cx="475.1" cy="571.4" r="1.0" fill="#3535a8"/><circle cx="476.5" cy="572.6" r="1.0" fill="#3535a8"/><circle cx="476.8" cy="573.6" r="0.8" fill="#3535a8"/><circle cx="476.9" cy="575.6" r="0.9" fill="#3535a8"/><circle cx="437.7" cy="595.7" r="0.8" fill="#3535a8"/><circle cx="439.1" cy="595.6" r="1.0" fill="#3535a8"/><circle cx="440.4" cy="595.8" r="0.7" fill="#3535a8"/><circle cx="441.3" cy="596.3" r="1.2" fill="#3535a8"/><circle cx="447.1" cy="545.0" r="1.0" fill="#3535a8"/><circle cx="445.1" cy="546.0" r="0.8" fill="#3535a8"/><circle cx="444.5" cy="548.1" r="0.7" fill="#3535a8"/><circle cx="448.1" cy="568.9" r="1.0" fill="#2f9e40"/><circle cx="449.6" cy="568.4" r="1.2" fill="#2f9e40"/><circle cx="448.3" cy="577.1" r="0.9" fill="#2f9e40"/><circle cx="446.3" cy="577.9" r="0.9" fill="#2f9e40"/><circle cx="473.8" cy="637.8" r="1.2" fill="#3535a8"/><circle cx="473.2" cy="638.8" r="0.9" fill="#3535a8"/><circle cx="472.1" cy="640.4" r="1.2" fill="#3535a8"/><circle cx="471.1" cy="642.1" r="0.7" fill="#3535a8"/><circle cx="502.2" cy="623.1" r="0.8" fill="#2f9e40"/><circle cx="445.6" cy="565.8" r="1.2" fill="#3535a8"/><circle cx="444.6" cy="566.8" r="1.0" fill="#3535a8"/><circle cx="431.2" cy="597.9" r="0.7" fill="#2f9e40"/><circle cx="431.9" cy="598.5" r="1.2" fill="#2f9e40"/><circle cx="433.2" cy="600.0" r="0.8" fill="#2f9e40"/><circle cx="416.7" cy="641.8" r="0.8" fill="#2f9e40"/><circle cx="417.1" cy="643.3" r="0.8" fill="#2f9e40"/><circle cx="417.9" cy="644.8" r="0.7" fill="#2f9e40"/><circle cx="418.5" cy="645.7" r="1.2" fill="#2f9e40"/><circle cx="445.3" cy="613.2" r="0.9" fill="#2f9e40"/><circle cx="444.1" cy="614.5" r="1.2" fill="#2f9e40"/><circle cx="443.0" cy="615.6" r="0.7" fill="#2f9e40"/><circle cx="460.2" cy="552.5" r="0.9" fill="#3535a8"/><circle cx="461.8" cy="554.2" r="1.1" fill="#3535a8"/><circle cx="461.4" cy="555.6" r="1.1" fill="#3535a8"/><circle cx="453.4" cy="620.0" r="1.1" fill="#3535a8"/><circle cx="451.4" cy="619.8" r="1.2" fill="#3535a8"/><circle cx="420.6" cy="572.7" r="0.8" fill="#2f9e40"/><circle cx="421.1" cy="574.2" r="1.0" fill="#2f9e40"/><circle cx="453.5" cy="634.2" r="0.9" fill="#2f9e40"/><circle cx="453.6" cy="635.2" r="1.0" fill="#2f9e40"/><circle cx="451.6" cy="635.3" r="0.8" fill="#2f9e40"/><circle cx="450.8" cy="636.9" r="0.8" fill="#2f9e40"/><circle cx="442.2" cy="641.6" r="1.1" fill="#3535a8"/><circle cx="440.5" cy="642.8" r="0.7" fill="#3535a8"/><circle cx="438.7" cy="643.0" r="1.0" fill="#3535a8"/><circle cx="438.0" cy="577.1" r="0.7" fill="#3535a8"/><circle cx="436.4" cy="577.9" r="1.2" fill="#3535a8"/><circle cx="434.8" cy="577.5" r="0.7" fill="#3535a8"/><circle cx="433.2" cy="577.5" r="0.8" fill="#3535a8"/><circle cx="432.9" cy="544.6" r="1.1" fill="#3535a8"/><circle cx="475.8" cy="636.0" r="0.7" fill="#2f9e40"/><circle cx="475.9" cy="638.2" r="1.2" fill="#2f9e40"/><circle cx="453.7" cy="569.5" r="1.1" fill="#2f9e40"/><circle cx="454.0" cy="571.4" r="1.1" fill="#2f9e40"/><circle cx="454.6" cy="573.1" r="0.9" fill="#2f9e40"/><circle cx="450.8" cy="547.1" r="1.2" fill="#2f9e40"/><circle cx="451.8" cy="548.9" r="1.1" fill="#2f9e40"/><circle cx="450.6" cy="550.4" r="1.0" fill="#2f9e40"/><circle cx="432.4" cy="633.4" r="0.9" fill="#2f9e40"/><circle cx="431.5" cy="634.0" r="1.2" fill="#2f9e40"/><circle cx="431.1" cy="635.0" r="0.8" fill="#2f9e40"/><circle cx="421.2" cy="576.5" r="1.1" fill="#2f9e40"/><circle cx="422.7" cy="576.9" r="1.1" fill="#2f9e40"/><circle cx="441.7" cy="585.9" r="1.1" fill="#2f9e40"/><circle cx="440.8" cy="585.9" r="1.1" fill="#2f9e40"/><circle cx="436.4" cy="617.8" r="1.0" fill="#3535a8"/><circle cx="434.2" cy="617.2" r="0.7" fill="#3535a8"/><circle cx="433.8" cy="618.0" r="1.1" fill="#3535a8"/><circle cx="431.4" cy="618.8" r="1.1" fill="#3535a8"/><circle cx="413.6" cy="564.2" r="1.1" fill="#2f9e40"/><circle cx="461.3" cy="636.6" r="1.1" fill="#2f9e40"/><circle cx="460.5" cy="639.0" r="1.1" fill="#2f9e40"/><circle cx="460.3" cy="639.7" r="1.1" fill="#2f9e40"/><circle cx="459.1" cy="640.8" r="0.9" fill="#2f9e40"/><circle cx="445.6" cy="596.1" r="0.7" fill="#2f9e40"/><circle cx="444.3" cy="597.3" r="0.7" fill="#2f9e40"/><circle cx="443.5" cy="598.5" r="1.0" fill="#2f9e40"/><circle cx="443.8" cy="600.4" r="1.2" fill="#2f9e40"/><circle cx="449.1" cy="614.6" r="0.8" fill="#3535a8"/><circle cx="449.2" cy="615.1" r="1.0" fill="#3535a8"/><circle cx="449.4" cy="617.2" r="0.7" fill="#3535a8"/><circle cx="472.6" cy="642.5" r="1.0" fill="#2f9e40"/><circle cx="476.7" cy="549.7" r="0.9" fill="#2f9e40"/><circle cx="476.5" cy="551.3" r="1.0" fill="#2f9e40"/><circle cx="476.6" cy="552.5" r="1.1" fill="#2f9e40"/><circle cx="476.5" cy="554.1" r="0.9" fill="#2f9e40"/><circle cx="413.7" cy="547.0" r="1.1" fill="#2f9e40"/><circle cx="415.7" cy="548.2" r="0.8" fill="#2f9e40"/><circle cx="422.7" cy="613.7" r="0.9" fill="#2f9e40"/><circle cx="424.2" cy="614.7" r="1.0" fill="#2f9e40"/><circle cx="425.4" cy="616.7" r="0.8" fill="#2f9e40"/><circle cx="426.4" cy="617.2" r="0.8" fill="#2f9e40"/><circle cx="457.8" cy="567.3" r="1.2" fill="#2f9e40"/><circle cx="458.0" cy="568.6" r="1.2" fill="#2f9e40"/><circle cx="442.9" cy="629.0" r="1.1" fill="#2f9e40"/><circle cx="445.0" cy="628.6" r="0.8" fill="#2f9e40"/><circle cx="446.7" cy="629.2" r="1.2" fill="#2f9e40"/><circle cx="448.7" cy="640.2" r="0.8" fill="#2f9e40"/><circle cx="447.5" cy="641.8" r="1.1" fill="#2f9e40"/><circle cx="428.7" cy="549.7" r="1.2" fill="#2f9e40"/><circle cx="429.5" cy="551.3" r="1.0" fill="#2f9e40"/><circle cx="430.6" cy="552.3" r="1.1" fill="#2f9e40"/><circle cx="431.1" cy="553.2" r="1.2" fill="#2f9e40"/><circle cx="485.7" cy="566.2" r="0.9" fill="#2f9e40"/><circle cx="483.9" cy="567.2" r="0.7" fill="#2f9e40"/><circle cx="487.4" cy="610.5" r="0.7" fill="#2f9e40"/><circle cx="488.7" cy="612.2" r="0.8" fill="#2f9e40"/><circle cx="489.2" cy="612.2" r="0.7" fill="#2f9e40"/><circle cx="449.0" cy="568.6" r="1.1" fill="#2f9e40"/><circle cx="449.6" cy="570.8" r="0.8" fill="#2f9e40"/><circle cx="472.7" cy="561.8" r="1.2" fill="#3535a8"/><circle cx="471.4" cy="562.1" r="0.9" fill="#3535a8"/><circle cx="470.3" cy="562.4" r="0.7" fill="#3535a8"/><circle cx="468.5" cy="563.1" r="0.7" fill="#3535a8"/><circle cx="449.5" cy="607.7" r="0.7" fill="#d84040"/><circle cx="451.2" cy="607.7" r="0.9" fill="#d84040"/><circle cx="452.0" cy="608.0" r="1.2" fill="#d84040"/><circle cx="416.6" cy="577.6" r="1.0" fill="#3535a8"/><circle cx="415.3" cy="579.5" r="0.9" fill="#3535a8"/><circle cx="415.0" cy="580.4" r="0.9" fill="#3535a8"/><circle cx="442.0" cy="616.5" r="0.9" fill="#2f9e40"/><circle cx="403.6" cy="643.8" r="1.1" fill="#2f9e40"/><circle cx="402.3" cy="644.6" r="1.1" fill="#2f9e40"/><circle cx="428.0" cy="622.6" r="0.7" fill="#3535a8"/><circle cx="420.4" cy="603.6" r="0.8" fill="#d84040"/><circle cx="421.8" cy="603.4" r="1.2" fill="#d84040"/><circle cx="423.4" cy="603.4" r="1.1" fill="#d84040"/><circle cx="473.2" cy="568.2" r="1.2" fill="#2f9e40"/><circle cx="473.0" cy="569.5" r="0.8" fill="#2f9e40"/><circle cx="474.6" cy="570.2" r="0.7" fill="#2f9e40"/><circle cx="474.8" cy="571.6" r="1.0" fill="#2f9e40"/><circle cx="423.1" cy="637.7" r="1.1" fill="#2f9e40"/><circle cx="451.1" cy="592.8" r="1.0" fill="#2f9e40"/><circle cx="450.2" cy="593.4" r="0.7" fill="#2f9e40"/><circle cx="447.2" cy="593.0" r="0.8" fill="#2f9e40"/><circle cx="446.0" cy="593.6" r="0.7" fill="#2f9e40"/><circle cx="442.9" cy="582.6" r="1.0" fill="#2f9e40"/><circle cx="441.3" cy="582.6" r="1.1" fill="#2f9e40"/><circle cx="439.4" cy="583.4" r="1.1" fill="#2f9e40"/><circle cx="446.3" cy="630.9" r="1.0" fill="#3535a8"/><circle cx="446.2" cy="632.0" r="1.0" fill="#3535a8"/><circle cx="447.1" cy="633.2" r="1.2" fill="#3535a8"/><circle cx="491.8" cy="549.5" r="0.9" fill="#3535a8"/><circle cx="456.5" cy="575.2" r="0.7" fill="#2f9e40"/><circle cx="418.4" cy="588.8" r="1.1" fill="#d84040"/><circle cx="417.2" cy="590.0" r="0.9" fill="#d84040"/><circle cx="408.1" cy="639.8" r="0.9" fill="#2f9e40"/><circle cx="415.0" cy="631.6" r="0.8" fill="#2f9e40"/><circle cx="414.3" cy="632.5" r="1.0" fill="#2f9e40"/><circle cx="413.7" cy="633.3" r="1.2" fill="#2f9e40"/><circle cx="413.2" cy="635.6" r="1.0" fill="#2f9e40"/><circle cx="409.6" cy="625.4" r="1.2" fill="#2f9e40"/><circle cx="409.1" cy="627.1" r="0.9" fill="#2f9e40"/><circle cx="408.7" cy="628.8" r="1.0" fill="#2f9e40"/><circle cx="432.7" cy="613.0" r="0.7" fill="#2f9e40"/><circle cx="432.2" cy="615.8" r="0.8" fill="#2f9e40"/><circle cx="431.0" cy="616.4" r="0.9" fill="#2f9e40"/><circle cx="442.6" cy="628.3" r="0.7" fill="#2f9e40"/><circle cx="441.8" cy="630.4" r="1.2" fill="#2f9e40"/><circle cx="442.0" cy="631.3" r="1.2" fill="#2f9e40"/><circle cx="441.9" cy="633.2" r="0.8" fill="#2f9e40"/><circle cx="418.0" cy="576.7" r="0.7" fill="#3535a8"/><circle cx="416.6" cy="578.0" r="0.7" fill="#3535a8"/><circle cx="415.5" cy="579.0" r="1.2" fill="#3535a8"/><circle cx="413.9" cy="580.1" r="1.0" fill="#3535a8"/><circle cx="435.9" cy="605.6" r="1.1" fill="#2f9e40"/><circle cx="460.2" cy="566.0" r="1.2" fill="#2f9e40"/><circle cx="462.2" cy="566.7" r="1.1" fill="#2f9e40"/><circle cx="461.7" cy="567.5" r="1.0" fill="#2f9e40"/><circle cx="463.0" cy="568.3" r="0.8" fill="#2f9e40"/><circle cx="419.5" cy="587.6" r="0.7" fill="#3535a8"/><circle cx="424.0" cy="638.4" r="1.1" fill="#2f9e40"/><circle cx="424.5" cy="640.3" r="0.7" fill="#2f9e40"/><circle cx="423.6" cy="596.4" r="1.0" fill="#3535a8"/><circle cx="423.0" cy="597.9" r="1.0" fill="#3535a8"/><circle cx="421.7" cy="599.3" r="0.9" fill="#3535a8"/><circle cx="477.5" cy="585.5" r="1.0" fill="#2f9e40"/><circle cx="476.6" cy="587.1" r="0.8" fill="#2f9e40"/><circle cx="475.6" cy="588.2" r="0.8" fill="#2f9e40"/><circle cx="476.1" cy="591.6" r="0.7" fill="#2f9e40"/><circle cx="412.3" cy="560.6" r="0.7" fill="#d84040"/><circle cx="411.6" cy="561.8" r="0.9" fill="#d84040"/><circle cx="410.5" cy="563.2" r="0.8" fill="#d84040"/><circle cx="456.9" cy="640.4" r="1.1" fill="#3535a8"/><circle cx="457.2" cy="640.3" r="1.1" fill="#3535a8"/><circle cx="413.3" cy="580.3" r="1.0" fill="#d84040"/><circle cx="429.4" cy="624.3" r="0.9" fill="#2f9e40"/><circle cx="456.0" cy="635.0" r="0.8" fill="#2f9e40"/><circle cx="455.7" cy="637.1" r="1.0" fill="#2f9e40"/><circle cx="463.8" cy="546.1" r="1.0" fill="#3535a8"/><circle cx="423.5" cy="622.3" r="0.9" fill="#2f9e40"/><circle cx="422.3" cy="622.8" r="0.7" fill="#2f9e40"/><circle cx="420.8" cy="622.3" r="0.7" fill="#2f9e40"/><circle cx="420.0" cy="622.9" r="0.7" fill="#2f9e40"/><circle cx="445.1" cy="634.8" r="0.9" fill="#2f9e40"/><circle cx="449.8" cy="596.3" r="1.1" fill="#2f9e40"/><circle cx="448.6" cy="597.4" r="0.8" fill="#2f9e40"/><circle cx="447.8" cy="598.0" r="1.0" fill="#2f9e40"/><circle cx="446.8" cy="599.5" r="1.2" fill="#2f9e40"/><circle cx="469.4" cy="561.0" r="0.9" fill="#2f9e40"/><circle cx="420.1" cy="633.5" r="1.1" fill="#2f9e40"/><circle cx="430.7" cy="562.0" r="0.9" fill="#3535a8"/><circle cx="433.2" cy="562.2" r="0.7" fill="#3535a8"/><circle cx="433.8" cy="562.5" r="0.9" fill="#3535a8"/><circle cx="445.1" cy="614.5" r="1.1" fill="#3535a8"/><circle cx="445.6" cy="615.2" r="0.7" fill="#3535a8"/><circle cx="446.4" cy="615.7" r="1.0" fill="#3535a8"/><circle cx="448.6" cy="617.2" r="0.9" fill="#3535a8"/><circle cx="442.1" cy="547.4" r="0.9" fill="#3535a8"/><circle cx="442.1" cy="547.9" r="1.1" fill="#3535a8"/><circle cx="444.0" cy="549.1" r="0.7" fill="#3535a8"/><circle cx="444.8" cy="549.5" r="1.0" fill="#3535a8"/><circle cx="433.8" cy="572.7" r="1.0" fill="#3535a8"/><circle cx="434.0" cy="574.3" r="1.1" fill="#3535a8"/><circle cx="435.4" cy="575.1" r="1.0" fill="#3535a8"/><circle cx="437.1" cy="576.9" r="0.9" fill="#3535a8"/><circle cx="431.4" cy="614.7" r="1.0" fill="#2f9e40"/><circle cx="432.7" cy="615.0" r="0.8" fill="#2f9e40"/><circle cx="489.1" cy="555.4" r="1.0" fill="#3535a8"/><circle cx="418.2" cy="598.7" r="0.8" fill="#2f9e40"/><circle cx="419.4" cy="600.1" r="0.7" fill="#2f9e40"/><circle cx="418.9" cy="601.3" r="0.8" fill="#2f9e40"/><circle cx="418.8" cy="603.4" r="1.2" fill="#2f9e40"/><circle cx="429.4" cy="587.6" r="1.2" fill="#3535a8"/><circle cx="475.7" cy="556.1" r="0.7" fill="#2f9e40"/><circle cx="429.1" cy="564.0" r="1.2" fill="#2f9e40"/><circle cx="434.7" cy="577.5" r="0.7" fill="#2f9e40"/><circle cx="433.0" cy="577.7" r="0.9" fill="#2f9e40"/><circle cx="431.3" cy="578.5" r="0.9" fill="#2f9e40"/><circle cx="434.8" cy="570.1" r="1.1" fill="#2f9e40"/><circle cx="435.9" cy="571.1" r="1.0" fill="#2f9e40"/><circle cx="454.0" cy="613.2" r="1.0" fill="#2f9e40"/><circle cx="452.4" cy="607.4" r="0.8" fill="#3535a8"/><circle cx="452.0" cy="608.3" r="1.0" fill="#3535a8"/><circle cx="411.0" cy="596.6" r="1.2" fill="#2f9e40"/><circle cx="412.2" cy="597.1" r="1.0" fill="#2f9e40"/><circle cx="424.4" cy="628.0" r="1.2" fill="#3535a8"/><circle cx="426.5" cy="629.1" r="0.8" fill="#3535a8"/><circle cx="427.4" cy="629.4" r="1.2" fill="#3535a8"/><circle cx="428.6" cy="630.1" r="0.8" fill="#3535a8"/><circle cx="433.4" cy="610.9" r="0.8" fill="#2f9e40"/><circle cx="434.3" cy="611.7" r="1.2" fill="#2f9e40"/><circle cx="435.9" cy="613.5" r="0.9" fill="#2f9e40"/><circle cx="418.2" cy="589.0" r="1.2" fill="#d84040"/><circle cx="421.1" cy="580.8" r="1.2" fill="#2f9e40"/><circle cx="419.5" cy="582.0" r="0.9" fill="#2f9e40"/><circle cx="424.3" cy="579.0" r="1.0" fill="#2f9e40"/><circle cx="423.3" cy="579.6" r="1.0" fill="#2f9e40"/><circle cx="423.7" cy="581.0" r="1.2" fill="#2f9e40"/><circle cx="473.3" cy="596.1" r="1.2" fill="#3535a8"/><circle cx="473.4" cy="597.5" r="0.9" fill="#3535a8"/><circle cx="475.4" cy="598.7" r="1.1" fill="#3535a8"/><circle cx="475.8" cy="598.9" r="0.9" fill="#3535a8"/><circle cx="444.7" cy="619.9" r="0.8" fill="#2f9e40"/><circle cx="446.2" cy="618.6" r="0.9" fill="#2f9e40"/><circle cx="447.4" cy="620.9" r="0.8" fill="#2f9e40"/><circle cx="485.8" cy="557.6" r="0.9" fill="#3535a8"/><circle cx="488.1" cy="558.0" r="1.0" fill="#3535a8"/><circle cx="490.0" cy="558.9" r="1.1" fill="#3535a8"/><circle cx="490.4" cy="559.3" r="1.2" fill="#3535a8"/><circle cx="469.8" cy="601.9" r="1.0" fill="#3535a8"/><circle cx="425.7" cy="582.8" r="0.9" fill="#2f9e40"/><circle cx="425.3" cy="583.2" r="1.2" fill="#2f9e40"/><circle cx="424.3" cy="584.5" r="0.9" fill="#2f9e40"/><circle cx="474.8" cy="600.8" r="0.7" fill="#2f9e40"/><circle cx="477.3" cy="604.7" r="1.2" fill="#2f9e40"/><circle cx="478.0" cy="604.6" r="1.1" fill="#2f9e40"/><circle cx="428.2" cy="592.2" r="0.7" fill="#2f9e40"/><circle cx="428.8" cy="592.5" r="0.8" fill="#2f9e40"/><circle cx="431.2" cy="592.8" r="0.8" fill="#2f9e40"/><circle cx="422.7" cy="584.5" r="0.8" fill="#2f9e40"/><circle cx="421.6" cy="585.7" r="0.7" fill="#2f9e40"/><circle cx="419.5" cy="587.1" r="1.2" fill="#2f9e40"/><circle cx="446.5" cy="610.4" r="0.7" fill="#2f9e40"/><circle cx="445.0" cy="610.5" r="1.0" fill="#2f9e40"/><circle cx="443.1" cy="611.8" r="1.0" fill="#2f9e40"/><circle cx="418.8" cy="620.7" r="1.1" fill="#2f9e40"/><circle cx="418.4" cy="621.4" r="1.2" fill="#2f9e40"/><circle cx="417.2" cy="622.7" r="1.2" fill="#2f9e40"/><circle cx="417.1" cy="624.1" r="1.0" fill="#2f9e40"/><circle cx="469.4" cy="641.8" r="0.9" fill="#2f9e40"/><circle cx="469.5" cy="643.7" r="1.1" fill="#2f9e40"/><circle cx="471.0" cy="612.2" r="0.9" fill="#d84040"/><circle cx="439.9" cy="575.1" r="1.0" fill="#3535a8"/><circle cx="495.3" cy="629.1" r="1.2" fill="#d84040"/><circle cx="496.4" cy="629.7" r="1.1" fill="#d84040"/><circle cx="497.4" cy="630.8" r="0.8" fill="#d84040"/><circle cx="422.3" cy="546.0" r="1.0" fill="#2f9e40"/><circle cx="421.0" cy="546.1" r="0.7" fill="#2f9e40"/><circle cx="489.0" cy="576.0" r="1.2" fill="#2f9e40"/><circle cx="489.9" cy="576.8" r="1.0" fill="#2f9e40"/><circle cx="416.4" cy="641.2" r="0.7" fill="#2f9e40"/><circle cx="455.1" cy="597.6" r="0.7" fill="#2f9e40"/><circle cx="453.7" cy="598.8" r="1.0" fill="#2f9e40"/><circle cx="443.0" cy="558.3" r="0.7" fill="#3535a8"/><circle cx="444.7" cy="558.7" r="1.0" fill="#3535a8"/><circle cx="439.5" cy="637.9" r="0.9" fill="#2f9e40"/><circle cx="418.3" cy="549.2" r="1.0" fill="#3535a8"/><circle cx="420.2" cy="548.9" r="1.1" fill="#3535a8"/><circle cx="421.3" cy="549.4" r="1.1" fill="#3535a8"/><circle cx="423.0" cy="549.6" r="0.9" fill="#3535a8"/><circle cx="429.5" cy="577.1" r="0.8" fill="#2f9e40"/><circle cx="411.5" cy="612.0" r="1.1" fill="#2f9e40"/><circle cx="412.6" cy="611.5" r="0.8" fill="#2f9e40"/><circle cx="414.4" cy="613.0" r="1.2" fill="#2f9e40"/><circle cx="414.9" cy="614.3" r="1.2" fill="#2f9e40"/><circle cx="431.1" cy="597.9" r="0.8" fill="#3535a8"/><circle cx="431.3" cy="600.0" r="0.8" fill="#3535a8"/><circle cx="430.7" cy="601.4" r="0.7" fill="#3535a8"/><circle cx="426.5" cy="546.2" r="1.0" fill="#3535a8"/><circle cx="425.6" cy="547.1" r="0.9" fill="#3535a8"/><circle cx="431.5" cy="588.6" r="0.9" fill="#3535a8"/><circle cx="433.6" cy="588.2" r="1.1" fill="#3535a8"/><circle cx="430.8" cy="583.5" r="0.9" fill="#3535a8"/><circle cx="431.8" cy="584.5" r="1.1" fill="#3535a8"/><circle cx="432.7" cy="586.3" r="0.9" fill="#3535a8"/><circle cx="451.0" cy="641.0" r="1.0" fill="#2f9e40"/><circle cx="452.9" cy="641.5" r="0.7" fill="#2f9e40"/><circle cx="454.1" cy="642.3" r="0.7" fill="#2f9e40"/><circle cx="454.8" cy="643.8" r="0.8" fill="#2f9e40"/><circle cx="463.4" cy="603.5" r="0.9" fill="#3535a8"/><circle cx="463.3" cy="604.4" r="1.0" fill="#3535a8"/><circle cx="428.0" cy="642.8" r="1.2" fill="#2f9e40"/><circle cx="457.1" cy="620.5" r="1.0" fill="#2f9e40"/><circle cx="428.1" cy="570.3" r="0.9" fill="#3535a8"/><circle cx="427.6" cy="571.9" r="1.2" fill="#3535a8"/><circle cx="418.9" cy="615.6" r="1.2" fill="#2f9e40"/><circle cx="419.1" cy="617.2" r="0.7" fill="#2f9e40"/><circle cx="438.7" cy="580.8" r="0.9" fill="#d84040"/><circle cx="440.6" cy="581.4" r="0.9" fill="#d84040"/><circle cx="461.6" cy="642.6" r="0.9" fill="#2f9e40"/><circle cx="438.9" cy="602.4" r="0.8" fill="#2f9e40"/><circle cx="440.7" cy="602.8" r="1.0" fill="#2f9e40"/><circle cx="442.4" cy="603.7" r="0.9" fill="#2f9e40"/><circle cx="449.9" cy="589.6" r="0.9" fill="#3535a8"/><circle cx="451.4" cy="591.4" r="1.2" fill="#3535a8"/><circle cx="420.0" cy="601.6" r="1.0" fill="#d84040"/><circle cx="421.5" cy="602.7" r="0.9" fill="#d84040"/><circle cx="422.8" cy="604.7" r="1.1" fill="#d84040"/><circle cx="423.5" cy="604.9" r="0.8" fill="#d84040"/><circle cx="433.7" cy="624.7" r="0.9" fill="#2f9e40"/><circle cx="431.8" cy="625.8" r="0.8" fill="#2f9e40"/><circle cx="441.4" cy="621.4" r="1.2" fill="#2f9e40"/><circle cx="425.8" cy="572.4" r="1.2" fill="#3535a8"/><circle cx="425.0" cy="572.8" r="0.9" fill="#3535a8"/><circle cx="419.3" cy="644.2" r="1.2" fill="#2f9e40"/><circle cx="419.8" cy="644.8" r="0.9" fill="#2f9e40"/><circle cx="473.3" cy="561.7" r="0.9" fill="#2f9e40"/><circle cx="473.0" cy="562.8" r="0.8" fill="#2f9e40"/><circle cx="472.9" cy="564.6" r="0.9" fill="#2f9e40"/><circle cx="443.1" cy="569.5" r="1.2" fill="#2f9e40"/><circle cx="442.2" cy="570.6" r="0.9" fill="#2f9e40"/><circle cx="431.6" cy="586.6" r="1.0" fill="#3535a8"/><circle cx="430.3" cy="585.9" r="0.9" fill="#3535a8"/><circle cx="428.4" cy="586.4" r="1.1" fill="#3535a8"/><circle cx="436.5" cy="584.7" r="0.8" fill="#d84040"/><circle cx="436.4" cy="585.8" r="0.9" fill="#d84040"/><circle cx="435.0" cy="587.5" r="0.9" fill="#d84040"/><circle cx="434.4" cy="588.7" r="0.8" fill="#d84040"/><circle cx="439.7" cy="618.4" r="1.2" fill="#3535a8"/><circle cx="439.0" cy="619.2" r="0.9" fill="#3535a8"/><circle cx="437.7" cy="620.0" r="0.8" fill="#3535a8"/><circle cx="497.0" cy="635.9" r="1.2" fill="#3535a8"/><circle cx="496.6" cy="636.7" r="1.1" fill="#3535a8"/><circle cx="446.7" cy="593.6" r="0.9" fill="#2f9e40"/><circle cx="420.5" cy="564.3" r="1.0" fill="#3535a8"/><circle cx="421.4" cy="565.0" r="0.8" fill="#3535a8"/><circle cx="429.2" cy="612.4" r="1.0" fill="#3535a8"/><circle cx="431.2" cy="612.3" r="0.8" fill="#3535a8"/><circle cx="433.5" cy="612.3" r="0.7" fill="#3535a8"/><circle cx="434.4" cy="613.1" r="1.2" fill="#3535a8"/><circle cx="497.7" cy="554.4" r="1.0" fill="#3535a8"/><circle cx="497.4" cy="556.1" r="0.7" fill="#3535a8"/><circle cx="438.7" cy="548.7" r="0.7" fill="#3535a8"/><circle cx="437.9" cy="549.2" r="0.7" fill="#3535a8"/><circle cx="434.2" cy="596.2" r="0.7" fill="#2f9e40"/><circle cx="432.6" cy="596.2" r="0.7" fill="#2f9e40"/><circle cx="430.4" cy="597.6" r="1.1" fill="#2f9e40"/><circle cx="430.2" cy="599.1" r="0.8" fill="#2f9e40"/><circle cx="426.9" cy="549.5" r="0.7" fill="#3535a8"/><circle cx="427.2" cy="550.5" r="1.2" fill="#3535a8"/><circle cx="428.4" cy="551.7" r="0.8" fill="#3535a8"/><circle cx="428.6" cy="553.7" r="0.8" fill="#3535a8"/><circle cx="464.1" cy="615.5" r="1.0" fill="#d84040"/><circle cx="465.4" cy="616.6" r="0.9" fill="#d84040"/><circle cx="465.9" cy="618.3" r="0.9" fill="#d84040"/><circle cx="467.7" cy="567.4" r="0.9" fill="#3535a8"/><circle cx="468.2" cy="568.8" r="0.7" fill="#3535a8"/><circle cx="468.1" cy="570.7" r="0.7" fill="#3535a8"/><circle cx="414.5" cy="600.0" r="0.8" fill="#3535a8"/><circle cx="415.9" cy="601.4" r="1.0" fill="#3535a8"/><circle cx="452.0" cy="619.5" r="0.7" fill="#2f9e40"/><circle cx="421.8" cy="569.2" r="0.9" fill="#2f9e40"/><circle cx="422.2" cy="570.8" r="1.2" fill="#2f9e40"/><circle cx="423.3" cy="572.2" r="0.9" fill="#2f9e40"/><circle cx="424.8" cy="572.6" r="0.8" fill="#2f9e40"/><circle cx="436.3" cy="633.1" r="1.2" fill="#2f9e40"/><circle cx="437.4" cy="632.9" r="0.9" fill="#2f9e40"/><circle cx="439.2" cy="633.6" r="1.2" fill="#2f9e40"/><circle cx="440.2" cy="634.4" r="1.0" fill="#2f9e40"/><circle cx="434.9" cy="629.8" r="0.8" fill="#2f9e40"/><circle cx="436.9" cy="545.8" r="1.1" fill="#3535a8"/><circle cx="484.7" cy="563.5" r="1.0" fill="#2f9e40"/><circle cx="437.9" cy="602.3" r="0.7" fill="#3535a8"/><circle cx="439.4" cy="603.0" r="0.9" fill="#3535a8"/><circle cx="441.5" cy="603.7" r="1.1" fill="#3535a8"/><circle cx="442.3" cy="603.3" r="0.8" fill="#3535a8"/><circle cx="438.7" cy="609.6" r="0.7" fill="#2f9e40"/><circle cx="438.7" cy="611.6" r="1.0" fill="#2f9e40"/><circle cx="428.5" cy="589.8" r="0.7" fill="#3535a8"/><circle cx="426.9" cy="592.0" r="1.0" fill="#3535a8"/><circle cx="428.7" cy="593.2" r="0.8" fill="#3535a8"/><circle cx="462.4" cy="625.6" r="1.2" fill="#2f9e40"/><circle cx="499.7" cy="597.1" r="0.7" fill="#2f9e40"/><circle cx="422.0" cy="576.4" r="0.8" fill="#3535a8"/><circle cx="420.7" cy="578.5" r="0.9" fill="#3535a8"/><circle cx="419.8" cy="579.3" r="1.1" fill="#3535a8"/><circle cx="418.6" cy="580.8" r="1.2" fill="#3535a8"/><circle cx="437.6" cy="580.9" r="0.7" fill="#2f9e40"/><circle cx="464.3" cy="614.2" r="0.9" fill="#2f9e40"/><circle cx="431.4" cy="605.5" r="0.9" fill="#2f9e40"/><circle cx="464.1" cy="632.3" r="1.0" fill="#2f9e40"/><circle cx="464.8" cy="633.7" r="1.1" fill="#2f9e40"/><circle cx="465.5" cy="635.0" r="1.1" fill="#2f9e40"/><circle cx="406.5" cy="587.8" r="0.8" fill="#2f9e40"/><circle cx="438.9" cy="600.7" r="1.2" fill="#2f9e40"/><circle cx="438.4" cy="599.9" r="0.9" fill="#2f9e40"/><circle cx="436.7" cy="600.9" r="0.8" fill="#2f9e40"/><circle cx="435.6" cy="602.1" r="0.8" fill="#2f9e40"/><circle cx="435.4" cy="567.0" r="0.9" fill="#2f9e40"/><circle cx="433.4" cy="567.8" r="1.2" fill="#2f9e40"/><circle cx="434.2" cy="569.0" r="0.9" fill="#2f9e40"/><circle cx="433.1" cy="570.2" r="0.9" fill="#2f9e40"/><circle cx="465.3" cy="572.6" r="1.1" fill="#2f9e40"/><circle cx="418.3" cy="563.7" r="1.0" fill="#2f9e40"/><circle cx="490.6" cy="554.3" r="0.9" fill="#3535a8"/><circle cx="489.0" cy="556.4" r="0.7" fill="#3535a8"/><circle cx="488.0" cy="556.7" r="0.8" fill="#3535a8"/><circle cx="470.6" cy="583.0" r="0.7" fill="#d84040"/><circle cx="470.4" cy="584.2" r="0.7" fill="#d84040"/><circle cx="470.3" cy="585.1" r="0.8" fill="#d84040"/><circle cx="435.2" cy="577.5" r="1.1" fill="#3535a8"/><circle cx="435.3" cy="578.9" r="1.1" fill="#3535a8"/><circle cx="435.8" cy="580.1" r="1.2" fill="#3535a8"/><circle cx="435.6" cy="581.3" r="0.8" fill="#3535a8"/><circle cx="435.5" cy="595.2" r="0.9" fill="#2f9e40"/><circle cx="448.8" cy="589.5" r="1.2" fill="#2f9e40"/><circle cx="449.4" cy="592.1" r="1.0" fill="#2f9e40"/><circle cx="450.5" cy="591.8" r="0.7" fill="#2f9e40"/><circle cx="451.2" cy="593.1" r="1.2" fill="#2f9e40"/><circle cx="437.7" cy="570.9" r="1.1" fill="#3535a8"/><circle cx="437.6" cy="572.0" r="1.0" fill="#3535a8"/><circle cx="435.3" cy="586.3" r="0.8" fill="#3535a8"/><circle cx="436.9" cy="587.4" r="0.8" fill="#3535a8"/><circle cx="411.8" cy="557.8" r="0.9" fill="#3535a8"/><circle cx="412.9" cy="558.1" r="1.1" fill="#3535a8"/><circle cx="414.4" cy="557.9" r="0.8" fill="#3535a8"/><circle cx="435.9" cy="556.1" r="1.1" fill="#2f9e40"/><circle cx="434.4" cy="556.2" r="0.7" fill="#2f9e40"/><circle cx="433.4" cy="558.5" r="1.1" fill="#2f9e40"/><circle cx="416.1" cy="589.7" r="0.9" fill="#2f9e40"/><circle cx="415.2" cy="591.7" r="1.1" fill="#2f9e40"/><circle cx="413.1" cy="592.1" r="0.8" fill="#2f9e40"/><circle cx="412.4" cy="593.0" r="1.2" fill="#2f9e40"/><circle cx="414.4" cy="615.9" r="0.8" fill="#d84040"/><circle cx="412.8" cy="616.8" r="1.2" fill="#d84040"/><circle cx="412.6" cy="618.0" r="0.9" fill="#d84040"/><circle cx="411.0" cy="618.7" r="1.2" fill="#d84040"/><circle cx="423.0" cy="559.5" r="0.8" fill="#2f9e40"/><circle cx="421.1" cy="559.8" r="0.8" fill="#2f9e40"/><circle cx="420.7" cy="560.9" r="1.0" fill="#2f9e40"/><circle cx="418.8" cy="563.0" r="1.0" fill="#2f9e40"/><circle cx="413.1" cy="637.3" r="1.1" fill="#3535a8"/><circle cx="413.7" cy="638.0" r="1.0" fill="#3535a8"/><circle cx="415.0" cy="642.1" r="1.1" fill="#3535a8"/><circle cx="442.5" cy="633.9" r="0.8" fill="#2f9e40"/><circle cx="443.1" cy="635.3" r="0.8" fill="#2f9e40"/><circle cx="436.1" cy="622.5" r="1.2" fill="#2f9e40"/><circle cx="414.0" cy="615.5" r="0.7" fill="#2f9e40"/><circle cx="413.5" cy="616.4" r="0.9" fill="#2f9e40"/><circle cx="411.9" cy="617.2" r="0.9" fill="#2f9e40"/><circle cx="410.3" cy="617.3" r="0.7" fill="#2f9e40"/><circle cx="472.0" cy="613.8" r="1.0" fill="#2f9e40"/><circle cx="469.9" cy="614.3" r="0.9" fill="#2f9e40"/><circle cx="468.4" cy="615.4" r="1.2" fill="#2f9e40"/><circle cx="467.3" cy="616.4" r="0.7" fill="#2f9e40"/><circle cx="435.3" cy="569.8" r="0.7" fill="#3535a8"/><circle cx="436.8" cy="570.4" r="1.0" fill="#3535a8"/><circle cx="437.0" cy="571.5" r="0.7" fill="#3535a8"/><circle cx="494.7" cy="611.3" r="0.9" fill="#d84040"/><circle cx="494.8" cy="612.7" r="0.7" fill="#d84040"/><circle cx="494.8" cy="614.4" r="0.9" fill="#d84040"/><circle cx="493.3" cy="615.7" r="1.0" fill="#d84040"/><circle cx="415.0" cy="562.3" r="0.8" fill="#2f9e40"/><circle cx="415.9" cy="562.8" r="1.0" fill="#2f9e40"/><circle cx="451.6" cy="643.4" r="0.7" fill="#2f9e40"/><circle cx="450.8" cy="644.5" r="0.7" fill="#2f9e40"/><circle cx="420.4" cy="595.9" r="1.0" fill="#2f9e40"/><circle cx="420.0" cy="597.3" r="0.8" fill="#2f9e40"/><circle cx="434.6" cy="569.2" r="1.0" fill="#2f9e40"/><circle cx="434.6" cy="570.8" r="1.2" fill="#2f9e40"/><circle cx="434.3" cy="571.8" r="1.2" fill="#2f9e40"/><circle cx="457.3" cy="598.8" r="0.8" fill="#3535a8"/><circle cx="457.5" cy="600.6" r="0.9" fill="#3535a8"/><circle cx="458.1" cy="602.1" r="1.2" fill="#3535a8"/><circle cx="424.0" cy="629.6" r="1.0" fill="#2f9e40"/><circle cx="422.7" cy="629.9" r="0.7" fill="#2f9e40"/><circle cx="421.1" cy="629.9" r="0.9" fill="#2f9e40"/><circle cx="446.3" cy="606.4" r="0.7" fill="#3535a8"/><circle cx="435.0" cy="600.3" r="0.7" fill="#2f9e40"/><circle cx="436.5" cy="601.9" r="1.1" fill="#2f9e40"/><circle cx="425.0" cy="580.6" r="0.7" fill="#3535a8"/><circle cx="424.4" cy="581.9" r="1.1" fill="#3535a8"/><circle cx="423.6" cy="583.2" r="0.7" fill="#3535a8"/><circle cx="472.4" cy="575.3" r="1.0" fill="#d84040"/><circle cx="472.8" cy="575.8" r="0.7" fill="#d84040"/><circle cx="429.9" cy="562.7" r="0.8" fill="#3535a8"/><circle cx="430.6" cy="564.5" r="1.2" fill="#3535a8"/><circle cx="432.1" cy="565.6" r="1.2" fill="#3535a8"/><circle cx="433.0" cy="565.9" r="0.9" fill="#3535a8"/><circle cx="459.3" cy="604.8" r="1.0" fill="#2f9e40"/><circle cx="458.4" cy="606.3" r="1.0" fill="#2f9e40"/><circle cx="421.6" cy="548.3" r="0.9" fill="#3535a8"/><circle cx="421.6" cy="564.0" r="1.2" fill="#2f9e40"/><circle cx="422.7" cy="565.7" r="0.9" fill="#2f9e40"/><circle cx="424.2" cy="596.0" r="0.7" fill="#2f9e40"/><circle cx="424.7" cy="597.2" r="1.0" fill="#2f9e40"/><circle cx="423.9" cy="598.4" r="1.1" fill="#2f9e40"/><circle cx="422.1" cy="599.4" r="1.1" fill="#2f9e40"/><circle cx="434.1" cy="615.6" r="0.7" fill="#3535a8"/><circle cx="433.5" cy="617.3" r="1.0" fill="#3535a8"/><circle cx="433.3" cy="619.3" r="1.0" fill="#3535a8"/><circle cx="432.7" cy="620.1" r="0.8" fill="#3535a8"/><circle cx="449.4" cy="609.7" r="0.7" fill="#2f9e40"/><circle cx="449.1" cy="612.0" r="1.1" fill="#2f9e40"/><circle cx="439.0" cy="623.3" r="0.8" fill="#3535a8"/><circle cx="439.8" cy="623.8" r="0.8" fill="#3535a8"/><circle cx="433.4" cy="618.9" r="1.1" fill="#3535a8"/><circle cx="433.9" cy="620.5" r="0.8" fill="#3535a8"/><circle cx="432.3" cy="620.8" r="0.9" fill="#3535a8"/><circle cx="425.6" cy="620.8" r="0.8" fill="#2f9e40"/><circle cx="424.3" cy="622.1" r="0.8" fill="#2f9e40"/><circle cx="423.7" cy="622.9" r="0.8" fill="#2f9e40"/><circle cx="421.9" cy="624.4" r="0.9" fill="#2f9e40"/><circle cx="447.8" cy="596.5" r="0.7" fill="#2f9e40"/><circle cx="408.6" cy="643.5" r="1.0" fill="#d84040"/><circle cx="409.7" cy="644.2" r="0.7" fill="#d84040"/><circle cx="410.3" cy="645.6" r="1.2" fill="#d84040"/><circle cx="468.8" cy="580.4" r="1.2" fill="#2f9e40"/><circle cx="488.9" cy="621.8" r="1.0" fill="#2f9e40"/><circle cx="420.0" cy="610.6" r="0.7" fill="#3535a8"/><circle cx="418.8" cy="611.1" r="1.0" fill="#3535a8"/><circle cx="446.6" cy="550.1" r="1.2" fill="#3535a8"/><circle cx="467.1" cy="639.3" r="1.2" fill="#2f9e40"/><circle cx="467.7" cy="641.4" r="0.8" fill="#2f9e40"/><circle cx="467.7" cy="643.0" r="1.1" fill="#2f9e40"/><circle cx="422.8" cy="602.3" r="1.0" fill="#3535a8"/><circle cx="424.0" cy="603.4" r="0.9" fill="#3535a8"/><circle cx="440.0" cy="602.2" r="1.2" fill="#2f9e40"/><circle cx="443.1" cy="627.8" r="0.7" fill="#2f9e40"/><circle cx="445.1" cy="629.1" r="0.8" fill="#2f9e40"/><circle cx="446.0" cy="628.3" r="1.2" fill="#2f9e40"/><circle cx="447.5" cy="615.3" r="0.7" fill="#2f9e40"/><circle cx="446.1" cy="615.4" r="1.2" fill="#2f9e40"/><circle cx="425.0" cy="579.6" r="0.9" fill="#2f9e40"/><circle cx="484.0" cy="562.4" r="0.8" fill="#3535a8"/><circle cx="499.8" cy="639.7" r="0.8" fill="#d84040"/><circle cx="501.7" cy="641.1" r="1.2" fill="#d84040"/><circle cx="502.1" cy="641.1" r="0.7" fill="#d84040"/><circle cx="502.8" cy="643.7" r="1.2" fill="#d84040"/><circle cx="437.4" cy="631.0" r="0.9" fill="#2f9e40"/><circle cx="437.9" cy="632.2" r="0.7" fill="#2f9e40"/><circle cx="438.6" cy="632.7" r="1.2" fill="#2f9e40"/><circle cx="449.7" cy="626.6" r="0.9" fill="#2f9e40"/><circle cx="448.9" cy="627.0" r="1.1" fill="#2f9e40"/><circle cx="445.1" cy="570.3" r="1.2" fill="#2f9e40"/><circle cx="443.9" cy="572.0" r="1.2" fill="#2f9e40"/><circle cx="444.5" cy="573.7" r="0.9" fill="#2f9e40"/><circle cx="443.6" cy="574.7" r="1.1" fill="#2f9e40"/><circle cx="440.0" cy="630.6" r="1.2" fill="#2f9e40"/><circle cx="443.2" cy="609.0" r="1.2" fill="#2f9e40"/><circle cx="444.4" cy="609.5" r="0.9" fill="#2f9e40"/><circle cx="445.6" cy="609.9" r="0.8" fill="#2f9e40"/><circle cx="427.9" cy="574.2" r="1.0" fill="#3535a8"/><circle cx="430.1" cy="621.1" r="1.1" fill="#3535a8"/><circle cx="450.5" cy="617.0" r="1.0" fill="#2f9e40"/><circle cx="440.5" cy="631.1" r="0.9" fill="#2f9e40"/><circle cx="441.6" cy="632.1" r="1.0" fill="#2f9e40"/><circle cx="442.2" cy="615.5" r="0.9" fill="#2f9e40"/><circle cx="441.3" cy="615.3" r="0.7" fill="#2f9e40"/><circle cx="473.4" cy="634.5" r="1.0" fill="#2f9e40"/><circle cx="475.6" cy="635.1" r="1.2" fill="#2f9e40"/><circle cx="443.4" cy="595.9" r="1.1" fill="#3535a8"/><circle cx="474.4" cy="547.6" r="1.1" fill="#3535a8"/><circle cx="460.2" cy="567.3" r="0.7" fill="#3535a8"/><circle cx="459.2" cy="568.9" r="0.8" fill="#3535a8"/><circle cx="458.8" cy="570.5" r="1.0" fill="#3535a8"/><circle cx="440.3" cy="589.9" r="0.8" fill="#3535a8"/><circle cx="439.7" cy="590.3" r="0.9" fill="#3535a8"/><circle cx="439.1" cy="592.8" r="1.2" fill="#3535a8"/><circle cx="446.2" cy="622.3" r="1.0" fill="#2f9e40"/><circle cx="447.9" cy="623.4" r="0.9" fill="#2f9e40"/><circle cx="449.2" cy="624.2" r="1.0" fill="#2f9e40"/><circle cx="437.6" cy="613.0" r="1.2" fill="#2f9e40"/><circle cx="436.0" cy="614.6" r="0.7" fill="#2f9e40"/><circle cx="435.4" cy="615.4" r="0.8" fill="#2f9e40"/><circle cx="434.1" cy="616.6" r="0.7" fill="#2f9e40"/><circle cx="443.0" cy="597.7" r="0.8" fill="#2f9e40"/><circle cx="443.1" cy="599.4" r="0.8" fill="#2f9e40"/><circle cx="442.9" cy="599.7" r="1.1" fill="#2f9e40"/><circle cx="421.3" cy="631.6" r="0.8" fill="#2f9e40"/><circle cx="422.9" cy="632.9" r="1.2" fill="#2f9e40"/><circle cx="418.5" cy="550.0" r="0.7" fill="#3535a8"/><circle cx="418.1" cy="551.4" r="0.7" fill="#3535a8"/><circle cx="417.7" cy="553.3" r="1.2" fill="#3535a8"/><circle cx="453.5" cy="608.3" r="0.7" fill="#2f9e40"/><circle cx="452.9" cy="608.9" r="0.7" fill="#2f9e40"/><circle cx="451.6" cy="610.6" r="1.1" fill="#2f9e40"/><circle cx="441.9" cy="581.6" r="1.1" fill="#2f9e40"/><circle cx="465.8" cy="639.4" r="0.8" fill="#2f9e40"/><circle cx="465.8" cy="640.7" r="0.9" fill="#2f9e40"/><circle cx="466.3" cy="642.3" r="0.8" fill="#2f9e40"/><circle cx="465.8" cy="643.7" r="1.1" fill="#2f9e40"/><circle cx="414.3" cy="558.4" r="1.2" fill="#3535a8"/><circle cx="413.1" cy="560.0" r="1.2" fill="#3535a8"/><circle cx="412.9" cy="560.7" r="1.1" fill="#3535a8"/><circle cx="411.1" cy="562.2" r="1.2" fill="#3535a8"/><circle cx="437.3" cy="584.0" r="1.0" fill="#3535a8"/><circle cx="438.2" cy="586.5" r="1.0" fill="#3535a8"/><circle cx="438.7" cy="587.3" r="1.0" fill="#3535a8"/><circle cx="461.6" cy="621.2" r="1.2" fill="#d84040"/><circle cx="463.8" cy="621.3" r="1.0" fill="#d84040"/><circle cx="465.4" cy="622.1" r="1.1" fill="#d84040"/><circle cx="447.6" cy="633.2" r="0.7" fill="#2f9e40"/><circle cx="436.5" cy="621.5" r="0.8" fill="#2f9e40"/><circle cx="438.4" cy="622.1" r="0.9" fill="#2f9e40"/><circle cx="463.9" cy="552.7" r="1.0" fill="#3535a8"/><circle cx="463.9" cy="553.4" r="1.1" fill="#3535a8"/><circle cx="462.8" cy="555.0" r="0.8" fill="#3535a8"/><circle cx="446.9" cy="595.5" r="0.7" fill="#2f9e40"/><circle cx="447.6" cy="596.2" r="0.7" fill="#2f9e40"/><circle cx="448.1" cy="596.8" r="0.8" fill="#2f9e40"/><circle cx="449.7" cy="599.1" r="1.0" fill="#2f9e40"/><circle cx="461.6" cy="608.3" r="0.7" fill="#2f9e40"/><circle cx="459.8" cy="607.9" r="1.0" fill="#2f9e40"/><circle cx="458.8" cy="609.2" r="0.7" fill="#2f9e40"/><circle cx="421.2" cy="577.4" r="1.1" fill="#d84040"/><circle cx="421.2" cy="577.7" r="1.1" fill="#d84040"/><circle cx="423.7" cy="639.4" r="0.7" fill="#2f9e40"/><circle cx="422.1" cy="640.4" r="1.1" fill="#2f9e40"/><circle cx="443.6" cy="619.2" r="1.0" fill="#3535a8"/><circle cx="442.2" cy="620.5" r="1.0" fill="#3535a8"/><circle cx="440.6" cy="620.8" r="0.8" fill="#3535a8"/><circle cx="440.1" cy="622.0" r="0.8" fill="#3535a8"/><circle cx="408.1" cy="569.1" r="0.9" fill="#3535a8"/><circle cx="406.7" cy="569.9" r="0.8" fill="#3535a8"/><circle cx="405.6" cy="570.1" r="1.1" fill="#3535a8"/><circle cx="453.1" cy="557.7" r="1.0" fill="#3535a8"/><circle cx="453.8" cy="557.5" r="1.0" fill="#3535a8"/><circle cx="444.5" cy="600.4" r="0.8" fill="#2f9e40"/><circle cx="445.1" cy="601.3" r="0.8" fill="#2f9e40"/><circle cx="446.7" cy="601.3" r="0.9" fill="#2f9e40"/><circle cx="447.8" cy="602.2" r="0.8" fill="#2f9e40"/><circle cx="419.7" cy="626.0" r="1.0" fill="#2f9e40"/><circle cx="419.2" cy="625.3" r="0.8" fill="#2f9e40"/><circle cx="417.4" cy="625.4" r="0.8" fill="#2f9e40"/><circle cx="416.7" cy="625.6" r="0.7" fill="#2f9e40"/><circle cx="481.2" cy="557.0" r="0.8" fill="#2f9e40"/><circle cx="481.9" cy="559.3" r="1.0" fill="#2f9e40"/><circle cx="482.2" cy="560.5" r="1.1" fill="#2f9e40"/><circle cx="482.2" cy="562.7" r="1.0" fill="#2f9e40"/><circle cx="439.9" cy="587.5" r="0.7" fill="#2f9e40"/><circle cx="433.7" cy="593.7" r="1.0" fill="#3535a8"/><circle cx="483.8" cy="562.4" r="1.1" fill="#3535a8"/><circle cx="442.0" cy="578.2" r="0.9" fill="#3535a8"/><circle cx="440.7" cy="579.3" r="0.8" fill="#3535a8"/><circle cx="439.7" cy="580.0" r="1.0" fill="#3535a8"/><circle cx="490.9" cy="548.8" r="1.0" fill="#3535a8"/><circle cx="491.6" cy="549.8" r="0.8" fill="#3535a8"/><circle cx="441.6" cy="634.7" r="0.9" fill="#2f9e40"/><circle cx="442.7" cy="635.2" r="0.9" fill="#2f9e40"/><circle cx="460.0" cy="640.2" r="1.0" fill="#2f9e40"/><circle cx="459.9" cy="642.1" r="1.0" fill="#2f9e40"/><circle cx="459.7" cy="642.8" r="0.7" fill="#2f9e40"/><circle cx="443.1" cy="638.1" r="0.9" fill="#2f9e40"/><circle cx="444.7" cy="637.9" r="1.1" fill="#2f9e40"/><circle cx="421.0" cy="550.4" r="0.8" fill="#3535a8"/><circle cx="458.7" cy="605.5" r="0.7" fill="#2f9e40"/><circle cx="457.9" cy="606.4" r="1.1" fill="#2f9e40"/><circle cx="458.6" cy="608.0" r="1.1" fill="#2f9e40"/><circle cx="458.7" cy="609.8" r="1.1" fill="#2f9e40"/><circle cx="501.1" cy="568.0" r="0.8" fill="#3535a8"/><circle cx="500.4" cy="569.4" r="0.9" fill="#3535a8"/><circle cx="500.2" cy="570.7" r="0.7" fill="#3535a8"/><circle cx="434.0" cy="579.7" r="0.8" fill="#3535a8"/><circle cx="434.3" cy="580.5" r="0.8" fill="#3535a8"/><circle cx="434.7" cy="582.0" r="1.2" fill="#3535a8"/><circle cx="464.3" cy="618.5" r="0.8" fill="#2f9e40"/><circle cx="465.2" cy="619.3" r="1.0" fill="#2f9e40"/><circle cx="466.4" cy="601.1" r="0.9" fill="#3535a8"/><circle cx="467.4" cy="602.5" r="1.2" fill="#3535a8"/><circle cx="483.4" cy="601.2" r="1.2" fill="#2f9e40"/><circle cx="484.1" cy="600.8" r="1.2" fill="#2f9e40"/><circle cx="473.7" cy="627.0" r="1.2" fill="#2f9e40"/><circle cx="472.1" cy="628.0" r="0.7" fill="#2f9e40"/><circle cx="466.0" cy="624.8" r="1.0" fill="#2f9e40"/><circle cx="466.7" cy="626.3" r="0.7" fill="#2f9e40"/><circle cx="418.9" cy="547.1" r="0.9" fill="#3535a8"/><circle cx="419.4" cy="549.0" r="0.8" fill="#3535a8"/><circle cx="419.4" cy="550.3" r="0.7" fill="#3535a8"/><circle cx="428.4" cy="589.1" r="0.7" fill="#3535a8"/><circle cx="464.5" cy="642.1" r="1.1" fill="#2f9e40"/><circle cx="466.2" cy="642.4" r="1.1" fill="#2f9e40"/><circle cx="467.8" cy="642.1" r="0.7" fill="#2f9e40"/><circle cx="421.5" cy="638.2" r="0.8" fill="#2f9e40"/><circle cx="421.0" cy="640.3" r="1.0" fill="#2f9e40"/><circle cx="419.3" cy="641.2" r="0.7" fill="#2f9e40"/><circle cx="484.8" cy="572.7" r="0.8" fill="#2f9e40"/><circle cx="433.9" cy="592.2" r="1.0" fill="#3535a8"/><circle cx="434.4" cy="593.2" r="0.7" fill="#3535a8"/><circle cx="435.8" cy="594.2" r="0.7" fill="#3535a8"/><circle cx="436.3" cy="594.9" r="0.8" fill="#3535a8"/><circle cx="454.6" cy="550.1" r="1.2" fill="#2f9e40"/><circle cx="452.8" cy="550.6" r="0.9" fill="#2f9e40"/><circle cx="426.0" cy="545.6" r="0.8" fill="#2f9e40"/><circle cx="420.5" cy="604.5" r="1.0" fill="#3535a8"/><circle cx="478.7" cy="638.4" r="0.8" fill="#3535a8"/><circle cx="454.1" cy="628.0" r="1.0" fill="#2f9e40"/><circle cx="453.3" cy="628.3" r="0.8" fill="#2f9e40"/><circle cx="451.6" cy="629.6" r="0.7" fill="#2f9e40"/><circle cx="422.6" cy="554.8" r="1.0" fill="#3535a8"/><circle cx="423.9" cy="555.4" r="0.9" fill="#3535a8"/><circle cx="425.9" cy="555.7" r="0.7" fill="#3535a8"/><circle cx="447.7" cy="580.2" r="1.1" fill="#2f9e40"/><circle cx="446.4" cy="580.8" r="1.1" fill="#2f9e40"/><circle cx="445.9" cy="582.0" r="1.1" fill="#2f9e40"/><circle cx="462.4" cy="590.4" r="0.9" fill="#2f9e40"/><circle cx="460.0" cy="591.6" r="0.9" fill="#2f9e40"/><circle cx="459.5" cy="593.3" r="1.1" fill="#2f9e40"/><circle cx="477.2" cy="558.6" r="0.9" fill="#2f9e40"/><circle cx="476.6" cy="559.4" r="0.9" fill="#2f9e40"/><circle cx="411.9" cy="596.2" r="1.1" fill="#3535a8"/><circle cx="443.9" cy="545.9" r="1.2" fill="#2f9e40"/><circle cx="442.2" cy="546.5" r="1.2" fill="#2f9e40"/><circle cx="440.9" cy="546.0" r="1.1" fill="#2f9e40"/><circle cx="439.4" cy="546.2" r="1.1" fill="#2f9e40"/><circle cx="472.7" cy="570.9" r="1.0" fill="#2f9e40"/><circle cx="439.3" cy="569.6" r="0.9" fill="#2f9e40"/><circle cx="438.7" cy="571.3" r="1.0" fill="#2f9e40"/><circle cx="433.8" cy="615.3" r="1.2" fill="#3535a8"/><circle cx="434.4" cy="616.4" r="1.1" fill="#3535a8"/><circle cx="456.0" cy="554.6" r="0.8" fill="#3535a8"/><circle cx="455.9" cy="555.7" r="0.7" fill="#3535a8"/><circle cx="457.2" cy="556.4" r="1.0" fill="#3535a8"/><circle cx="456.9" cy="558.3" r="1.2" fill="#3535a8"/><circle cx="426.0" cy="597.3" r="1.0" fill="#3535a8"/><circle cx="426.0" cy="599.2" r="0.9" fill="#3535a8"/><circle cx="412.2" cy="624.1" r="1.1" fill="#2f9e40"/><circle cx="443.0" cy="579.9" r="1.2" fill="#2f9e40"/><circle cx="443.3" cy="580.7" r="0.8" fill="#2f9e40"/><circle cx="445.4" cy="581.5" r="1.1" fill="#2f9e40"/><circle cx="446.0" cy="582.0" r="1.2" fill="#2f9e40"/><circle cx="453.3" cy="571.6" r="0.7" fill="#2f9e40"/><circle cx="452.2" cy="572.5" r="0.9" fill="#2f9e40"/><circle cx="496.6" cy="553.1" r="1.2" fill="#2f9e40"/><circle cx="498.0" cy="554.3" r="1.2" fill="#2f9e40"/><circle cx="427.2" cy="550.4" r="1.0" fill="#3535a8"/><circle cx="426.2" cy="551.6" r="0.8" fill="#3535a8"/><circle cx="425.4" cy="552.6" r="0.9" fill="#3535a8"/><circle cx="425.8" cy="599.0" r="1.0" fill="#2f9e40"/><circle cx="424.9" cy="600.1" r="1.1" fill="#2f9e40"/><circle cx="445.6" cy="569.7" r="0.9" fill="#2f9e40"/><circle cx="444.6" cy="570.6" r="1.2" fill="#2f9e40"/><circle cx="443.4" cy="569.5" r="0.7" fill="#2f9e40"/><circle cx="415.5" cy="616.8" r="0.9" fill="#3535a8"/><circle cx="416.9" cy="617.1" r="0.8" fill="#3535a8"/><circle cx="418.5" cy="617.9" r="1.0" fill="#3535a8"/><circle cx="419.6" cy="618.4" r="1.0" fill="#3535a8"/><circle cx="431.1" cy="559.4" r="0.7" fill="#3535a8"/><circle cx="430.2" cy="561.3" r="1.1" fill="#3535a8"/><circle cx="458.1" cy="639.5" r="0.7" fill="#2f9e40"/><circle cx="459.2" cy="640.2" r="1.0" fill="#2f9e40"/><circle cx="461.0" cy="640.1" r="1.0" fill="#2f9e40"/><circle cx="433.9" cy="607.3" r="1.0" fill="#2f9e40"/><circle cx="432.9" cy="607.8" r="1.1" fill="#2f9e40"/><circle cx="430.9" cy="607.7" r="1.2" fill="#2f9e40"/><circle cx="428.9" cy="608.1" r="0.8" fill="#2f9e40"/><circle cx="497.2" cy="557.7" r="1.2" fill="#3535a8"/><circle cx="496.1" cy="559.6" r="0.8" fill="#3535a8"/><circle cx="496.3" cy="561.2" r="1.0" fill="#3535a8"/><circle cx="442.5" cy="621.5" r="0.7" fill="#d84040"/><circle cx="443.1" cy="621.5" r="0.8" fill="#d84040"/><circle cx="444.9" cy="622.8" r="0.8" fill="#d84040"/><circle cx="484.1" cy="559.7" r="1.2" fill="#3535a8"/><circle cx="414.0" cy="586.1" r="1.1" fill="#2f9e40"/><circle cx="414.8" cy="588.6" r="0.8" fill="#2f9e40"/><circle cx="427.9" cy="601.5" r="0.9" fill="#2f9e40"/><circle cx="429.8" cy="604.0" r="0.7" fill="#2f9e40"/><circle cx="437.6" cy="571.7" r="1.0" fill="#2f9e40"/><circle cx="437.4" cy="573.3" r="1.0" fill="#2f9e40"/><circle cx="437.2" cy="574.8" r="0.9" fill="#2f9e40"/><circle cx="437.0" cy="575.9" r="1.2" fill="#2f9e40"/><circle cx="430.4" cy="610.2" r="0.7" fill="#2f9e40"/><circle cx="433.4" cy="611.6" r="1.0" fill="#2f9e40"/><circle cx="433.6" cy="612.9" r="1.2" fill="#2f9e40"/><circle cx="435.3" cy="613.4" r="0.9" fill="#2f9e40"/><circle cx="427.6" cy="597.5" r="1.2" fill="#3535a8"/><circle cx="426.6" cy="599.2" r="1.2" fill="#3535a8"/><circle cx="473.8" cy="622.6" r="0.9" fill="#3535a8"/><circle cx="473.8" cy="624.8" r="1.0" fill="#3535a8"/><circle cx="430.5" cy="609.3" r="0.8" fill="#2f9e40"/><circle cx="430.7" cy="611.5" r="1.1" fill="#2f9e40"/><circle cx="430.8" cy="612.9" r="0.8" fill="#2f9e40"/><circle cx="435.9" cy="631.3" r="1.0" fill="#2f9e40"/><circle cx="434.8" cy="631.3" r="0.7" fill="#2f9e40"/><circle cx="439.7" cy="628.6" r="0.7" fill="#3535a8"/><circle cx="414.5" cy="560.0" r="1.2" fill="#2f9e40"/><circle cx="413.0" cy="559.4" r="0.7" fill="#2f9e40"/><circle cx="412.3" cy="560.1" r="1.1" fill="#2f9e40"/><circle cx="410.3" cy="561.3" r="0.9" fill="#2f9e40"/><circle cx="417.0" cy="633.4" r="0.9" fill="#2f9e40"/><circle cx="432.7" cy="628.5" r="0.9" fill="#2f9e40"/><circle cx="431.7" cy="628.4" r="0.8" fill="#2f9e40"/><circle cx="457.3" cy="570.6" r="0.8" fill="#3535a8"/><circle cx="456.2" cy="570.3" r="0.8" fill="#3535a8"/><circle cx="454.2" cy="571.1" r="1.1" fill="#3535a8"/><circle cx="429.8" cy="595.9" r="0.7" fill="#3535a8"/><circle cx="435.1" cy="584.6" r="1.2" fill="#3535a8"/><circle cx="432.9" cy="585.3" r="1.0" fill="#3535a8"/><circle cx="432.5" cy="587.9" r="0.7" fill="#3535a8"/><circle cx="417.4" cy="601.0" r="0.8" fill="#2f9e40"/><circle cx="499.4" cy="575.1" r="0.9" fill="#3535a8"/></g>
<path d="M480.6 564L481.8 564L483.6 590L478.8 590Z" fill="#3535a8"/><path d="M478 588.6H505" stroke="#2a6a5a" stroke-width="1.6"/><circle cx="409" cy="611" r="1.6" fill="#3535a8"/><circle cx="421" cy="547" r="1.3" fill="#3535a8"/>
<text x="399" y="537.6" font-family="'Liberation Sans', Arial, Helvetica, sans-serif" font-size="6.15" fill="#222" stroke="#222" stroke-width="0.1">Spot summary: <tspan fill="#e04848" stroke="#e04848">up</tspan>/<tspan fill="#5454c4" stroke="#5454c4">down</tspan>/<tspan fill="#3cae48" stroke="#3cae48">non</tspan>regulated</text><rect x="0.5" y="0.5" width="519" height="661" fill="none" stroke="#777" stroke-width="1"/></svg></body></html>
